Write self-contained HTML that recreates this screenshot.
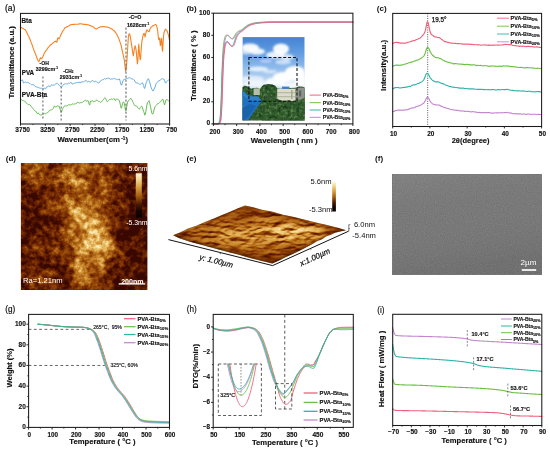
<!DOCTYPE html>
<html lang="en"><head><meta charset="utf-8"><title>PVA-Bta characterization figure</title>
<style>
html,body{margin:0;padding:0;background:#fff;}
body{width:550px;height:452px;overflow:hidden;}
svg{display:block;font-family:'Liberation Sans', Arial, sans-serif;}
text{font-family:'Liberation Sans', Arial, sans-serif;}
</style></head><body>
<svg width="550" height="452" viewBox="0 0 550 452">
<rect width="550" height="452" fill="#fff"/>
<defs>
<linearGradient id="sky" x1="0" y1="0" x2="0" y2="1">
 <stop offset="0" stop-color="#4583d3"/><stop offset="0.18" stop-color="#5f9be0"/>
 <stop offset="0.36" stop-color="#8dbaeb"/><stop offset="0.52" stop-color="#b9d4f0"/><stop offset="0.62" stop-color="#d2e2f2"/><stop offset="1" stop-color="#d2e2f2"/>
</linearGradient>
<clipPath id="photoClip"><rect x="242.4" y="37.1" width="62.3" height="83.4"/></clipPath>
<filter id="cloudBlur" x="-20%" y="-20%" width="140%" height="140%"><feGaussianBlur stdDeviation="1.1"/></filter>
<filter id="treeNoise" x="0" y="0" width="100%" height="100%" color-interpolation-filters="sRGB">
 <feTurbulence type="fractalNoise" baseFrequency="0.32" numOctaves="3" seed="3" result="n"/>
 <feColorMatrix in="n" type="matrix" values="0 0 0 0 0  0 0 0 0 0  0 0 0 0 0  2.2 0 0 0 -0.95" result="a"/>
 <feColorMatrix in="n" type="matrix" values="0 0 0 0 0  0 0 0 0 0  0 0 0 0 0  0 2.0 0 0 -0.95" result="b"/>
 <feFlood flood-color="#15331a"/><feComposite in2="a" operator="in" result="dark"/>
 <feFlood flood-color="#6f9a58"/><feComposite in2="b" operator="in" result="light"/>
 <feMerge><feMergeNode in="SourceGraphic"/><feMergeNode in="dark"/><feMergeNode in="light"/></feMerge>
 <feComposite in2="SourceGraphic" operator="in"/>
</filter>

<clipPath id="afmClip"><rect x="20.9" y="163.1" width="126.5" height="126.8"/></clipPath>
<filter id="afmMap" filterUnits="userSpaceOnUse" x="20.4" y="163.1" width="127.8" height="126.9" color-interpolation-filters="sRGB">
 <feGaussianBlur in="SourceGraphic" stdDeviation="4.5" result="base"/>
 <feTurbulence type="fractalNoise" baseFrequency="0.07" numOctaves="2" seed="11" result="t1"/>
 <feColorMatrix in="t1" type="matrix" values="1 0 0 0 0  1 0 0 0 0  1 0 0 0 0  0 0 0 0 1" result="tg1"/>
 <feTurbulence type="fractalNoise" baseFrequency="0.2" numOctaves="3" seed="4" result="t2"/>
 <feColorMatrix in="t2" type="matrix" values="0 1 0 0 0  0 1 0 0 0  0 1 0 0 0  0 0 0 0 1" result="tg2"/>
 <feComposite in="base" in2="tg1" operator="arithmetic" k1="0" k2="1.0" k3="0.7" k4="-0.15" result="h1"/>
 <feComposite in="h1" in2="tg2" operator="arithmetic" k1="0" k2="1.0" k3="0.7" k4="-0.60" result="h"/>
 <feComponentTransfer in="h">
  <feFuncR type="table" tableValues="0.22 0.34 0.46 0.57 0.69 0.80 0.90 0.97 1.00"/>
  <feFuncG type="table" tableValues="0.03 0.09 0.17 0.27 0.40 0.55 0.72 0.87 0.97"/>
  <feFuncB type="table" tableValues="0.00 0.00 0.01 0.03 0.09 0.19 0.37 0.62 0.88"/>
 </feComponentTransfer>
</filter>
<linearGradient id="afmBar" x1="0" y1="0" x2="0" y2="1">
 <stop offset="0" stop-color="#fff6e0"/><stop offset="0.12" stop-color="#f4dc9a"/><stop offset="0.3" stop-color="#d9a544"/>
 <stop offset="0.5" stop-color="#a8620f"/><stop offset="0.7" stop-color="#4a1a02"/><stop offset="0.85" stop-color="#140500"/><stop offset="1" stop-color="#050100"/>
</linearGradient>

<clipPath id="surfClip"><path d="M173 235.2 L180 232.4 L188 228.6 L197 225.4 L206 221.4 L214 218.6 L222 215.0 L230 211.8 L238 208.2 L245 205.6 L252 207.0 L262 209.8 L272 211.6 L283 214.8 L294 217.0 L305 219.8 L316 222.6 L327 225.0 L337 227.6 L346 230.2 L340 231.6 L335 232.8 L331 234.8 L326 236.6 L322 239.2 L317 241.2 L313 243.8 L304 248.4 L295 253.0 L286 257.0 L279 260.4 L272.4 263.6 L262 261.0 L250 258.0 L238 254.6 L226 251.6 L214 248.2 L202 245.0 L190 241.8 L180 238.6 Z"/></clipPath>
<filter id="surfMap" filterUnits="userSpaceOnUse" x="165" y="200" width="190" height="70" color-interpolation-filters="sRGB">
 <feGaussianBlur in="SourceGraphic" stdDeviation="3" result="base"/>
 <feTurbulence type="fractalNoise" baseFrequency="0.08 0.2" numOctaves="3" seed="5" result="t"/>
 <feColorMatrix in="t" type="matrix" values="0 0 0 0 1  0 0 0 0 1  0 0 0 0 1  1.6 0 0 0 -0.3" result="ta"/>
 <feDiffuseLighting in="ta" surfaceScale="1.9" diffuseConstant="1.0" lighting-color="#ffffff" result="lit">
  <feDistantLight azimuth="250" elevation="55"/>
 </feDiffuseLighting>
 <feComposite in="base" in2="lit" operator="arithmetic" k1="1.25" k2="0" k3="0" k4="-0.02" result="h"/>
 <feComponentTransfer in="h">
  <feFuncR type="table" tableValues="0.22 0.34 0.46 0.57 0.69 0.80 0.90 0.97 1.00"/>
  <feFuncG type="table" tableValues="0.03 0.09 0.17 0.27 0.40 0.55 0.72 0.87 0.97"/>
  <feFuncB type="table" tableValues="0.00 0.00 0.01 0.03 0.09 0.19 0.37 0.62 0.88"/>
 </feComponentTransfer>
</filter>
<linearGradient id="semShade" x1="0" y1="0" x2="0.25" y2="1"><stop offset="0" stop-color="#fff" stop-opacity="0.07"/><stop offset="0.5" stop-color="#808080" stop-opacity="0"/><stop offset="1" stop-color="#000" stop-opacity="0.07"/></linearGradient>
<filter id="semNoise" filterUnits="userSpaceOnUse" x="392.9" y="174.5" width="149.0" height="99.8" color-interpolation-filters="sRGB">
 <feTurbulence type="fractalNoise" baseFrequency="0.9" numOctaves="2" seed="2" result="t"/>
 <feColorMatrix in="t" type="matrix" values="0.10 0 0 0 0.425  0.10 0 0 0 0.425  0.10 0 0 0 0.425  0 0 0 0 1"/>
</filter>
</defs>
<text x="5" y="10.5" font-size="8.5" font-weight="normal" text-anchor="start" fill="#111" stroke="#111" stroke-width="0.22">(a)</text>
<polyline points="20.4,27.04 20.85,27.21 21.3,27.45 21.75,27.72 22.2,27.94 22.65,28.23 23.1,28.46 23.55,28.7 24,29.13 24.45,29.44 24.9,29.6 25.35,29.89 25.8,30.63 26.25,31.5 26.7,32.32 27.15,33.21 27.6,34.24 28.05,35.21 28.5,36.03 28.95,36.92 29.4,37.98 29.85,38.87 30.3,40.01 30.75,41.39 31.2,42.51 31.65,43.6 32.1,44.81 32.55,46.11 33,47.54 33.45,48.81 33.9,50.07 34.35,51.36 34.8,52.46 35.25,53.53 35.7,54.57 36.15,55.67 36.6,56.93 37.05,58.3 37.5,59.38 37.95,60.24 38.4,61.2 38.85,61.58 39.3,60.74 39.75,59.62 40.2,58.11 40.65,57.79 41.1,58.48 41.55,58.68 42,58.24 42.45,57.48 42.9,56.56 43.35,55.47 43.8,54.35 44.25,53.3 44.7,52.41 45.15,51.7 45.6,51.06 46.05,50.55 46.5,50.03 46.95,49.44 47.4,48.66 47.85,47.91 48.3,47.48 48.75,47.02 49.2,46.31 49.65,45.74 50.1,45.28 50.55,44.91 51,44.54 51.45,44.21 51.9,43.93 52.35,43.5 52.8,43.11 53.25,42.85 53.7,42.43 54.15,41.89 54.6,41.54 55.05,41.48 55.5,41.25 55.95,41.1 56.4,41.62 56.85,42.27 57.3,39.81 57.75,38.06 58.2,37.85 58.65,38.64 59.1,38.83 59.55,37.92 60,36.9 60.45,35.74 60.9,34.62 61.35,33.8 61.8,32.95 62.25,32.1 62.7,31.28 63.15,30.63 63.6,30.03 64.05,29.16 64.5,28.19 64.95,27.84 65.4,27.61 65.85,27.45 66.3,27.17 66.75,26.84 67.2,26.63 67.65,26.47 68.1,26.29 68.55,26.09 69,25.82 69.45,25.44 69.9,25.13 70.35,24.98 70.8,24.8 71.25,24.62 71.7,24.46 72.15,24.47 72.6,24.47 73.05,24.37 73.5,24.41 73.95,24.49 74.4,24.35 74.85,24.24 75.3,24.3 75.75,24.28 76.2,24.24 76.65,24.26 77.1,24.23 77.55,24.2 78,24.18 78.45,24.07 78.9,23.93 79.35,23.86 79.8,23.86 80.25,23.87 80.7,23.81 81.15,23.82 81.6,23.96 82.05,23.94 82.5,23.98 82.95,24.18 83.4,24.3 83.85,24.37 84.3,24.36 84.75,24.31 85.2,24.37 85.65,24.5 86.1,24.6 86.55,24.64 87,24.67 87.45,24.71 87.9,24.78 88.35,24.82 88.8,24.99 89.25,25.27 89.7,25.55 90.15,25.65 90.6,25.65 91.05,25.91 91.5,26.22 91.95,26.3 92.4,26.35 92.85,26.63 93.3,27 93.75,27.25 94.2,27.72 94.65,28.2 95.1,28.52 95.55,28.75 96,28.89 96.45,28.99 96.9,28.68 97.35,28.4 97.8,28.14 98.25,27.83 98.7,27.42 99.15,27.18 99.6,27.21 100.05,27.04 100.5,26.84 100.95,26.79 101.4,26.73 101.85,26.66 102.3,26.73 102.75,26.79 103.2,26.66 103.65,26.47 104.1,26.56 104.55,26.77 105,26.87 105.45,26.95 105.9,26.91 106.35,26.89 106.8,27.05 107.25,27.04 107.7,27.16 108.15,27.44 108.6,27.52 109.05,27.72 109.5,27.97 109.95,27.96 110.4,28.14 110.85,28.47 111.3,28.64 111.75,28.85 112.2,29.28 112.65,29.69 113.1,30 113.55,30.24 114,30.68 114.45,31.16 114.9,31.68 115.35,32.32 115.8,32.96 116.25,33.51 116.7,34.21 117.15,35.06 117.6,35.96 118.05,36.93 118.5,37.89 118.95,38.85 119.4,40.16 119.85,41.59 120.3,42.88 120.75,44.14 121.2,45.8 121.65,47.93 122.1,50.01 122.55,51.98 123,54.06 123.45,56.18 123.9,58.17 124.35,60.43 124.8,64.45 125.25,68.1 125.7,71.21 126.15,69.09 126.6,64.71 127.05,58.09 127.5,50.95 127.95,43.29 128.4,36.83 128.85,34.42 129.3,33.74 129.75,34.32 130.2,35.82 130.65,38.71 131.1,41.71 131.55,44.71 132,47.64 132.45,50.61 132.9,53.65 133.35,56.01 133.8,52.84 134.25,49.79 134.7,47.57 135.15,45.75 135.6,47.24 136.05,49.84 136.5,53.9 136.95,59.51 137.4,63.86 137.85,60.76 138.3,51.81 138.75,44.17 139.2,49.79 139.65,55.77 140.1,59.33 140.55,59.33 141,52 141.45,46.3 141.9,41.37 142.35,39.07 142.8,36.63 143.25,34.78 143.7,33.61 144.15,33.37 144.6,34.97 145.05,36.89 145.5,34.95 145.95,32.76 146.4,31.01 146.85,29.82 147.3,30.26 147.75,30.88 148.2,31.3 148.65,31.57 149.1,31.79 149.55,30.35 150,29.06 150.45,28.29 150.9,27.39 151.35,27 151.8,26.6 152.25,26.09 152.7,25.72 153.15,25.61 153.6,25.51 154.05,25.29 154.5,25.1 154.95,24.84 155.4,24.64 155.85,24.52 156.3,25.35 156.75,26.39 157.2,28.34 157.65,30.53 158.1,35.05 158.55,39.5 159,39.35 159.45,38.06 159.9,41.21 160.35,45.61 160.8,43.61 161.25,38.3 161.7,39.2 162.15,48.6 162.6,51.22 163.05,43.25 163.5,36 163.95,33.16 164.4,31.48 164.85,30.34 165.3,29.35 165.75,29.22 166.2,29.8 166.65,30.19 167.1,30.99 167.55,32.2 168,33.58 168.45,35.17 168.9,37.02 169.35,39.53" fill="none" stroke="#f58220" stroke-width="1.1" stroke-linejoin="round" stroke-linecap="round" />
<polyline points="20.4,80.21 20.95,80.65 21.5,80.5 22.05,79.69 22.6,80.11 23.15,82.02 23.7,83.13 24.25,82.78 24.8,82.26 25.35,81.94 25.9,82.21 26.45,82.82 27,82.53 27.55,82.33 28.1,82.54 28.65,82.83 29.2,83.27 29.75,83.53 30.3,83.7 30.85,84.26 31.4,84.68 31.95,84.57 32.5,84.71 33.05,84.86 33.6,84.74 34.15,85.23 34.7,86.14 35.25,86.63 35.8,86.54 36.35,86.72 36.9,87.25 37.45,87.32 38,87.39 38.55,87.68 39.1,87.82 39.65,88.06 40.2,88.32 40.75,88.22 41.3,88.2 41.85,88.28 42.4,88.32 42.95,88.53 43.5,88.57 44.05,88.37 44.6,88.26 45.15,88.49 45.7,88.69 46.25,87.76 46.8,86.78 47.35,86.83 47.9,86.36 48.45,86.03 49,86.25 49.55,86.3 50.1,86.6 50.65,86.26 51.2,85.18 51.75,84.7 52.3,85.12 52.85,85.34 53.4,85.19 53.95,85.16 54.5,84.83 55.05,84.33 55.6,83.95 56.15,83.72 56.7,83.27 57.25,83.34 57.8,84.09 58.35,84.37 58.9,84.6 59.45,85.48 60,86.07 60.55,86.71 61.1,87.31 61.65,86.91 62.2,86.36 62.75,85.52 63.3,84.58 63.85,84.43 64.4,84.18 64.95,83.74 65.5,83.77 66.05,83.88 66.6,83.92 67.15,83.99 67.7,83.73 68.25,83.29 68.8,83.16 69.35,83.24 69.9,83.19 70.45,82.61 71,82.25 71.55,83.14 72.1,84.14 72.65,83.93 73.2,83.66 73.75,83.76 74.3,83.18 74.85,82.82 75.4,83 75.95,82.84 76.5,82.5 77.05,82.31 77.6,82.52 78.15,82.51 78.7,81.95 79.25,82.04 79.8,82.92 80.35,82.83 80.9,81.84 81.45,81.96 82,82.36 82.55,81.83 83.1,81.66 83.65,81.85 84.2,81.48 84.75,81.09 85.3,80.92 85.85,80.43 86.4,80.49 86.95,81.53 87.5,82 88.05,81.56 88.6,81.32 89.15,81.47 89.7,81.8 90.25,82.43 90.8,81.9 91.35,81.1 91.9,80.77 92.45,80.51 93,81.01 93.55,81.35 94.1,81.31 94.65,81.61 95.2,81.52 95.75,81.14 96.3,81.53 96.85,82.17 97.4,82.43 97.95,82.68 98.5,83.02 99.05,82.86 99.6,81.93 100.15,81.2 100.7,80.7 101.25,80.58 101.8,80.22 102.35,79.63 102.9,79.69 103.45,79.69 104,79.09 104.55,78.54 105.1,78.76 105.65,79.12 106.2,78.91 106.75,78.22 107.3,78.29 107.85,78.5 108.4,78.08 108.95,78.03 109.5,78.81 110.05,79.33 110.6,79.17 111.15,78.93 111.7,79.05 112.25,79.2 112.8,78.87 113.35,78.41 113.9,78.55 114.45,78.72 115,78.54 115.55,78.87 116.1,79.39 116.65,79.35 117.2,79.38 117.75,79.81 118.3,79.66 118.85,78.83 119.4,79 119.95,80.54 120.5,82.65 121.05,84.88 121.6,85.05 122.15,83.39 122.7,81.89 123.25,80.27 123.8,79.37 124.35,79.28 124.9,79.36 125.45,79.11 126,78.96 126.55,78.35 127.1,78.28 127.65,78.39 128.2,77.95 128.75,77.96 129.3,77.76 129.85,77.63 130.4,78.02 130.95,78.3 131.5,78.74 132.05,78.95 132.6,79 133.15,79.32 133.7,79.68 134.25,80.01 134.8,81 135.35,82.06 135.9,82.8 136.45,82.92 137,82.69 137.55,83.03 138.1,83.18 138.65,83.48 139.2,84.12 139.75,84.45 140.3,84.27 140.85,83.88 141.4,83.4 141.95,82.89 142.5,82.86 143.05,84.12 143.6,85.59 144.15,87.6 144.7,88.51 145.25,86.36 145.8,84.09 146.35,82.37 146.9,81.2 147.45,79.51 148,78.81 148.55,78.86 149.1,80.34 149.65,81.83 150.2,84.04 150.75,86.28 151.3,88.06 151.85,89.32 152.4,90.01 152.95,91.1 153.5,90.63 154.05,89.09 154.6,88.01 155.15,86.77 155.7,84.82 156.25,83.26 156.8,82.74 157.35,82.39 157.9,81.91 158.45,81.06 159,80.34 159.55,80.55 160.1,80.33 160.65,79.63 161.2,79.32 161.75,78.97 162.3,78.64 162.85,78.81 163.4,78.96 163.95,79.23 164.5,80.19 165.05,82.02 165.6,83.12 166.15,82.13 166.7,81.78 167.25,81.24 167.8,80.41 168.35,80.05 168.9,80.1 169.45,79.94" fill="none" stroke="#5aa7e0" stroke-width="0.95" stroke-linejoin="round" stroke-linecap="round" />
<polyline points="20.4,99.94 20.95,99.8 21.5,99.77 22.05,100.13 22.6,100.59 23.15,100.67 23.7,100.73 24.25,101.06 24.8,101.37 25.35,101.6 25.9,102.54 26.45,103.33 27,103.43 27.55,103.9 28.1,104.53 28.65,104.79 29.2,104.85 29.75,104.63 30.3,105.11 30.85,106.09 31.4,106.71 31.95,107.24 32.5,108.1 33.05,108.83 33.6,109.34 34.15,109.83 34.7,110.61 35.25,111.31 35.8,111.38 36.35,111.68 36.9,113.03 37.45,113.73 38,112.89 38.55,113.13 39.1,114.28 39.65,114.63 40.2,114.89 40.75,114.92 41.3,115.06 41.85,114.8 42.4,114.17 42.95,113.88 43.5,113.87 44.05,113.85 44.6,113.46 45.15,113.49 45.7,113.91 46.25,113.36 46.8,112.85 47.35,112.74 47.9,112.18 48.45,111.83 49,111.46 49.55,110.34 50.1,109.83 50.65,110.12 51.2,109.91 51.75,109.58 52.3,109.32 52.85,108.95 53.4,108.47 53.95,106.91 54.5,105.8 55.05,106.43 55.6,107.14 56.15,107.04 56.7,106.19 57.25,105.65 57.8,106.09 58.35,106.12 58.9,106.06 59.45,107 60,108.92 60.55,110.68 61.1,112.4 61.65,111.81 62.2,109.68 62.75,108.55 63.3,107.59 63.85,106.66 64.4,106.04 64.95,105.75 65.5,105.9 66.05,105.97 66.6,105.94 67.15,105.95 67.7,105.33 68.25,104.75 68.8,104.91 69.35,104.88 69.9,104.81 70.45,104.91 71,104.9 71.55,104.65 72.1,104.05 72.65,103.85 73.2,104.27 73.75,104.09 74.3,103.82 74.85,104.1 75.4,103.91 75.95,103.52 76.5,103.35 77.05,102.9 77.6,102.21 78.15,102.23 78.7,102.98 79.25,103.24 79.8,102.86 80.35,102.64 80.9,102.74 81.45,102.64 82,102.35 82.55,102.27 83.1,101.92 83.65,101.46 84.2,101.22 84.75,100.37 85.3,99.98 85.85,100.61 86.4,101.14 86.95,101.14 87.5,100.69 88.05,100.6 88.6,102.07 89.15,104.26 89.7,105.14 90.25,102.19 90.8,100.93 91.35,101.19 91.9,100.88 92.45,100.42 93,101.12 93.55,102.02 94.1,101.53 94.65,101.33 95.2,101.58 95.75,101.03 96.3,100.08 96.85,100.14 97.4,100.55 97.95,100.9 98.5,101.45 99.05,101.66 99.6,101.55 100.15,102.02 100.7,102.43 101.25,102.02 101.8,101.38 102.35,100.92 102.9,100.42 103.45,99.58 104,98.47 104.55,98 105.1,98.03 105.65,98.26 106.2,99.83 106.75,100.86 107.3,101.77 107.85,101.2 108.4,100.68 108.95,100.15 109.5,99.67 110.05,99.24 110.6,99.49 111.15,99.39 111.7,99.01 112.25,99.21 112.8,99.55 113.35,99.07 113.9,98.46 114.45,98.88 115,100.3 115.55,100.56 116.1,99.38 116.65,98.77 117.2,99.1 117.75,99.42 118.3,99.71 118.85,99.83 119.4,100.72 119.95,102.91 120.5,105.59 121.05,108.23 121.6,107.82 122.15,105.02 122.7,103.17 123.25,101.91 123.8,102.2 124.35,103.36 124.9,106.59 125.45,110.17 126,110.98 126.55,107.65 127.1,104.76 127.65,102.03 128.2,101.07 128.75,100.22 129.3,99.98 129.85,99.3 130.4,98.54 130.95,98.34 131.5,99.19 132.05,100.03 132.6,101.16 133.15,102.59 133.7,103.77 134.25,104.8 134.8,105.62 135.35,105.85 135.9,105.69 136.45,105.81 137,106.55 137.55,107.63 138.1,108.23 138.65,108.52 139.2,109.23 139.75,108.79 140.3,107.52 140.85,106.79 141.4,106.42 141.95,106.33 142.5,107.83 143.05,109.88 143.6,111.47 144.15,112.71 144.7,115.08 145.25,114.66 145.8,111.83 146.35,108.4 146.9,105.04 147.45,102.84 148,102.02 148.55,101.49 149.1,100.63 149.65,102.91 150.2,105.22 150.75,107.87 151.3,110.43 151.85,113.01 152.4,114.12 152.95,113.94 153.5,112.27 154.05,109.96 154.6,107.87 155.15,106.6 155.7,105.8 156.25,105.34 156.8,104.42 157.35,103.93 157.9,103.67 158.45,103.52 159,103.19 159.55,102.59 160.1,101.94 160.65,101.28 161.2,101.08 161.75,100.58 162.3,99.37 162.85,99.16 163.4,100.87 163.95,102.85 164.5,104.9 165.05,103.31 165.6,101.04 166.15,99.8 166.7,99.59 167.25,99.79 167.8,99.98 168.35,100.7 168.9,101.32 169.45,101.53" fill="none" stroke="#5cb848" stroke-width="0.95" stroke-linejoin="round" stroke-linecap="round" />
<line x1="42.91" y1="76.4" x2="42.91" y2="120.5" stroke="#707070" stroke-width="1.3" stroke-dasharray="2.2 1.8" stroke-opacity="0.9"/>
<line x1="61.2" y1="82.4" x2="61.2" y2="120.5" stroke="#707070" stroke-width="1.3" stroke-dasharray="2.2 1.8" stroke-opacity="0.9"/>
<line x1="125.96" y1="27.5" x2="125.96" y2="120.5" stroke="#707070" stroke-width="1.3" stroke-dasharray="2.2 1.8" stroke-opacity="0.9"/>
<rect x="20.5" y="13.4" width="149.1" height="110.6" fill="none" stroke="#1a1a1a" stroke-width="1.05"/>
<line x1="169.6" y1="124" x2="169.6" y2="125.8" stroke="#1a1a1a" stroke-width="0.9" />
<line x1="144.75" y1="124" x2="144.75" y2="125.8" stroke="#1a1a1a" stroke-width="0.9" />
<line x1="119.9" y1="124" x2="119.9" y2="125.8" stroke="#1a1a1a" stroke-width="0.9" />
<line x1="95.05" y1="124" x2="95.05" y2="125.8" stroke="#1a1a1a" stroke-width="0.9" />
<line x1="70.2" y1="124" x2="70.2" y2="125.8" stroke="#1a1a1a" stroke-width="0.9" />
<line x1="45.35" y1="124" x2="45.35" y2="125.8" stroke="#1a1a1a" stroke-width="0.9" />
<line x1="20.5" y1="124" x2="20.5" y2="125.8" stroke="#1a1a1a" stroke-width="0.9" />
<line x1="157.17" y1="124" x2="157.17" y2="125.08" stroke="#1a1a1a" stroke-width="0.8" />
<line x1="132.32" y1="124" x2="132.32" y2="125.08" stroke="#1a1a1a" stroke-width="0.8" />
<line x1="107.48" y1="124" x2="107.48" y2="125.08" stroke="#1a1a1a" stroke-width="0.8" />
<line x1="82.62" y1="124" x2="82.62" y2="125.08" stroke="#1a1a1a" stroke-width="0.8" />
<line x1="57.77" y1="124" x2="57.77" y2="125.08" stroke="#1a1a1a" stroke-width="0.8" />
<line x1="32.92" y1="124" x2="32.92" y2="125.08" stroke="#1a1a1a" stroke-width="0.8" />
<text x="171.8" y="132.3" font-size="6.6" font-weight="bold" text-anchor="middle" fill="#111"  stroke="#111" stroke-width="0.14">750</text>
<text x="146.95" y="132.3" font-size="6.6" font-weight="bold" text-anchor="middle" fill="#111"  stroke="#111" stroke-width="0.14">1250</text>
<text x="122.1" y="132.3" font-size="6.6" font-weight="bold" text-anchor="middle" fill="#111"  stroke="#111" stroke-width="0.14">1750</text>
<text x="97.25" y="132.3" font-size="6.6" font-weight="bold" text-anchor="middle" fill="#111"  stroke="#111" stroke-width="0.14">2250</text>
<text x="72.4" y="132.3" font-size="6.6" font-weight="bold" text-anchor="middle" fill="#111"  stroke="#111" stroke-width="0.14">2750</text>
<text x="47.55" y="132.3" font-size="6.6" font-weight="bold" text-anchor="middle" fill="#111"  stroke="#111" stroke-width="0.14">3250</text>
<text x="22.7" y="132.3" font-size="6.6" font-weight="bold" text-anchor="middle" fill="#111"  stroke="#111" stroke-width="0.14">3750</text>
<text x="92.7" y="142.2" font-size="7.8" font-weight="bold" text-anchor="middle" fill="#111"  stroke="#111" stroke-width="0.14">Wavenumber(cm<tspan font-size="60%" dy="-2.4"> -1</tspan><tspan dy="2.4">)</tspan></text>
<text transform="translate(13.7 62.3) rotate(-90)" font-size="7.65" font-weight="bold" text-anchor="middle" fill="#111" stroke="#111" stroke-width="0.14">Transmittance (a.u.)</text>
<text x="21.5" y="23.2" font-size="6.4" font-weight="bold" text-anchor="start" fill="#111"  stroke="#111" stroke-width="0.14">Bta</text>
<text x="21.7" y="74.8" font-size="6.3" font-weight="bold" text-anchor="start" fill="#111"  stroke="#111" stroke-width="0.14">PVA</text>
<text x="21.7" y="96.8" font-size="6.5" font-weight="bold" text-anchor="start" fill="#111"  stroke="#111" stroke-width="0.14">PVA-Bta</text>
<text x="39.6" y="64.7" font-size="5.1" font-weight="bold" text-anchor="start" fill="#111"  stroke="#111" stroke-width="0.14">-OH</text>
<text x="35.8" y="71.1" font-size="5.3" font-weight="bold" text-anchor="start" fill="#111"  stroke="#111" stroke-width="0.14">3299cm<tspan font-size="60%" dy="-1.8">-1</tspan></text>
<text x="63.2" y="72.6" font-size="4.8" font-weight="bold" text-anchor="start" fill="#111"  stroke="#111" stroke-width="0.14">-CH<tspan font-size="60%" dy="0.8">2</tspan></text>
<text x="59.8" y="78.8" font-size="5.3" font-weight="bold" text-anchor="start" fill="#111"  stroke="#111" stroke-width="0.14">2931cm<tspan font-size="60%" dy="-1.8">-1</tspan></text>
<text x="128.7" y="19" font-size="5.3" font-weight="bold" text-anchor="start" fill="#111"  stroke="#111" stroke-width="0.14">-C=O</text>
<text x="126.9" y="26.8" font-size="5.3" font-weight="bold" text-anchor="start" fill="#111"  stroke="#111" stroke-width="0.14">1628cm<tspan font-size="60%" dy="-1.8">-1</tspan></text>
<text x="186.4" y="10.7" font-size="8.1" font-weight="bold" text-anchor="start" fill="#111" stroke="none">(b)</text>
<g clip-path="url(#photoClip)">
<rect x="242.4" y="37.1" width="62.3" height="83.4" fill="url(#sky)"/>
<g filter="url(#cloudBlur)" fill="#ffffff">
<ellipse cx="250" cy="47.5" rx="9" ry="4.0" opacity="0.95"/>
<ellipse cx="257" cy="51.5" rx="8" ry="3.2" opacity="0.9"/>
<ellipse cx="246" cy="52" rx="5" ry="2.5" opacity="0.7"/>
<ellipse cx="281" cy="49" rx="8" ry="5.5" opacity="0.95"/>
<ellipse cx="275" cy="55" rx="9" ry="3.4" opacity="0.85"/>
<ellipse cx="287" cy="57" rx="7" ry="3.0" opacity="0.7"/>
<ellipse cx="283" cy="62" rx="8" ry="2.4" opacity="0.6"/>
<ellipse cx="266" cy="61" rx="6" ry="1.6" opacity="0.45"/>
<ellipse cx="258" cy="69" rx="10" ry="2.6" opacity="0.75"/>
<ellipse cx="270" cy="71.5" rx="7" ry="1.8" opacity="0.55"/>
<ellipse cx="295" cy="72" rx="10" ry="6" opacity="0.98"/>
<ellipse cx="285" cy="77" rx="12" ry="5" opacity="0.98"/>
<ellipse cx="301" cy="79" rx="7" ry="6" opacity="0.95"/>
<ellipse cx="276" cy="81" rx="10" ry="3.4" opacity="0.85"/>
<ellipse cx="252" cy="79" rx="12" ry="3.2" opacity="0.6"/>
<ellipse cx="262" cy="84" rx="22" ry="3.2" opacity="0.7"/>
<ellipse cx="292" cy="85" rx="14" ry="3" opacity="0.8"/>
</g>
<g filter="url(#treeNoise)">
<path d="M242 87.2 L244.5 85.6 L248 86.4 L251 88.4 L253.5 88 L257 87.4 L260 88.8 L262 86 L264 84.6 L268 84 L272 84.3 L275 85.6 L277.5 88.2 L282 88.6 L290 88 L296 87.4 L299 86.2 L302 86.6 L305 87.6 L305 121 L242 121 Z" fill="#305a2c"/>
</g>
<rect x="253.6" y="88.4" width="6.2" height="6.6" fill="#c4c9ba" opacity="0.9"/>
<rect x="277.2" y="88.8" width="18.4" height="12.4" fill="#dcdccb"/>
<rect x="295.6" y="88.0" width="8.8" height="12.2" fill="#8d938b"/>
<rect x="282.0" y="86.6" width="7.4" height="2.3" fill="#3f7ccb"/>
<rect x="277.2" y="92.4" width="18.4" height="0.8" fill="#a3a38f"/>
<rect x="277.2" y="96.4" width="18.4" height="0.8" fill="#a3a38f"/>
<rect x="291.0" y="90.0" width="1.6" height="9" fill="#a9a996"/>
<rect x="299.0" y="90.5" width="2.2" height="6" fill="#5d665d"/>
<g filter="url(#treeNoise)">
<path d="M262 121 L262 100 L266 97.5 L271 98.6 L275 97.2 L279 99.6 L284 100.8 L289 100 L293 101.4 L297 99.2 L301 99.8 L305 97.6 L305 121 Z" fill="#315c2c"/>
</g>
<path d="M242.4 91 L245 92.6 L247.4 95.2 L252 96.4 L258 96.6 L261.8 100.9 L258.6 105.6 L254.6 111 L250.8 116.2 L248 120.5 L242.4 120.5 Z" fill="#1f72c0"/>
<path d="M242.4 91 L245 92.6 L247.4 95.2 L252 96.4 L258 96.6 L261.8 100.9 L252 100.4 L246 98 L242.4 95 Z" fill="#2a82d2"/>
<path d="M242.4 108 L250 104 L256 106 L249 116 L245 120 L242.4 120.5 Z" fill="#195fa6" opacity="0.8"/>
</g>
<rect x="248.9" y="57.4" width="48.1" height="43.8" fill="none" stroke="#111" stroke-width="1.05" stroke-dasharray="3.0 1.9"/>
<polyline points="213,123.75 213.35,123.75 213.7,123.75 214.05,123.75 214.4,123.75 214.75,123.75 215.1,123.75 215.45,123.75 215.8,123.75 216.15,123.75 216.5,123.75 216.85,123.75 217.2,123.75 217.55,123.71 217.89,123.59 218.24,123.41 218.59,123.19 218.94,122.75 219.29,121.95 219.64,120.81 219.99,118.88 220.34,115.15 220.69,110.16 221.04,102.18 221.39,92.15 221.74,80.86 222.09,69.99 222.44,60.74 222.79,53.63 223.14,48.99 223.49,45.46 223.84,42.47 224.19,40.25 224.54,38.67 224.89,37.47 225.24,36.65 225.59,35.95 225.94,35.37 226.29,35.03 226.64,34.97 226.98,35.02 227.33,35.11 227.68,35.23 228.03,35.38 228.38,35.69 228.73,36.11 229.08,36.53 229.43,36.9 229.78,37.27 230.13,37.63 230.48,37.93 230.83,38.17 231.18,38.4 231.53,38.57 231.88,38.62 232.23,38.54 232.58,38.35 232.93,38.11 233.28,37.8 233.63,37.32 233.98,36.75 234.33,36.17 234.68,35.61 235.03,35.01 235.38,34.39 235.73,33.83 236.08,33.35 236.42,32.93 236.77,32.54 237.12,32.19 237.47,31.89 237.82,31.64 238.17,31.43 238.52,31.24 238.87,31.07 239.22,30.9 239.57,30.73 239.92,30.56 240.27,30.41 240.62,30.26 240.97,30.09 241.32,29.9 241.67,29.68 242.02,29.43 242.37,29.15 242.72,28.86 243.07,28.55 243.42,28.24 243.77,27.94 244.12,27.65 244.47,27.38 244.82,27.11 245.17,26.84 245.52,26.57 245.86,26.31 246.21,26.04 246.56,25.79 246.91,25.56 247.26,25.34 247.61,25.14 247.96,24.96 248.31,24.8 248.66,24.64 249.01,24.49 249.36,24.34 249.71,24.2 250.06,24.07 250.41,23.94 250.76,23.82 251.11,23.71 251.46,23.61 251.81,23.51 252.16,23.43 252.51,23.35 252.86,23.28 253.21,23.21 253.56,23.14 253.91,23.07 254.26,23.01 254.61,22.94 254.95,22.88 255.3,22.83 255.65,22.77 256,22.72 256.35,22.67 256.7,22.62 257.05,22.58 257.4,22.54 257.75,22.5 258.1,22.46 258.45,22.43 258.8,22.4 259.15,22.37 259.5,22.35 259.85,22.33 260.2,22.31 260.55,22.28 260.9,22.26 261.25,22.24 261.6,22.22 261.95,22.2 262.3,22.19 262.65,22.17 263,22.15 263.35,22.13 263.7,22.12 264.05,22.1 264.39,22.08 264.74,22.07 265.09,22.05 265.44,22.04 265.79,22.03 266.14,22.01 266.49,22 266.84,21.99 267.19,21.98 267.54,21.97 267.89,21.96 268.24,21.95 268.59,21.94 268.94,21.94 269.29,21.93 269.64,21.92 269.99,21.92 270.34,21.91 270.69,21.91 271.04,21.91 271.39,21.9 271.74,21.9 272.09,21.9 272.44,21.9 272.79,21.89 273.14,21.89 273.48,21.89 273.83,21.89 274.18,21.89 274.53,21.88 274.88,21.88 275.23,21.88 275.58,21.88 275.93,21.88 276.28,21.87 276.63,21.87 276.98,21.87 277.33,21.87 277.68,21.87 278.03,21.86 278.38,21.86 278.73,21.86 279.08,21.86 279.43,21.86 279.78,21.86 280.13,21.85 280.48,21.85 280.83,21.85 281.18,21.85 281.53,21.85 281.88,21.85 282.23,21.84 282.58,21.84 282.92,21.84 283.27,21.84 283.62,21.84 283.97,21.84 284.32,21.84 284.67,21.83 285.02,21.83 285.37,21.83 285.72,21.83 286.07,21.83 286.42,21.83 286.77,21.83 287.12,21.83 287.47,21.82 287.82,21.82 288.17,21.82 288.52,21.82 288.87,21.82 289.22,21.82 289.57,21.82 289.92,21.82 290.27,21.82 290.62,21.82 290.97,21.81 291.32,21.81 291.67,21.81 292.02,21.81 292.36,21.81 292.71,21.81 293.06,21.81 293.41,21.81 293.76,21.81 294.11,21.81 294.46,21.81 294.81,21.81 295.16,21.8 295.51,21.8 295.86,21.8 296.21,21.8 296.56,21.8 296.91,21.8 297.26,21.8 297.61,21.8 297.96,21.8 298.31,21.8 298.66,21.8 299.01,21.8 299.36,21.8 299.71,21.8 300.06,21.8 300.41,21.8 300.76,21.8 301.11,21.8 301.45,21.8 301.8,21.8 302.15,21.8 302.5,21.8 302.85,21.8 303.2,21.8 303.55,21.8 303.9,21.8 304.25,21.8 304.6,21.8 304.95,21.8 305.3,21.8 305.65,21.8 306,21.8 306.35,21.8 306.7,21.8 307.05,21.8 307.4,21.8 307.75,21.8 308.1,21.8 308.45,21.8 308.8,21.8 309.15,21.8 309.5,21.8 309.85,21.8 310.2,21.8 310.55,21.8 310.89,21.8 311.24,21.8 311.59,21.8 311.94,21.8 312.29,21.8 312.64,21.8 312.99,21.8 313.34,21.8 313.69,21.8 314.04,21.8 314.39,21.8 314.74,21.8 315.09,21.8 315.44,21.8 315.79,21.8 316.14,21.8 316.49,21.8 316.84,21.8 317.19,21.8 317.54,21.8 317.89,21.8 318.24,21.8 318.59,21.8 318.94,21.8 319.29,21.8 319.64,21.8 319.98,21.8 320.33,21.8 320.68,21.8 321.03,21.8 321.38,21.8 321.73,21.8 322.08,21.8 322.43,21.8 322.78,21.8 323.13,21.8 323.48,21.8 323.83,21.8 324.18,21.8 324.53,21.8 324.88,21.8 325.23,21.8 325.58,21.8 325.93,21.8 326.28,21.8 326.63,21.8 326.98,21.8 327.33,21.8 327.68,21.8 328.03,21.8 328.38,21.8 328.73,21.8 329.08,21.8 329.42,21.8 329.77,21.8 330.12,21.8 330.47,21.8 330.82,21.8 331.17,21.8 331.52,21.8 331.87,21.8 332.22,21.8 332.57,21.8 332.92,21.8 333.27,21.8 333.62,21.8 333.97,21.8 334.32,21.8 334.67,21.8 335.02,21.8 335.37,21.8 335.72,21.8 336.07,21.8 336.42,21.8 336.77,21.8 337.12,21.8 337.47,21.8 337.82,21.8 338.17,21.8 338.52,21.8 338.86,21.8 339.21,21.8 339.56,21.8 339.91,21.8 340.26,21.8 340.61,21.8 340.96,21.8 341.31,21.8 341.66,21.8 342.01,21.8 342.36,21.8 342.71,21.8 343.06,21.8 343.41,21.8 343.76,21.8 344.11,21.8 344.46,21.8 344.81,21.8 345.16,21.8 345.51,21.8 345.86,21.8 346.21,21.8 346.56,21.8 346.91,21.8 347.26,21.8 347.61,21.8 347.95,21.8 348.3,21.8 348.65,21.8 349,21.8 349.35,21.8 349.7,21.8 350.05,21.8 350.4,21.8 350.75,21.8 351.1,21.8 351.45,21.8 351.8,21.8 352.15,21.8 352.5,21.8" fill="none" stroke="#6cc044" stroke-width="1" stroke-linejoin="round" stroke-linecap="round" />
<polyline points="213.15,123.8 213.5,123.8 213.85,123.8 214.2,123.8 214.55,123.8 214.9,123.8 215.25,123.8 215.6,123.8 215.95,123.8 216.3,123.8 216.65,123.8 217,123.8 217.35,123.8 217.7,123.77 218.04,123.67 218.39,123.53 218.74,123.35 219.09,122.97 219.44,122.27 219.79,121.26 220.14,119.5 220.49,116.01 220.84,111.34 221.19,103.87 221.54,94.45 221.89,83.61 222.24,73.43 222.59,65.42 222.94,59.24 223.29,54.98 223.64,51.61 223.99,48.62 224.34,46.39 224.69,44.84 225.04,43.67 225.39,42.94 225.74,42.35 226.09,41.88 226.44,41.6 226.79,41.56 227.13,41.69 227.48,41.9 227.83,42.17 228.18,42.47 228.53,42.94 228.88,43.51 229.23,44.06 229.58,44.51 229.93,44.92 230.28,45.3 230.63,45.62 230.98,45.86 231.33,46.08 231.68,46.2 232.03,46.13 232.38,45.88 232.73,45.52 233.08,45.08 233.43,44.34 233.78,43.4 234.13,42.39 234.48,41.4 234.83,40.3 235.18,39.16 235.53,38.12 235.88,37.28 236.23,36.52 236.57,35.83 236.92,35.21 237.27,34.66 237.62,34.17 237.97,33.73 238.32,33.33 238.67,32.96 239.02,32.62 239.37,32.32 239.72,32.04 240.07,31.8 240.42,31.56 240.77,31.34 241.12,31.1 241.47,30.85 241.82,30.57 242.17,30.28 242.52,29.99 242.87,29.68 243.22,29.38 243.57,29.07 243.92,28.77 244.27,28.48 244.62,28.2 244.97,27.93 245.32,27.65 245.67,27.37 246.01,27.09 246.36,26.82 246.71,26.56 247.06,26.31 247.41,26.08 247.76,25.86 248.11,25.67 248.46,25.49 248.81,25.32 249.16,25.15 249.51,24.98 249.86,24.83 250.21,24.68 250.56,24.53 250.91,24.4 251.26,24.27 251.61,24.15 251.96,24.04 252.31,23.94 252.66,23.84 253.01,23.76 253.36,23.67 253.71,23.59 254.06,23.51 254.41,23.43 254.76,23.36 255.1,23.28 255.45,23.21 255.8,23.15 256.15,23.08 256.5,23.02 256.85,22.96 257.2,22.91 257.55,22.85 257.9,22.81 258.25,22.76 258.6,22.72 258.95,22.68 259.3,22.65 259.65,22.62 260,22.59 260.35,22.57 260.7,22.54 261.05,22.51 261.4,22.49 261.75,22.46 262.1,22.44 262.45,22.42 262.8,22.39 263.15,22.37 263.5,22.35 263.85,22.33 264.2,22.31 264.54,22.29 264.89,22.27 265.24,22.25 265.59,22.23 265.94,22.22 266.29,22.2 266.64,22.18 266.99,22.17 267.34,22.16 267.69,22.14 268.04,22.13 268.39,22.12 268.74,22.11 269.09,22.1 269.44,22.09 269.79,22.09 270.14,22.08 270.49,22.07 270.84,22.07 271.19,22.07 271.54,22.06 271.89,22.06 272.24,22.06 272.59,22.06 272.94,22.06 273.29,22.05 273.63,22.05 273.98,22.05 274.33,22.05 274.68,22.04 275.03,22.04 275.38,22.04 275.73,22.04 276.08,22.04 276.43,22.03 276.78,22.03 277.13,22.03 277.48,22.03 277.83,22.03 278.18,22.02 278.53,22.02 278.88,22.02 279.23,22.02 279.58,22.02 279.93,22.02 280.28,22.01 280.63,22.01 280.98,22.01 281.33,22.01 281.68,22.01 282.03,22.01 282.38,22 282.73,22 283.07,22 283.42,22 283.77,22 284.12,22 284.47,22 284.82,21.99 285.17,21.99 285.52,21.99 285.87,21.99 286.22,21.99 286.57,21.99 286.92,21.99 287.27,21.99 287.62,21.98 287.97,21.98 288.32,21.98 288.67,21.98 289.02,21.98 289.37,21.98 289.72,21.98 290.07,21.98 290.42,21.98 290.77,21.98 291.12,21.97 291.47,21.97 291.82,21.97 292.17,21.97 292.51,21.97 292.86,21.97 293.21,21.97 293.56,21.97 293.91,21.97 294.26,21.97 294.61,21.97 294.96,21.97 295.31,21.97 295.66,21.96 296.01,21.96 296.36,21.96 296.71,21.96 297.06,21.96 297.41,21.96 297.76,21.96 298.11,21.96 298.46,21.96 298.81,21.96 299.16,21.96 299.51,21.96 299.86,21.96 300.21,21.96 300.56,21.96 300.91,21.96 301.26,21.96 301.6,21.96 301.95,21.96 302.3,21.96 302.65,21.96 303,21.96 303.35,21.96 303.7,21.96 304.05,21.96 304.4,21.96 304.75,21.96 305.1,21.96 305.45,21.96 305.8,21.96 306.15,21.96 306.5,21.96 306.85,21.96 307.2,21.96 307.55,21.96 307.9,21.96 308.25,21.96 308.6,21.96 308.95,21.96 309.3,21.96 309.65,21.96 310,21.96 310.35,21.96 310.7,21.96 311.04,21.96 311.39,21.96 311.74,21.96 312.09,21.96 312.44,21.96 312.79,21.96 313.14,21.96 313.49,21.96 313.84,21.96 314.19,21.96 314.54,21.96 314.89,21.96 315.24,21.96 315.59,21.96 315.94,21.96 316.29,21.96 316.64,21.96 316.99,21.96 317.34,21.96 317.69,21.96 318.04,21.96 318.39,21.96 318.74,21.96 319.09,21.96 319.44,21.96 319.79,21.96 320.13,21.96 320.48,21.96 320.83,21.96 321.18,21.96 321.53,21.96 321.88,21.96 322.23,21.96 322.58,21.96 322.93,21.96 323.28,21.96 323.63,21.96 323.98,21.96 324.33,21.96 324.68,21.96 325.03,21.96 325.38,21.96 325.73,21.96 326.08,21.96 326.43,21.96 326.78,21.96 327.13,21.96 327.48,21.96 327.83,21.96 328.18,21.96 328.53,21.96 328.88,21.96 329.23,21.96 329.57,21.96 329.92,21.96 330.27,21.96 330.62,21.96 330.97,21.96 331.32,21.96 331.67,21.96 332.02,21.96 332.37,21.96 332.72,21.96 333.07,21.96 333.42,21.96 333.77,21.96 334.12,21.96 334.47,21.96 334.82,21.96 335.17,21.96 335.52,21.96 335.87,21.96 336.22,21.96 336.57,21.96 336.92,21.96 337.27,21.96 337.62,21.96 337.97,21.96 338.32,21.96 338.67,21.96 339.01,21.96 339.36,21.96 339.71,21.96 340.06,21.96 340.41,21.96 340.76,21.96 341.11,21.96 341.46,21.96 341.81,21.96 342.16,21.96 342.51,21.96 342.86,21.96 343.21,21.96 343.56,21.96 343.91,21.96 344.26,21.96 344.61,21.96 344.96,21.96 345.31,21.96 345.66,21.96 346.01,21.96 346.36,21.96 346.71,21.96 347.06,21.96 347.41,21.96 347.76,21.96 348.1,21.96 348.45,21.96 348.8,21.96 349.15,21.96 349.5,21.96 349.85,21.96 350.2,21.96 350.55,21.96 350.9,21.96 351.25,21.96 351.6,21.96 351.95,21.96 352.3,21.96 352.65,21.96" fill="none" stroke="#2db5aa" stroke-width="1" stroke-linejoin="round" stroke-linecap="round" />
<polyline points="213.7,124.1 214.05,124.1 214.4,124.1 214.75,124.1 215.1,124.1 215.45,124.1 215.8,124.1 216.15,124.1 216.5,124.1 216.85,124.1 217.2,124.1 217.55,124.1 217.9,124.1 218.25,124.06 218.59,123.94 218.94,123.76 219.29,123.54 219.64,123.1 219.99,122.3 220.34,121.16 220.69,119.23 221.04,115.5 221.39,110.51 221.74,102.53 222.09,92.5 222.44,81.21 222.79,70.34 223.14,61.09 223.49,53.98 223.84,49.34 224.19,45.81 224.54,42.82 224.89,40.6 225.24,39.02 225.59,37.82 225.94,37 226.29,36.3 226.64,35.72 226.99,35.38 227.34,35.32 227.68,35.37 228.03,35.46 228.38,35.58 228.73,35.73 229.08,36.04 229.43,36.46 229.78,36.88 230.13,37.25 230.48,37.62 230.83,37.98 231.18,38.28 231.53,38.52 231.88,38.75 232.23,38.92 232.58,38.97 232.93,38.89 233.28,38.7 233.63,38.46 233.98,38.15 234.33,37.67 234.68,37.1 235.03,36.52 235.38,35.96 235.73,35.36 236.08,34.74 236.43,34.18 236.78,33.7 237.12,33.28 237.47,32.89 237.82,32.54 238.17,32.24 238.52,31.99 238.87,31.78 239.22,31.59 239.57,31.42 239.92,31.25 240.27,31.08 240.62,30.91 240.97,30.76 241.32,30.61 241.67,30.44 242.02,30.25 242.37,30.03 242.72,29.78 243.07,29.5 243.42,29.21 243.77,28.9 244.12,28.59 244.47,28.29 244.82,28 245.17,27.73 245.52,27.46 245.87,27.19 246.22,26.92 246.56,26.66 246.91,26.39 247.26,26.14 247.61,25.91 247.96,25.69 248.31,25.49 248.66,25.31 249.01,25.15 249.36,24.99 249.71,24.84 250.06,24.69 250.41,24.55 250.76,24.42 251.11,24.29 251.46,24.17 251.81,24.06 252.16,23.96 252.51,23.86 252.86,23.78 253.21,23.7 253.56,23.63 253.91,23.56 254.26,23.49 254.61,23.42 254.96,23.36 255.31,23.29 255.65,23.23 256,23.18 256.35,23.12 256.7,23.07 257.05,23.02 257.4,22.97 257.75,22.93 258.1,22.89 258.45,22.85 258.8,22.81 259.15,22.78 259.5,22.75 259.85,22.72 260.2,22.7 260.55,22.68 260.9,22.66 261.25,22.63 261.6,22.61 261.95,22.59 262.3,22.57 262.65,22.55 263,22.54 263.35,22.52 263.7,22.5 264.05,22.48 264.4,22.47 264.75,22.45 265.09,22.43 265.44,22.42 265.79,22.4 266.14,22.39 266.49,22.38 266.84,22.36 267.19,22.35 267.54,22.34 267.89,22.33 268.24,22.32 268.59,22.31 268.94,22.3 269.29,22.29 269.64,22.29 269.99,22.28 270.34,22.27 270.69,22.27 271.04,22.26 271.39,22.26 271.74,22.26 272.09,22.25 272.44,22.25 272.79,22.25 273.14,22.25 273.49,22.24 273.84,22.24 274.18,22.24 274.53,22.24 274.88,22.24 275.23,22.23 275.58,22.23 275.93,22.23 276.28,22.23 276.63,22.23 276.98,22.22 277.33,22.22 277.68,22.22 278.03,22.22 278.38,22.22 278.73,22.21 279.08,22.21 279.43,22.21 279.78,22.21 280.13,22.21 280.48,22.21 280.83,22.2 281.18,22.2 281.53,22.2 281.88,22.2 282.23,22.2 282.58,22.2 282.93,22.19 283.28,22.19 283.62,22.19 283.97,22.19 284.32,22.19 284.67,22.19 285.02,22.19 285.37,22.18 285.72,22.18 286.07,22.18 286.42,22.18 286.77,22.18 287.12,22.18 287.47,22.18 287.82,22.18 288.17,22.17 288.52,22.17 288.87,22.17 289.22,22.17 289.57,22.17 289.92,22.17 290.27,22.17 290.62,22.17 290.97,22.17 291.32,22.17 291.67,22.16 292.02,22.16 292.37,22.16 292.72,22.16 293.06,22.16 293.41,22.16 293.76,22.16 294.11,22.16 294.46,22.16 294.81,22.16 295.16,22.16 295.51,22.16 295.86,22.15 296.21,22.15 296.56,22.15 296.91,22.15 297.26,22.15 297.61,22.15 297.96,22.15 298.31,22.15 298.66,22.15 299.01,22.15 299.36,22.15 299.71,22.15 300.06,22.15 300.41,22.15 300.76,22.15 301.11,22.15 301.46,22.15 301.81,22.15 302.15,22.15 302.5,22.15 302.85,22.15 303.2,22.15 303.55,22.15 303.9,22.15 304.25,22.15 304.6,22.15 304.95,22.15 305.3,22.15 305.65,22.15 306,22.15 306.35,22.15 306.7,22.15 307.05,22.15 307.4,22.15 307.75,22.15 308.1,22.15 308.45,22.15 308.8,22.15 309.15,22.15 309.5,22.15 309.85,22.15 310.2,22.15 310.55,22.15 310.9,22.15 311.25,22.15 311.59,22.15 311.94,22.15 312.29,22.15 312.64,22.15 312.99,22.15 313.34,22.15 313.69,22.15 314.04,22.15 314.39,22.15 314.74,22.15 315.09,22.15 315.44,22.15 315.79,22.15 316.14,22.15 316.49,22.15 316.84,22.15 317.19,22.15 317.54,22.15 317.89,22.15 318.24,22.15 318.59,22.15 318.94,22.15 319.29,22.15 319.64,22.15 319.99,22.15 320.34,22.15 320.68,22.15 321.03,22.15 321.38,22.15 321.73,22.15 322.08,22.15 322.43,22.15 322.78,22.15 323.13,22.15 323.48,22.15 323.83,22.15 324.18,22.15 324.53,22.15 324.88,22.15 325.23,22.15 325.58,22.15 325.93,22.15 326.28,22.15 326.63,22.15 326.98,22.15 327.33,22.15 327.68,22.15 328.03,22.15 328.38,22.15 328.73,22.15 329.08,22.15 329.43,22.15 329.78,22.15 330.12,22.15 330.47,22.15 330.82,22.15 331.17,22.15 331.52,22.15 331.87,22.15 332.22,22.15 332.57,22.15 332.92,22.15 333.27,22.15 333.62,22.15 333.97,22.15 334.32,22.15 334.67,22.15 335.02,22.15 335.37,22.15 335.72,22.15 336.07,22.15 336.42,22.15 336.77,22.15 337.12,22.15 337.47,22.15 337.82,22.15 338.17,22.15 338.52,22.15 338.87,22.15 339.22,22.15 339.56,22.15 339.91,22.15 340.26,22.15 340.61,22.15 340.96,22.15 341.31,22.15 341.66,22.15 342.01,22.15 342.36,22.15 342.71,22.15 343.06,22.15 343.41,22.15 343.76,22.15 344.11,22.15 344.46,22.15 344.81,22.15 345.16,22.15 345.51,22.15 345.86,22.15 346.21,22.15 346.56,22.15 346.91,22.15 347.26,22.15 347.61,22.15 347.96,22.15 348.31,22.15 348.65,22.15 349,22.15 349.35,22.15 349.7,22.15 350.05,22.15 350.4,22.15 350.75,22.15 351.1,22.15 351.45,22.15 351.8,22.15 352.15,22.15 352.5,22.15 352.85,22.15 353.2,22.15" fill="none" stroke="#c586d0" stroke-width="1" stroke-linejoin="round" stroke-linecap="round" />
<polyline points="213.9,124.15 214.25,124.15 214.6,124.15 214.95,124.15 215.3,124.15 215.65,124.15 216,124.15 216.35,124.15 216.7,124.15 217.05,124.15 217.4,124.15 217.75,124.15 218.1,124.15 218.45,124.12 218.79,124.02 219.14,123.88 219.49,123.7 219.84,123.32 220.19,122.62 220.54,121.61 220.89,119.85 221.24,116.36 221.59,111.69 221.94,104.22 222.29,94.8 222.64,83.96 222.99,73.78 223.34,65.77 223.69,59.59 224.04,55.33 224.39,51.96 224.74,48.97 225.09,46.74 225.44,45.19 225.79,44.02 226.14,43.29 226.49,42.7 226.84,42.23 227.19,41.95 227.54,41.91 227.88,42.04 228.23,42.25 228.58,42.52 228.93,42.82 229.28,43.29 229.63,43.86 229.98,44.41 230.33,44.86 230.68,45.27 231.03,45.65 231.38,45.97 231.73,46.21 232.08,46.43 232.43,46.55 232.78,46.48 233.13,46.23 233.48,45.87 233.83,45.43 234.18,44.69 234.53,43.75 234.88,42.74 235.23,41.75 235.58,40.65 235.93,39.51 236.28,38.47 236.63,37.63 236.98,36.87 237.32,36.18 237.67,35.56 238.02,35.01 238.37,34.52 238.72,34.08 239.07,33.68 239.42,33.31 239.77,32.97 240.12,32.67 240.47,32.39 240.82,32.15 241.17,31.91 241.52,31.69 241.87,31.45 242.22,31.2 242.57,30.92 242.92,30.63 243.27,30.34 243.62,30.03 243.97,29.73 244.32,29.42 244.67,29.12 245.02,28.83 245.37,28.55 245.72,28.28 246.07,28 246.42,27.72 246.76,27.44 247.11,27.17 247.46,26.91 247.81,26.66 248.16,26.43 248.51,26.21 248.86,26.02 249.21,25.84 249.56,25.67 249.91,25.5 250.26,25.33 250.61,25.18 250.96,25.03 251.31,24.88 251.66,24.75 252.01,24.62 252.36,24.5 252.71,24.39 253.06,24.29 253.41,24.19 253.76,24.11 254.11,24.02 254.46,23.94 254.81,23.86 255.16,23.78 255.51,23.71 255.85,23.63 256.2,23.56 256.55,23.5 256.9,23.43 257.25,23.37 257.6,23.31 257.95,23.26 258.3,23.2 258.65,23.16 259,23.11 259.35,23.07 259.7,23.03 260.05,23 260.4,22.97 260.75,22.94 261.1,22.92 261.45,22.89 261.8,22.86 262.15,22.84 262.5,22.81 262.85,22.79 263.2,22.77 263.55,22.74 263.9,22.72 264.25,22.7 264.6,22.68 264.95,22.66 265.29,22.64 265.64,22.62 265.99,22.6 266.34,22.58 266.69,22.57 267.04,22.55 267.39,22.53 267.74,22.52 268.09,22.51 268.44,22.49 268.79,22.48 269.14,22.47 269.49,22.46 269.84,22.45 270.19,22.44 270.54,22.44 270.89,22.43 271.24,22.42 271.59,22.42 271.94,22.42 272.29,22.41 272.64,22.41 272.99,22.41 273.34,22.41 273.69,22.41 274.04,22.4 274.38,22.4 274.73,22.4 275.08,22.4 275.43,22.39 275.78,22.39 276.13,22.39 276.48,22.39 276.83,22.39 277.18,22.38 277.53,22.38 277.88,22.38 278.23,22.38 278.58,22.38 278.93,22.37 279.28,22.37 279.63,22.37 279.98,22.37 280.33,22.37 280.68,22.37 281.03,22.36 281.38,22.36 281.73,22.36 282.08,22.36 282.43,22.36 282.78,22.36 283.13,22.35 283.48,22.35 283.82,22.35 284.17,22.35 284.52,22.35 284.87,22.35 285.22,22.35 285.57,22.34 285.92,22.34 286.27,22.34 286.62,22.34 286.97,22.34 287.32,22.34 287.67,22.34 288.02,22.34 288.37,22.33 288.72,22.33 289.07,22.33 289.42,22.33 289.77,22.33 290.12,22.33 290.47,22.33 290.82,22.33 291.17,22.33 291.52,22.33 291.87,22.32 292.22,22.32 292.57,22.32 292.92,22.32 293.26,22.32 293.61,22.32 293.96,22.32 294.31,22.32 294.66,22.32 295.01,22.32 295.36,22.32 295.71,22.32 296.06,22.32 296.41,22.31 296.76,22.31 297.11,22.31 297.46,22.31 297.81,22.31 298.16,22.31 298.51,22.31 298.86,22.31 299.21,22.31 299.56,22.31 299.91,22.31 300.26,22.31 300.61,22.31 300.96,22.31 301.31,22.31 301.66,22.31 302.01,22.31 302.35,22.31 302.7,22.31 303.05,22.31 303.4,22.31 303.75,22.31 304.1,22.31 304.45,22.31 304.8,22.31 305.15,22.31 305.5,22.31 305.85,22.31 306.2,22.31 306.55,22.31 306.9,22.31 307.25,22.31 307.6,22.31 307.95,22.31 308.3,22.31 308.65,22.31 309,22.31 309.35,22.31 309.7,22.31 310.05,22.31 310.4,22.31 310.75,22.31 311.1,22.31 311.45,22.31 311.79,22.31 312.14,22.31 312.49,22.31 312.84,22.31 313.19,22.31 313.54,22.31 313.89,22.31 314.24,22.31 314.59,22.31 314.94,22.31 315.29,22.31 315.64,22.31 315.99,22.31 316.34,22.31 316.69,22.31 317.04,22.31 317.39,22.31 317.74,22.31 318.09,22.31 318.44,22.31 318.79,22.31 319.14,22.31 319.49,22.31 319.84,22.31 320.19,22.31 320.54,22.31 320.88,22.31 321.23,22.31 321.58,22.31 321.93,22.31 322.28,22.31 322.63,22.31 322.98,22.31 323.33,22.31 323.68,22.31 324.03,22.31 324.38,22.31 324.73,22.31 325.08,22.31 325.43,22.31 325.78,22.31 326.13,22.31 326.48,22.31 326.83,22.31 327.18,22.31 327.53,22.31 327.88,22.31 328.23,22.31 328.58,22.31 328.93,22.31 329.28,22.31 329.63,22.31 329.98,22.31 330.32,22.31 330.67,22.31 331.02,22.31 331.37,22.31 331.72,22.31 332.07,22.31 332.42,22.31 332.77,22.31 333.12,22.31 333.47,22.31 333.82,22.31 334.17,22.31 334.52,22.31 334.87,22.31 335.22,22.31 335.57,22.31 335.92,22.31 336.27,22.31 336.62,22.31 336.97,22.31 337.32,22.31 337.67,22.31 338.02,22.31 338.37,22.31 338.72,22.31 339.07,22.31 339.42,22.31 339.76,22.31 340.11,22.31 340.46,22.31 340.81,22.31 341.16,22.31 341.51,22.31 341.86,22.31 342.21,22.31 342.56,22.31 342.91,22.31 343.26,22.31 343.61,22.31 343.96,22.31 344.31,22.31 344.66,22.31 345.01,22.31 345.36,22.31 345.71,22.31 346.06,22.31 346.41,22.31 346.76,22.31 347.11,22.31 347.46,22.31 347.81,22.31 348.16,22.31 348.51,22.31 348.85,22.31 349.2,22.31 349.55,22.31 349.9,22.31 350.25,22.31 350.6,22.31 350.95,22.31 351.3,22.31 351.65,22.31 352,22.31 352.35,22.31 352.7,22.31 353.05,22.31 353.4,22.31" fill="none" stroke="#f0607c" stroke-width="1" stroke-linejoin="round" stroke-linecap="round" />
<rect x="213.4" y="13.2" width="139.5" height="110.7" fill="none" stroke="#1a1a1a" stroke-width="1.05"/>
<line x1="213.4" y1="123.9" x2="213.4" y2="126.06" stroke="#1a1a1a" stroke-width="0.9" />
<line x1="236.65" y1="123.9" x2="236.65" y2="126.06" stroke="#1a1a1a" stroke-width="0.9" />
<line x1="259.9" y1="123.9" x2="259.9" y2="126.06" stroke="#1a1a1a" stroke-width="0.9" />
<line x1="283.15" y1="123.9" x2="283.15" y2="126.06" stroke="#1a1a1a" stroke-width="0.9" />
<line x1="306.4" y1="123.9" x2="306.4" y2="126.06" stroke="#1a1a1a" stroke-width="0.9" />
<line x1="329.65" y1="123.9" x2="329.65" y2="126.06" stroke="#1a1a1a" stroke-width="0.9" />
<line x1="352.9" y1="123.9" x2="352.9" y2="126.06" stroke="#1a1a1a" stroke-width="0.9" />
<line x1="225.03" y1="123.9" x2="225.03" y2="125.2" stroke="#1a1a1a" stroke-width="0.8" />
<line x1="248.28" y1="123.9" x2="248.28" y2="125.2" stroke="#1a1a1a" stroke-width="0.8" />
<line x1="271.52" y1="123.9" x2="271.52" y2="125.2" stroke="#1a1a1a" stroke-width="0.8" />
<line x1="294.77" y1="123.9" x2="294.77" y2="125.2" stroke="#1a1a1a" stroke-width="0.8" />
<line x1="318.02" y1="123.9" x2="318.02" y2="125.2" stroke="#1a1a1a" stroke-width="0.8" />
<line x1="341.27" y1="123.9" x2="341.27" y2="125.2" stroke="#1a1a1a" stroke-width="0.8" />
<line x1="211.24" y1="123.9" x2="213.4" y2="123.9" stroke="#1a1a1a" stroke-width="0.9" />
<line x1="211.24" y1="101.76" x2="213.4" y2="101.76" stroke="#1a1a1a" stroke-width="0.9" />
<line x1="211.24" y1="79.62" x2="213.4" y2="79.62" stroke="#1a1a1a" stroke-width="0.9" />
<line x1="211.24" y1="57.48" x2="213.4" y2="57.48" stroke="#1a1a1a" stroke-width="0.9" />
<line x1="211.24" y1="35.34" x2="213.4" y2="35.34" stroke="#1a1a1a" stroke-width="0.9" />
<line x1="211.24" y1="13.2" x2="213.4" y2="13.2" stroke="#1a1a1a" stroke-width="0.9" />
<text x="214.9" y="133.8" font-size="6.4" font-weight="bold" text-anchor="middle" fill="#111"  stroke="#111" stroke-width="0.14">200</text>
<text x="238.15" y="133.8" font-size="6.4" font-weight="bold" text-anchor="middle" fill="#111"  stroke="#111" stroke-width="0.14">300</text>
<text x="261.4" y="133.8" font-size="6.4" font-weight="bold" text-anchor="middle" fill="#111"  stroke="#111" stroke-width="0.14">400</text>
<text x="284.65" y="133.8" font-size="6.4" font-weight="bold" text-anchor="middle" fill="#111"  stroke="#111" stroke-width="0.14">500</text>
<text x="307.9" y="133.8" font-size="6.4" font-weight="bold" text-anchor="middle" fill="#111"  stroke="#111" stroke-width="0.14">600</text>
<text x="331.15" y="133.8" font-size="6.4" font-weight="bold" text-anchor="middle" fill="#111"  stroke="#111" stroke-width="0.14">700</text>
<text x="354.4" y="133.8" font-size="6.4" font-weight="bold" text-anchor="middle" fill="#111"  stroke="#111" stroke-width="0.14">800</text>
<text x="210.1" y="125.4" font-size="6.6" font-weight="bold" text-anchor="end" fill="#111"  stroke="#111" stroke-width="0.14">0</text>
<text x="210.1" y="103.26" font-size="6.6" font-weight="bold" text-anchor="end" fill="#111"  stroke="#111" stroke-width="0.14">20</text>
<text x="210.1" y="81.12" font-size="6.6" font-weight="bold" text-anchor="end" fill="#111"  stroke="#111" stroke-width="0.14">40</text>
<text x="210.1" y="58.98" font-size="6.6" font-weight="bold" text-anchor="end" fill="#111"  stroke="#111" stroke-width="0.14">60</text>
<text x="210.1" y="36.84" font-size="6.6" font-weight="bold" text-anchor="end" fill="#111"  stroke="#111" stroke-width="0.14">80</text>
<text x="210.1" y="14.7" font-size="6.6" font-weight="bold" text-anchor="end" fill="#111"  stroke="#111" stroke-width="0.14">100</text>
<text x="284.2" y="143.3" font-size="7.8" font-weight="bold" text-anchor="middle" fill="#111"  stroke="#111" stroke-width="0.14">Wavelength ( nm )</text>
<text transform="translate(196 65.8) rotate(-90)" font-size="7.7" font-weight="bold" text-anchor="middle" fill="#111" stroke="#111" stroke-width="0.14">Transmittance ( % )</text>
<line x1="309.6" y1="95.1" x2="320.8" y2="95.1" stroke="#f0607c" stroke-width="1" />
<text x="322.8" y="96.94" font-size="5.1" font-weight="bold" text-anchor="start" fill="#111"  stroke="#111" stroke-width="0.14">PVA-Bta<tspan font-size="75%" dy="1.3">5%</tspan></text>
<line x1="309.6" y1="102.7" x2="320.8" y2="102.7" stroke="#6cc044" stroke-width="1" />
<text x="322.8" y="104.54" font-size="5.1" font-weight="bold" text-anchor="start" fill="#111"  stroke="#111" stroke-width="0.14">PVA-Bta<tspan font-size="75%" dy="1.3">10%</tspan></text>
<line x1="309.6" y1="110" x2="320.8" y2="110" stroke="#2db5aa" stroke-width="1" />
<text x="322.8" y="111.84" font-size="5.1" font-weight="bold" text-anchor="start" fill="#111"  stroke="#111" stroke-width="0.14">PVA-Bta<tspan font-size="75%" dy="1.3">15%</tspan></text>
<line x1="309.6" y1="117.3" x2="320.8" y2="117.3" stroke="#c586d0" stroke-width="1" />
<text x="322.8" y="119.14" font-size="5.1" font-weight="bold" text-anchor="start" fill="#111"  stroke="#111" stroke-width="0.14">PVA-Bta<tspan font-size="75%" dy="1.3">20%</tspan></text>
<text x="376.7" y="10.7" font-size="8.1" font-weight="bold" text-anchor="start" fill="#111" stroke="none">(c)</text>
<line x1="427.7" y1="13.4" x2="427.7" y2="126.5" stroke="#555" stroke-width="1" stroke-dasharray="1.0 1.3" />
<polyline points="392.7,43.67 393.27,43.35 393.85,42.9 394.42,42.8 395,42.49 395.57,42.53 396.15,42.27 396.72,42.4 397.3,42.3 397.87,42.63 398.45,42.66 399.02,42.84 399.59,42.81 400.17,43.09 400.74,43.08 401.32,43.13 401.89,43.01 402.47,43.12 403.04,43.18 403.62,43.16 404.19,43.2 404.76,43.15 405.34,43.18 405.91,43.04 406.49,42.8 407.06,42.6 407.64,42.32 408.21,42.19 408.79,42.08 409.36,41.94 409.94,41.78 410.51,41.54 411.08,41.37 411.66,41.18 412.23,41.05 412.81,40.84 413.38,40.71 413.96,40.64 414.53,40.57 415.11,40.32 415.68,39.92 416.26,39.59 416.83,39.49 417.4,39.32 417.98,39.07 418.55,38.68 419.13,38.53 419.7,38.26 420.28,37.92 420.85,37.37 421.43,36.87 422,36.21 422.57,35.58 423.15,34.92 423.72,34.23 424.3,33.31 424.87,32.03 425.45,30.2 426.02,27.42 426.6,24.04 427.17,21.91 427.75,21.91 428.32,23.37 428.89,26.31 429.47,29.22 430.04,31.56 430.62,33.12 431.19,34.22 431.77,34.76 432.34,35.11 432.92,35.41 433.49,35.97 434.07,36.53 434.64,36.88 435.21,36.89 435.79,36.92 436.36,37.05 436.94,37.3 437.51,37.47 438.09,37.46 438.66,37.51 439.24,37.59 439.81,37.93 440.38,38.42 440.96,38.92 441.53,39.3 442.11,39.71 442.68,40.13 443.26,40.66 443.83,41.09 444.41,41.42 444.98,41.57 445.56,41.64 446.13,41.85 446.7,42.06 447.28,42.24 447.85,42.36 448.43,42.44 449,42.63 449.58,42.7 450.15,42.93 450.73,43 451.3,43.16 451.88,43.07 452.45,43.12 453.02,43.2 453.6,43.27 454.17,43.3 454.75,43.3 455.32,43.33 455.9,43.42 456.47,43.52 457.05,43.6 457.62,43.65 458.19,43.53 458.77,43.63 459.34,43.52 459.92,43.73 460.49,43.8 461.07,43.95 461.64,43.84 462.22,43.94 462.79,44.11 463.37,44.06 463.94,44.09 464.51,44.09 465.09,44.29 465.66,44.14 466.24,44.11 466.81,44.1 467.39,44.17 467.96,44.05 468.54,44.14 469.11,44.27 469.69,44.35 470.26,44.38 470.83,44.27 471.41,44.42 471.98,44.42 472.56,44.52 473.13,44.5 473.71,44.59 474.28,44.7 474.86,44.78 475.43,44.77 476.01,44.75 476.58,44.8 477.15,44.84 477.73,44.92 478.3,44.88 478.88,44.72 479.45,44.77 480.03,44.99 480.6,45.22 481.18,45.17 481.75,45.02 482.32,45 482.9,45.03 483.47,44.97 484.05,44.95 484.62,44.89 485.2,45 485.77,45.02 486.35,45.13 486.92,45.1 487.5,45.2 488.07,45.17 488.64,45.35 489.22,45.13 489.79,45.07 490.37,44.97 490.94,45.29 491.52,45.32 492.09,45.25 492.67,45.05 493.24,45.16 493.82,45.13 494.39,45.19 494.96,45.07 495.54,44.99 496.11,44.96 496.69,45.01 497.26,45.19 497.84,45.15 498.41,45.06 498.99,45 499.56,45.02 500.13,45.08 500.71,45 501.28,45.01 501.86,44.95 502.43,45.01 503.01,44.92 503.58,44.85 504.16,44.5 504.73,44.39 505.31,44.31 505.88,44.45 506.45,44.47 507.03,44.43 507.6,44.5 508.18,44.46 508.75,44.73 509.33,44.65 509.9,44.67 510.48,44.53 511.05,44.69 511.63,44.87 512.2,45.26 512.77,45.41 513.35,45.49 513.92,45.5 514.5,45.54 515.07,45.61 515.65,45.65 516.22,45.79 516.8,45.9 517.37,45.99 517.94,46 518.52,46.19 519.09,46.17 519.67,46.32 520.24,46.24 520.82,46.16 521.39,46.26 521.97,46.25 522.54,46.36 523.12,46.16 523.69,46.22 524.26,46.29 524.84,46.39 525.41,46.48 525.99,46.63 526.56,46.64 527.14,46.54 527.71,46.36 528.29,46.36 528.86,46.36 529.44,46.54 530.01,46.59 530.58,46.72 531.16,46.7 531.73,46.66 532.31,46.66 532.88,46.74 533.46,46.92 534.03,46.98 534.61,47.1 535.18,46.99 535.75,47.03 536.33,46.91 536.9,46.83 537.48,47.03 538.05,47.1 538.63,47.26 539.2,47.29 539.78,47.34 540.35,47.47 540.93,47.3 541.5,47.29" fill="none" stroke="#f0607c" stroke-width="1.15" stroke-linejoin="round" stroke-linecap="round" />
<polyline points="392.7,66.37 393.27,65.95 393.85,65.86 394.42,65.51 395,65.42 395.57,65.18 396.15,65.13 396.72,65.07 397.3,64.96 397.87,65.1 398.45,65.34 399.02,65.41 399.59,65.29 400.17,65.16 400.74,65.08 401.32,65.09 401.89,65.04 402.47,64.91 403.04,64.76 403.62,64.45 404.19,64.32 404.76,64.16 405.34,63.97 405.91,63.78 406.49,63.57 407.06,63.44 407.64,63.21 408.21,62.96 408.79,62.81 409.36,62.7 409.94,62.78 410.51,62.42 411.08,62.26 411.66,61.92 412.23,62 412.81,61.83 413.38,61.54 413.96,61.24 414.53,61.05 415.11,60.89 415.68,60.74 416.26,60.35 416.83,60.29 417.4,60.12 417.98,59.99 418.55,59.66 419.13,59.3 419.7,58.99 420.28,58.65 420.85,58.39 421.43,58.06 422,57.62 422.57,57.09 423.15,56.63 423.72,56.12 424.3,55.26 424.87,54.04 425.45,52.43 426.02,50.39 426.6,48.45 427.17,47.58 427.75,47.48 428.32,47.89 428.89,48.41 429.47,49.93 430.04,51.39 430.62,52.38 431.19,53.21 431.77,54.06 432.34,54.83 432.92,55.51 433.49,55.98 434.07,56.53 434.64,56.88 435.21,57.43 435.79,57.49 436.36,57.67 436.94,57.65 437.51,57.74 438.09,57.8 438.66,57.84 439.24,58.18 439.81,58.45 440.38,58.66 440.96,58.82 441.53,59.2 442.11,59.67 442.68,60.05 443.26,60.27 443.83,60.5 444.41,60.87 444.98,61.13 445.56,61.47 446.13,61.54 446.7,61.82 447.28,61.94 447.85,62.24 448.43,62.43 449,62.39 449.58,62.65 450.15,62.74 450.73,62.97 451.3,63.04 451.88,63.1 452.45,63.48 453.02,63.68 453.6,63.82 454.17,63.67 454.75,63.57 455.32,63.59 455.9,63.68 456.47,63.72 457.05,63.76 457.62,63.84 458.19,63.91 458.77,63.95 459.34,63.95 459.92,64.21 460.49,64.19 461.07,64.22 461.64,64.1 462.22,64.22 462.79,64.36 463.37,64.41 463.94,64.56 464.51,64.61 465.09,64.51 465.66,64.53 466.24,64.38 466.81,64.47 467.39,64.39 467.96,64.47 468.54,64.56 469.11,64.62 469.69,64.82 470.26,64.7 470.83,64.82 471.41,64.82 471.98,64.98 472.56,64.86 473.13,64.85 473.71,64.77 474.28,64.76 474.86,65.07 475.43,65.29 476.01,65.62 476.58,65.39 477.15,65.42 477.73,65.38 478.3,65.49 478.88,65.49 479.45,65.46 480.03,65.3 480.6,65.38 481.18,65.47 481.75,65.74 482.32,65.71 482.9,65.84 483.47,65.76 484.05,65.71 484.62,65.68 485.2,65.71 485.77,65.73 486.35,65.7 486.92,65.81 487.5,65.94 488.07,65.99 488.64,66.26 489.22,66.33 489.79,66.43 490.37,66 490.94,65.99 491.52,65.95 492.09,66.09 492.67,66.02 493.24,66.01 493.82,66.04 494.39,66.07 494.96,66.15 495.54,66.28 496.11,66.36 496.69,66.25 497.26,66.2 497.84,66.25 498.41,66.34 498.99,66.2 499.56,66.11 500.13,66.09 500.71,66.24 501.28,66.31 501.86,66.31 502.43,66.15 503.01,65.98 503.58,65.8 504.16,65.98 504.73,66.01 505.31,66.11 505.88,66.04 506.45,65.99 507.03,65.9 507.6,65.85 508.18,65.95 508.75,66.23 509.33,66.41 509.9,66.43 510.48,66.46 511.05,66.55 511.63,66.65 512.2,66.68 512.77,66.58 513.35,66.75 513.92,66.8 514.5,66.89 515.07,66.86 515.65,66.96 516.22,67.06 516.8,67.18 517.37,67.25 517.94,67.27 518.52,67.26 519.09,67.42 519.67,67.53 520.24,67.52 520.82,67.41 521.39,67.33 521.97,67.51 522.54,67.57 523.12,67.78 523.69,67.79 524.26,67.82 524.84,67.85 525.41,67.83 525.99,67.78 526.56,67.67 527.14,67.65 527.71,67.55 528.29,67.79 528.86,67.73 529.44,67.94 530.01,67.74 530.58,67.75 531.16,67.77 531.73,67.88 532.31,68.05 532.88,68.12 533.46,68.13 534.03,68.19 534.61,68.22 535.18,68.27 535.75,68.25 536.33,68.28 536.9,68.33 537.48,68.39 538.05,68.2 538.63,68.22 539.2,68.27 539.78,68.45 540.35,68.5 540.93,68.63 541.5,68.66" fill="none" stroke="#6cc044" stroke-width="1.15" stroke-linejoin="round" stroke-linecap="round" />
<polyline points="392.7,88.86 393.27,88.62 393.85,88.12 394.42,87.87 395,87.67 395.57,87.67 396.15,87.56 396.72,87.55 397.3,87.53 397.87,87.52 398.45,87.64 399.02,87.79 399.59,88.05 400.17,87.99 400.74,87.88 401.32,87.69 401.89,87.53 402.47,87.57 403.04,87.47 403.62,87.42 404.19,87.24 404.76,87.34 405.34,87.36 405.91,87.2 406.49,86.94 407.06,86.87 407.64,86.82 408.21,86.69 408.79,86.48 409.36,86.39 409.94,86.43 410.51,86.18 411.08,85.9 411.66,85.52 412.23,85.25 412.81,85.05 413.38,84.87 413.96,84.96 414.53,84.85 415.11,84.64 415.68,84.43 416.26,84.24 416.83,84.05 417.4,83.76 417.98,83.53 418.55,83.37 419.13,83.17 419.7,82.77 420.28,82.49 420.85,82.18 421.43,81.98 422,81.62 422.57,81.12 423.15,80.6 423.72,79.75 424.3,78.83 424.87,77.19 425.45,75.77 426.02,74.13 426.6,73.5 427.17,73.25 427.75,73.54 428.32,74.19 428.89,75.02 429.47,76.58 430.04,77.55 430.62,78.3 431.19,78.96 431.77,79.64 432.34,80.13 432.92,80.58 433.49,80.77 434.07,81.29 434.64,81.54 435.21,81.84 435.79,81.91 436.36,81.94 436.94,81.81 437.51,81.89 438.09,81.81 438.66,82.07 439.24,82.23 439.81,82.51 440.38,82.75 440.96,83.07 441.53,83.43 442.11,83.64 442.68,83.6 443.26,83.78 443.83,84.05 444.41,84.46 444.98,84.69 445.56,84.98 446.13,85.19 446.7,85.45 447.28,85.65 447.85,85.81 448.43,85.97 449,86.25 449.58,86.53 450.15,86.61 450.73,86.59 451.3,86.7 451.88,87 452.45,87.13 453.02,87.15 453.6,87.11 454.17,87.24 454.75,87.39 455.32,87.49 455.9,87.51 456.47,87.53 457.05,87.69 457.62,87.73 458.19,87.86 458.77,87.93 459.34,88.08 459.92,88.05 460.49,88.14 461.07,88.12 461.64,88.27 462.22,88.17 462.79,88.14 463.37,88.18 463.94,88.3 464.51,88.47 465.09,88.52 465.66,88.5 466.24,88.5 466.81,88.51 467.39,88.73 467.96,88.88 468.54,88.9 469.11,88.83 469.69,88.78 470.26,88.82 470.83,88.88 471.41,88.91 471.98,88.85 472.56,88.76 473.13,88.84 473.71,89.01 474.28,89.2 474.86,89.17 475.43,89.25 476.01,89.22 476.58,89.29 477.15,89.33 477.73,89.36 478.3,89.34 478.88,89.38 479.45,89.29 480.03,89.38 480.6,89.33 481.18,89.47 481.75,89.43 482.32,89.45 482.9,89.43 483.47,89.58 484.05,89.54 484.62,89.57 485.2,89.5 485.77,89.48 486.35,89.68 486.92,89.71 487.5,89.71 488.07,89.63 488.64,89.56 489.22,89.71 489.79,89.69 490.37,89.73 490.94,89.68 491.52,89.59 492.09,89.64 492.67,89.56 493.24,89.52 493.82,89.53 494.39,89.73 494.96,89.88 495.54,90.02 496.11,90 496.69,89.92 497.26,89.79 497.84,89.6 498.41,89.57 498.99,89.5 499.56,89.67 500.13,89.79 500.71,89.81 501.28,89.72 501.86,89.52 502.43,89.5 503.01,89.51 503.58,89.61 504.16,89.51 504.73,89.59 505.31,89.61 505.88,89.63 506.45,89.44 507.03,89.36 507.6,89.44 508.18,89.56 508.75,89.71 509.33,89.84 509.9,90.04 510.48,90.2 511.05,90.25 511.63,90.3 512.2,90.3 512.77,90.36 513.35,90.54 513.92,90.59 514.5,90.83 515.07,90.71 515.65,90.8 516.22,90.77 516.8,90.84 517.37,90.88 517.94,90.82 518.52,90.81 519.09,90.8 519.67,90.8 520.24,90.98 520.82,91 521.39,91.2 521.97,90.91 522.54,90.95 523.12,90.88 523.69,91.08 524.26,91.18 524.84,91.21 525.41,91.24 525.99,91.21 526.56,91.4 527.14,91.46 527.71,91.48 528.29,91.27 528.86,91.28 529.44,91.19 530.01,91.24 530.58,91.43 531.16,91.63 531.73,91.72 532.31,91.64 532.88,91.73 533.46,91.75 534.03,91.84 534.61,91.81 535.18,91.8 535.75,91.8 536.33,91.57 536.9,91.54 537.48,91.45 538.05,91.58 538.63,91.63 539.2,91.59 539.78,91.63 540.35,91.86 540.93,91.98 541.5,92.04" fill="none" stroke="#2db5aa" stroke-width="1.15" stroke-linejoin="round" stroke-linecap="round" />
<polyline points="392.7,111.84 393.27,111.54 393.85,111.37 394.42,111.1 395,110.86 395.57,110.58 396.15,110.47 396.72,110.41 397.3,110.19 397.87,110.06 398.45,109.96 399.02,110.08 399.59,110.09 400.17,110.06 400.74,110.1 401.32,110.08 401.89,110.29 402.47,110.31 403.04,110.33 403.62,110.09 404.19,109.97 404.76,109.89 405.34,109.78 405.91,109.84 406.49,109.76 407.06,109.87 407.64,109.51 408.21,109.46 408.79,109.08 409.36,108.95 409.94,108.69 410.51,108.61 411.08,108.3 411.66,107.99 412.23,107.86 412.81,107.99 413.38,107.96 413.96,107.69 414.53,107.41 415.11,107.07 415.68,106.94 416.26,106.58 416.83,106.46 417.4,106.21 417.98,106.15 418.55,105.91 419.13,105.78 419.7,105.47 420.28,105.3 420.85,105.01 421.43,104.6 422,104.23 422.57,103.82 423.15,103.51 423.72,103.04 424.3,102.3 424.87,101.42 425.45,100.28 426.02,99.08 426.6,98.04 427.17,97.53 427.75,97.49 428.32,97.82 428.89,98.65 429.47,99.84 430.04,101.11 430.62,101.84 431.19,102.57 431.77,103.1 432.34,103.63 432.92,103.96 433.49,104.2 434.07,104.38 434.64,104.68 435.21,104.79 435.79,104.87 436.36,104.89 436.94,104.98 437.51,105.04 438.09,104.97 438.66,105 439.24,105.08 439.81,105.35 440.38,105.54 440.96,106.13 441.53,106.41 442.11,106.63 442.68,106.78 443.26,107.02 443.83,107.33 444.41,107.47 444.98,107.68 445.56,107.83 446.13,108.06 446.7,108.25 447.28,108.41 447.85,108.5 448.43,108.57 449,108.79 449.58,109.02 450.15,109.29 450.73,109.46 451.3,109.54 451.88,109.73 452.45,109.78 453.02,109.89 453.6,109.85 454.17,109.96 454.75,110.03 455.32,110.29 455.9,110.39 456.47,110.36 457.05,110.26 457.62,110.19 458.19,110.45 458.77,110.65 459.34,110.79 459.92,110.84 460.49,110.79 461.07,110.91 461.64,111.05 462.22,111.1 462.79,111.04 463.37,111.02 463.94,111.14 464.51,111.34 465.09,111.41 465.66,111.38 466.24,111.23 466.81,111.28 467.39,111.35 467.96,111.45 468.54,111.34 469.11,111.5 469.69,111.65 470.26,111.8 470.83,111.83 471.41,111.81 471.98,111.76 472.56,111.68 473.13,111.69 473.71,111.8 474.28,111.84 474.86,111.97 475.43,112 476.01,112.11 476.58,112.19 477.15,112.37 477.73,112.53 478.3,112.53 478.88,112.49 479.45,112.37 480.03,112.47 480.6,112.6 481.18,112.63 481.75,112.64 482.32,112.54 482.9,112.6 483.47,112.58 484.05,112.6 484.62,112.7 485.2,112.59 485.77,112.59 486.35,112.53 486.92,112.58 487.5,112.67 488.07,112.58 488.64,112.67 489.22,112.55 489.79,112.66 490.37,112.71 490.94,112.99 491.52,113.09 492.09,113.18 492.67,113.03 493.24,113.12 493.82,112.99 494.39,112.98 494.96,112.74 495.54,112.78 496.11,112.88 496.69,112.93 497.26,112.89 497.84,112.79 498.41,112.81 498.99,112.8 499.56,112.73 500.13,112.86 500.71,112.74 501.28,112.75 501.86,112.63 502.43,112.8 503.01,112.8 503.58,112.7 504.16,112.58 504.73,112.53 505.31,112.58 505.88,112.52 506.45,112.46 507.03,112.39 507.6,112.49 508.18,112.74 508.75,112.98 509.33,113.03 509.9,112.93 510.48,112.83 511.05,113.13 511.63,113.33 512.2,113.58 512.77,113.65 513.35,113.7 513.92,113.7 514.5,113.55 515.07,113.56 515.65,113.66 516.22,113.81 516.8,113.78 517.37,113.82 517.94,113.75 518.52,113.92 519.09,113.88 519.67,113.82 520.24,113.81 520.82,113.74 521.39,113.99 521.97,114.19 522.54,114.28 523.12,114.07 523.69,114.01 524.26,114.01 524.84,114.24 525.41,114.31 525.99,114.46 526.56,114.32 527.14,114.12 527.71,113.97 528.29,114.01 528.86,114.03 529.44,114.19 530.01,114.26 530.58,114.34 531.16,114.24 531.73,114.26 532.31,114.38 532.88,114.29 533.46,114.27 534.03,114.16 534.61,114.27 535.18,114.24 535.75,114.29 536.33,114.5 536.9,114.54 537.48,114.51 538.05,114.3 538.63,114.37 539.2,114.36 539.78,114.45 540.35,114.46 540.93,114.53 541.5,114.56" fill="none" stroke="#c586d0" stroke-width="1.15" stroke-linejoin="round" stroke-linecap="round" />
<rect x="392.7" y="13.4" width="148.9" height="113.1" fill="none" stroke="#1a1a1a" stroke-width="1.05"/>
<line x1="392.7" y1="126.5" x2="392.7" y2="128.42" stroke="#1a1a1a" stroke-width="0.9" />
<line x1="429.93" y1="126.5" x2="429.93" y2="128.42" stroke="#1a1a1a" stroke-width="0.9" />
<line x1="467.15" y1="126.5" x2="467.15" y2="128.42" stroke="#1a1a1a" stroke-width="0.9" />
<line x1="504.38" y1="126.5" x2="504.38" y2="128.42" stroke="#1a1a1a" stroke-width="0.9" />
<line x1="541.6" y1="126.5" x2="541.6" y2="128.42" stroke="#1a1a1a" stroke-width="0.9" />
<line x1="411.31" y1="126.5" x2="411.31" y2="127.65" stroke="#1a1a1a" stroke-width="0.8" />
<line x1="448.54" y1="126.5" x2="448.54" y2="127.65" stroke="#1a1a1a" stroke-width="0.8" />
<line x1="485.76" y1="126.5" x2="485.76" y2="127.65" stroke="#1a1a1a" stroke-width="0.8" />
<line x1="522.99" y1="126.5" x2="522.99" y2="127.65" stroke="#1a1a1a" stroke-width="0.8" />
<text x="393.5" y="135.6" font-size="6.4" font-weight="bold" text-anchor="middle" fill="#111"  stroke="#111" stroke-width="0.14">10</text>
<text x="430.73" y="135.6" font-size="6.4" font-weight="bold" text-anchor="middle" fill="#111"  stroke="#111" stroke-width="0.14">20</text>
<text x="467.95" y="135.6" font-size="6.4" font-weight="bold" text-anchor="middle" fill="#111"  stroke="#111" stroke-width="0.14">30</text>
<text x="505.18" y="135.6" font-size="6.4" font-weight="bold" text-anchor="middle" fill="#111"  stroke="#111" stroke-width="0.14">40</text>
<text x="542.4" y="135.6" font-size="6.4" font-weight="bold" text-anchor="middle" fill="#111"  stroke="#111" stroke-width="0.14">50</text>
<text x="470.6" y="143.2" font-size="7.5" font-weight="bold" text-anchor="middle" fill="#111"  stroke="#111" stroke-width="0.14">2&#952;(degree)</text>
<text transform="translate(385.6 65.4) rotate(-90)" font-size="7.9" font-weight="bold" text-anchor="middle" fill="#111" stroke="#111" stroke-width="0.14">Intensity(a.u.)</text>
<text x="431.8" y="21.9" font-size="6.3" font-weight="normal" text-anchor="start" fill="#111" stroke="#111" stroke-width="0.25">19.5&#176;</text>
<line x1="497" y1="18.2" x2="509" y2="18.2" stroke="#f0607c" stroke-width="0.9" />
<text x="510.6" y="20.14" font-size="5.4" font-weight="bold" text-anchor="start" fill="#111"  stroke="#111" stroke-width="0.14">PVA-Bta<tspan font-size="75%" dy="1.3">5%</tspan></text>
<line x1="497" y1="26.2" x2="509" y2="26.2" stroke="#6cc044" stroke-width="0.9" />
<text x="510.6" y="28.14" font-size="5.4" font-weight="bold" text-anchor="start" fill="#111"  stroke="#111" stroke-width="0.14">PVA-Bta<tspan font-size="75%" dy="1.3">10%</tspan></text>
<line x1="497" y1="34" x2="509" y2="34" stroke="#2db5aa" stroke-width="0.9" />
<text x="510.6" y="35.94" font-size="5.4" font-weight="bold" text-anchor="start" fill="#111"  stroke="#111" stroke-width="0.14">PVA-Bta<tspan font-size="75%" dy="1.3">15%</tspan></text>
<line x1="497" y1="41.8" x2="509" y2="41.8" stroke="#c586d0" stroke-width="0.9" />
<text x="510.6" y="43.74" font-size="5.4" font-weight="bold" text-anchor="start" fill="#111"  stroke="#111" stroke-width="0.14">PVA-Bta<tspan font-size="75%" dy="1.3">20%</tspan></text>
<text x="5.7" y="161.4" font-size="8.1" font-weight="bold" text-anchor="start" fill="#111" stroke="none">(d)</text>
<g clip-path="url(#afmClip)"><g filter="url(#afmMap)">
<rect x="10" y="150" width="150" height="150" fill="rgb(59,59,59)"/>
<ellipse cx="38" cy="176" rx="20" ry="12" fill="rgb(102,102,102)"/>
<ellipse cx="24" cy="167" rx="6" ry="5" fill="rgb(122,122,122)"/>
<ellipse cx="62" cy="172" rx="14" ry="10" fill="rgb(112,112,112)"/>
<ellipse cx="80" cy="198" rx="20" ry="36" fill="rgb(140,140,140)"/>
<ellipse cx="102" cy="178" rx="15" ry="11" fill="rgb(117,117,117)"/>
<ellipse cx="98" cy="203" rx="12" ry="13" fill="rgb(128,128,128)"/>
<ellipse cx="92" cy="242" rx="22" ry="27" fill="rgb(173,173,173)"/>
<ellipse cx="88" cy="270" rx="16" ry="20" fill="rgb(143,143,143)"/>
<ellipse cx="80" cy="219" rx="10" ry="9" fill="rgb(194,194,194)"/>
<ellipse cx="94" cy="241" rx="11" ry="11" fill="rgb(224,224,224)"/>
<ellipse cx="95" cy="241" rx="5" ry="5" fill="rgb(255,255,255)"/>
<ellipse cx="28" cy="238" rx="12" ry="28" fill="rgb(33,33,33)"/>
<ellipse cx="30" cy="203" rx="10" ry="12" fill="rgb(43,43,43)"/>
<ellipse cx="34" cy="184" rx="6" ry="5" fill="rgb(38,38,38)"/>
<ellipse cx="137" cy="240" rx="15" ry="52" fill="rgb(26,26,26)"/>
<ellipse cx="126" cy="192" rx="12" ry="18" fill="rgb(33,33,33)"/>
<ellipse cx="140" cy="172" rx="10" ry="10" fill="rgb(36,36,36)"/>
<ellipse cx="122" cy="170" rx="8" ry="6" fill="rgb(51,51,51)"/>
<ellipse cx="52" cy="262" rx="13" ry="13" fill="rgb(69,69,69)"/>
<ellipse cx="118" cy="278" rx="16" ry="11" fill="rgb(41,41,41)"/>
<ellipse cx="60" cy="228" rx="8" ry="12" fill="rgb(71,71,71)"/>
<ellipse cx="116" cy="226" rx="6" ry="14" fill="rgb(56,56,56)"/>
<ellipse cx="40" cy="282" rx="16" ry="7" fill="rgb(76,76,76)"/>
</g></g>
<rect x="135.8" y="173.3" width="6.0" height="44.3" fill="url(#afmBar)"/>
<text x="147.6" y="170.7" font-size="6.9" font-weight="normal" text-anchor="end" fill="#fff" >5.6nm</text>
<text x="147.6" y="224.7" font-size="6.9" font-weight="normal" text-anchor="end" fill="#fff" >-5.3nm</text>
<text x="23" y="282.7" font-size="7.6" font-weight="normal" text-anchor="start" fill="#fff" >Ra=1.21nm</text>
<text x="132.4" y="283.6" font-size="7.1" font-weight="bold" text-anchor="middle" fill="#fff" >200nm</text>
<line x1="118.7" y1="283.9" x2="145.2" y2="283.9" stroke="#fff" stroke-width="1.3" />
<text x="186.5" y="161.4" font-size="8.1" font-weight="bold" text-anchor="start" fill="#111" stroke="none">(e)</text>
<g clip-path="url(#surfClip)"><g filter="url(#surfMap)">
<rect x="160" y="195" width="200" height="80" fill="rgb(128,128,128)"/>
<ellipse cx="285" cy="232" rx="40" ry="10" fill="rgb(168,168,168)"/>
<ellipse cx="290" cy="231" rx="18" ry="5" fill="rgb(194,194,194)"/>
<ellipse cx="245" cy="236" rx="32" ry="9" fill="rgb(158,158,158)"/>
<ellipse cx="225" cy="217" rx="30" ry="5" fill="rgb(102,102,102)"/>
<ellipse cx="250" cy="209" rx="16" ry="4" fill="rgb(82,82,82)"/>
<ellipse cx="300" cy="219" rx="30" ry="4" fill="rgb(97,97,97)"/>
<ellipse cx="335" cy="229" rx="12" ry="4" fill="rgb(87,87,87)"/>
<ellipse cx="190" cy="236" rx="16" ry="5" fill="rgb(112,112,112)"/>
<ellipse cx="235" cy="256" rx="40" ry="4" fill="rgb(87,87,87)"/>
<ellipse cx="305" cy="250" rx="30" ry="5" fill="rgb(97,97,97)"/>
<ellipse cx="272" cy="260" rx="10" ry="5" fill="rgb(71,71,71)"/>
</g>
<path d="M173 235.2 L190 241.8 L214 248.2 L238 254.6 L262 261.0 L272.4 263.6 L286 257.0 L304 248.8 L322 240.8 L340 232.6 L346 229.6" fill="none" stroke="#3d1200" stroke-opacity="0.6" stroke-width="4.5" filter="url(#cloudBlur)"/>
<path d="M173 235.2 L197 225.4 L222 215.0 L245 205.6 L272 211.6 L305 219.8 L346 229.6" fill="none" stroke="#4a1a00" stroke-opacity="0.35" stroke-width="3" filter="url(#cloudBlur)"/>
</g>
<line x1="168.4" y1="239.6" x2="272.6" y2="265.6" stroke="#111" stroke-width="1" />
<line x1="272.6" y1="265.6" x2="348.6" y2="231.2" stroke="#111" stroke-width="1" />
<line x1="220.5" y1="252.6" x2="220.1" y2="254.2" stroke="#222" stroke-width="0.7" />
<line x1="310.4" y1="248.3" x2="311" y2="249.7" stroke="#222" stroke-width="0.7" />
<path d="M350.3 224.7 L348.8 224.7 L348.8 231.4 M348.8 228.6 L349.9 228.6" fill="none" stroke="#222" stroke-width="0.6"/>
<text transform="translate(215.6 263.6) rotate(14)" font-size="7.8" font-style="italic" text-anchor="middle" fill="#111" stroke="#111" stroke-width="0.22">y: 1.00&#181;m</text>
<text transform="translate(316.0 259.5) rotate(-24.5)" font-size="7.8" font-style="italic" text-anchor="middle" fill="#111" stroke="#111" stroke-width="0.22">x:1.00&#181;m</text>
<text x="310.5" y="184.1" font-size="7.6" font-weight="normal" text-anchor="start" fill="#111" >5.6nm</text>
<text x="309" y="211.9" font-size="7.6" font-weight="normal" text-anchor="start" fill="#111" >-5.3nm</text>
<rect x="332.2" y="182.0" width="3.7" height="29.5" fill="url(#afmBar)"/>
<text x="353.9" y="227" font-size="7.6" font-weight="normal" text-anchor="start" fill="#111" >6.0nm</text>
<text x="352.3" y="237.8" font-size="7.6" font-weight="normal" text-anchor="start" fill="#111" >-5.4nm</text>
<text x="375" y="161.4" font-size="8.1" font-weight="bold" text-anchor="start" fill="#111" stroke="none">(f)</text>
<rect x="392.9" y="174.5" width="149.0" height="99.8" fill="#797979"/>
<rect x="392.9" y="174.5" width="149.0" height="99.8" filter="url(#semNoise)"/>
<rect x="392.9" y="174.5" width="149.0" height="99.8" fill="url(#semShade)"/>
<text x="528.5" y="264.7" font-size="8.1" font-weight="normal" text-anchor="middle" fill="#fff" >2&#181;m</text>
<line x1="521.8" y1="270" x2="536.2" y2="270" stroke="#fff" stroke-width="1.7" />
<text x="5.2" y="311.7" font-size="8.2" font-weight="normal" text-anchor="start" fill="#111" stroke="#111" stroke-width="0.2">(g)</text>
<line x1="28.6" y1="329.36" x2="90.13" y2="329.36" stroke="#333" stroke-width="0.75" stroke-dasharray="2.8 2.5" />
<line x1="28.6" y1="365.48" x2="104.92" y2="365.48" stroke="#333" stroke-width="0.75" stroke-dasharray="2.8 2.5" />
<polyline points="37.99,324.2 38.43,324.23 38.87,324.27 39.31,324.3 39.75,324.34 40.19,324.38 40.63,324.41 41.07,324.45 41.51,324.49 41.95,324.52 42.39,324.56 42.83,324.6 43.27,324.64 43.71,324.68 44.15,324.72 44.59,324.76 45.03,324.8 45.47,324.84 45.91,324.88 46.35,324.93 46.79,324.97 47.23,325.01 47.67,325.05 48.11,325.1 48.55,325.14 48.99,325.19 49.43,325.24 49.87,325.29 50.31,325.34 50.75,325.39 51.19,325.44 51.63,325.5 52.07,325.55 52.51,325.6 52.95,325.65 53.39,325.7 53.83,325.75 54.27,325.8 54.71,325.85 55.15,325.9 55.59,325.94 56.03,325.99 56.47,326.03 56.91,326.07 57.35,326.11 57.79,326.15 58.23,326.19 58.66,326.23 59.1,326.27 59.54,326.31 59.98,326.35 60.42,326.38 60.86,326.42 61.3,326.46 61.74,326.49 62.18,326.53 62.62,326.56 63.06,326.59 63.5,326.62 63.94,326.65 64.38,326.68 64.82,326.71 65.26,326.73 65.7,326.76 66.14,326.78 66.58,326.8 67.02,326.82 67.46,326.84 67.9,326.85 68.34,326.87 68.78,326.88 69.22,326.9 69.66,326.91 70.1,326.93 70.54,326.94 70.98,326.96 71.42,326.97 71.86,326.98 72.3,326.99 72.74,327.01 73.18,327.02 73.62,327.03 74.06,327.04 74.5,327.06 74.94,327.07 75.38,327.08 75.82,327.1 76.26,327.11 76.7,327.12 77.14,327.13 77.58,327.14 78.02,327.15 78.46,327.16 78.9,327.17 79.34,327.18 79.78,327.19 80.22,327.2 80.66,327.22 81.1,327.23 81.54,327.25 81.98,327.27 82.42,327.29 82.84,327.31 83.25,327.34 83.66,327.39 84.07,327.44 84.48,327.5 84.89,327.57 85.3,327.65 85.71,327.73 86.12,327.82 86.53,327.91 86.94,328.01 87.35,328.11 87.76,328.23 88.18,328.37 88.59,328.53 89,328.71 89.41,328.9 89.82,329.11 90.23,329.33 90.64,329.58 91.05,329.86 91.46,330.18 91.87,330.54 92.28,330.93 92.69,331.37 93.1,331.85 93.51,332.38 93.92,332.99 94.33,333.75 94.74,334.64 95.15,335.62 95.56,336.68 95.99,337.78 96.43,338.91 96.87,340.03 97.31,341.16 97.75,342.36 98.19,343.61 98.63,344.9 99.07,346.23 99.51,347.58 99.95,348.94 100.39,350.3 100.83,351.67 101.27,353.08 101.71,354.53 102.15,355.99 102.59,357.44 103.03,358.88 103.47,360.29 103.91,361.64 104.35,362.95 104.79,364.23 105.23,365.48 105.67,366.72 106.11,367.93 106.55,369.12 106.99,370.3 107.43,371.47 107.87,372.63 108.31,373.79 108.74,374.96 109.18,376.1 109.62,377.22 110.06,378.29 110.5,379.32 110.94,380.27 111.38,381.17 111.82,382.02 112.26,382.85 112.7,383.64 113.14,384.39 113.58,385.12 114.02,385.83 114.46,386.51 114.9,387.16 115.34,387.79 115.78,388.39 116.22,388.97 116.66,389.54 117.1,390.09 117.54,390.64 117.98,391.17 118.42,391.69 118.86,392.19 119.3,392.66 119.74,393.13 120.18,393.6 120.62,394.08 121.06,394.57 121.5,395.09 121.94,395.63 122.38,396.2 122.82,396.78 123.26,397.38 123.7,398 124.14,398.62 124.58,399.26 125.02,399.91 125.46,400.57 125.9,401.25 126.34,401.95 126.78,402.67 127.22,403.39 127.66,404.12 128.1,404.85 128.54,405.56 128.99,406.3 129.45,407.04 129.91,407.79 130.36,408.54 130.82,409.28 131.28,410.02 131.73,410.75 132.19,411.47 132.65,412.17 133.11,412.89 133.56,413.61 134.02,414.32 134.48,415.01 134.94,415.67 135.39,416.3 135.85,416.89 136.31,417.44 136.77,417.96 137.22,418.46 137.68,418.93 138.14,419.34 138.6,419.7 139.05,420.03 139.51,420.34 139.97,420.62 140.43,420.86 140.88,421.07 141.34,421.25 141.8,421.42 142.26,421.59 142.71,421.74 143.17,421.89 143.61,422.01 144.05,422.1 144.49,422.19 144.93,422.26 145.37,422.32 145.81,422.36 146.25,422.4 146.69,422.44 147.13,422.47 147.57,422.51 148.01,422.54 148.45,422.57 148.89,422.6 149.33,422.63 149.77,422.65 150.21,422.68 150.65,422.7 151.09,422.72 151.53,422.74 151.97,422.76 152.41,422.78 152.85,422.8 153.29,422.82 153.73,422.83 154.17,422.85 154.61,422.87 155.05,422.88 155.49,422.9 155.93,422.91 156.37,422.93 156.81,422.94 157.25,422.96 157.69,422.97 158.13,422.99 158.57,423 159.01,423.02 159.45,423.03 159.89,423.05 160.33,423.06 160.77,423.08 161.21,423.09 161.65,423.1 162.09,423.12 162.53,423.13 162.97,423.14 163.41,423.15 163.85,423.17 164.29,423.18 164.73,423.19 165.17,423.2 165.61,423.21 166.05,423.22 166.49,423.23 166.93,423.24 167.36,423.24 167.8,423.25 168.24,423.26 168.68,423.27 169.12,423.27" fill="none" stroke="#c586d0" stroke-width="1" stroke-linejoin="round" stroke-linecap="round" />
<polyline points="37.99,324.2 38.43,324.23 38.87,324.27 39.31,324.3 39.75,324.34 40.19,324.38 40.63,324.41 41.07,324.45 41.51,324.49 41.95,324.52 42.39,324.56 42.83,324.6 43.27,324.64 43.71,324.68 44.15,324.72 44.59,324.76 45.03,324.8 45.47,324.84 45.91,324.88 46.35,324.93 46.79,324.97 47.23,325.01 47.67,325.05 48.11,325.1 48.55,325.14 48.99,325.19 49.43,325.24 49.87,325.29 50.31,325.34 50.75,325.39 51.19,325.44 51.63,325.5 52.07,325.55 52.51,325.6 52.95,325.65 53.39,325.7 53.83,325.75 54.27,325.8 54.71,325.85 55.15,325.9 55.59,325.94 56.03,325.99 56.47,326.03 56.91,326.07 57.35,326.11 57.79,326.15 58.23,326.19 58.66,326.23 59.1,326.27 59.54,326.31 59.98,326.35 60.42,326.38 60.86,326.42 61.3,326.46 61.74,326.49 62.18,326.53 62.62,326.56 63.06,326.59 63.5,326.62 63.94,326.65 64.38,326.68 64.82,326.71 65.26,326.73 65.7,326.76 66.14,326.78 66.58,326.8 67.02,326.82 67.46,326.84 67.9,326.85 68.34,326.87 68.78,326.88 69.22,326.9 69.66,326.91 70.1,326.93 70.54,326.94 70.98,326.96 71.42,326.97 71.86,326.98 72.3,326.99 72.74,327.01 73.18,327.02 73.62,327.03 74.06,327.04 74.5,327.06 74.94,327.07 75.38,327.08 75.82,327.1 76.26,327.11 76.7,327.12 77.14,327.13 77.58,327.14 78.02,327.15 78.46,327.16 78.9,327.17 79.34,327.18 79.78,327.19 80.22,327.2 80.66,327.22 81.1,327.23 81.54,327.25 81.98,327.27 82.42,327.29 82.88,327.31 83.35,327.34 83.83,327.39 84.3,327.44 84.78,327.5 85.26,327.57 85.73,327.65 86.21,327.73 86.69,327.82 87.16,327.91 87.64,328.01 88.12,328.11 88.59,328.23 89.07,328.37 89.55,328.53 90.02,328.71 90.5,328.9 90.98,329.11 91.45,329.33 91.93,329.58 92.4,329.86 92.88,330.18 93.36,330.54 93.83,330.93 94.31,331.37 94.79,331.85 95.26,332.38 95.74,332.99 96.22,333.75 96.69,334.64 97.17,335.62 97.65,336.68 98.1,337.78 98.54,338.91 98.98,340.03 99.42,341.16 99.86,342.36 100.3,343.61 100.74,344.9 101.18,346.23 101.62,347.58 102.06,348.94 102.5,350.3 102.94,351.67 103.38,353.08 103.82,354.53 104.26,355.99 104.7,357.44 105.14,358.88 105.58,360.29 106.02,361.64 106.46,362.95 106.9,364.23 107.34,365.48 107.78,366.72 108.22,367.93 108.66,369.12 109.1,370.3 109.54,371.47 109.98,372.63 110.42,373.79 110.86,374.96 111.3,376.1 111.74,377.22 112.18,378.29 112.62,379.32 113.06,380.27 113.5,381.17 113.94,382.02 114.38,382.85 114.82,383.64 115.26,384.39 115.7,385.12 116.14,385.83 116.58,386.51 117.02,387.16 117.46,387.79 117.9,388.39 118.34,388.97 118.78,389.54 119.22,390.09 119.65,390.64 120.09,391.17 120.53,391.69 120.97,392.19 121.41,392.66 121.85,393.13 122.29,393.6 122.73,394.08 123.17,394.57 123.61,395.09 124.05,395.63 124.49,396.2 124.93,396.78 125.37,397.38 125.81,398 126.25,398.62 126.69,399.26 127.13,399.91 127.57,400.57 128.01,401.25 128.45,401.95 128.89,402.67 129.33,403.39 129.77,404.12 130.21,404.85 130.65,405.56 131.07,406.27 131.49,406.99 131.91,407.7 132.33,408.42 132.74,409.13 133.16,409.84 133.58,410.53 134,411.22 134.42,411.89 134.83,412.58 135.25,413.26 135.67,413.94 136.09,414.6 136.51,415.23 136.92,415.83 137.34,416.38 137.76,416.9 138.18,417.39 138.59,417.86 139.01,418.29 139.43,418.67 139.85,419 140.27,419.3 140.68,419.57 141.1,419.82 141.52,420.03 141.94,420.2 142.35,420.35 142.77,420.5 143.19,420.63 143.61,420.75 144.03,420.87 144.46,420.97 144.9,421.07 145.34,421.15 145.78,421.23 146.22,421.28 146.66,421.33 147.1,421.37 147.54,421.41 147.98,421.44 148.42,421.48 148.86,421.51 149.3,421.54 149.74,421.57 150.18,421.59 150.62,421.62 151.06,421.64 151.5,421.67 151.94,421.69 152.38,421.71 152.82,421.73 153.26,421.75 153.7,421.77 154.14,421.78 154.58,421.8 155.02,421.82 155.46,421.83 155.9,421.85 156.34,421.86 156.78,421.88 157.21,421.9 157.65,421.91 158.09,421.93 158.53,421.94 158.97,421.96 159.41,421.97 159.85,421.99 160.29,422 160.73,422.02 161.17,422.03 161.61,422.04 162.05,422.06 162.49,422.07 162.93,422.08 163.37,422.1 163.81,422.11 164.25,422.12 164.69,422.13 165.13,422.14 165.57,422.16 166.01,422.17 166.45,422.18 166.89,422.19 167.33,422.2 167.77,422.2 168.21,422.21 168.65,422.22 169.09,422.23" fill="none" stroke="#f0607c" stroke-width="1" stroke-linejoin="round" stroke-linecap="round" />
<polyline points="37.99,324.2 38.43,324.23 38.87,324.27 39.31,324.3 39.75,324.34 40.19,324.38 40.63,324.41 41.07,324.45 41.51,324.49 41.95,324.52 42.39,324.56 42.83,324.6 43.27,324.64 43.71,324.68 44.15,324.72 44.59,324.76 45.03,324.8 45.47,324.84 45.91,324.88 46.35,324.93 46.79,324.97 47.23,325.01 47.67,325.05 48.11,325.1 48.55,325.14 48.99,325.19 49.43,325.24 49.87,325.29 50.31,325.34 50.75,325.39 51.19,325.44 51.63,325.5 52.07,325.55 52.51,325.6 52.95,325.65 53.39,325.7 53.83,325.75 54.27,325.8 54.71,325.85 55.15,325.9 55.59,325.94 56.03,325.99 56.47,326.03 56.91,326.07 57.35,326.11 57.79,326.15 58.23,326.19 58.66,326.23 59.1,326.27 59.54,326.31 59.98,326.35 60.42,326.38 60.86,326.42 61.3,326.46 61.74,326.49 62.18,326.53 62.62,326.56 63.06,326.59 63.5,326.62 63.94,326.65 64.38,326.68 64.82,326.71 65.26,326.73 65.7,326.76 66.14,326.78 66.58,326.8 67.02,326.82 67.46,326.84 67.9,326.85 68.34,326.87 68.78,326.88 69.22,326.9 69.66,326.91 70.1,326.93 70.54,326.94 70.98,326.96 71.42,326.97 71.86,326.98 72.3,326.99 72.74,327.01 73.18,327.02 73.62,327.03 74.06,327.04 74.5,327.06 74.94,327.07 75.38,327.08 75.82,327.1 76.26,327.11 76.7,327.12 77.14,327.13 77.58,327.14 78.02,327.15 78.46,327.16 78.9,327.17 79.34,327.18 79.78,327.19 80.22,327.2 80.66,327.22 81.1,327.23 81.54,327.25 81.98,327.27 82.42,327.29 82.86,327.31 83.32,327.34 83.77,327.39 84.23,327.44 84.68,327.5 85.14,327.57 85.59,327.65 86.04,327.73 86.5,327.82 86.95,327.91 87.41,328.01 87.86,328.11 88.32,328.23 88.77,328.37 89.23,328.53 89.68,328.71 90.13,328.9 90.59,329.11 91.04,329.33 91.5,329.58 91.95,329.86 92.41,330.18 92.86,330.54 93.32,330.93 93.77,331.37 94.23,331.85 94.68,332.38 95.13,332.99 95.59,333.75 96.04,334.64 96.5,335.62 96.95,336.68 97.4,337.78 97.84,338.91 98.28,340.03 98.72,341.16 99.16,342.36 99.6,343.61 100.04,344.9 100.48,346.23 100.92,347.58 101.36,348.94 101.8,350.3 102.24,351.67 102.68,353.08 103.12,354.53 103.56,355.99 104,357.44 104.44,358.88 104.88,360.29 105.32,361.64 105.76,362.95 106.2,364.23 106.64,365.48 107.08,366.72 107.51,367.93 107.95,369.12 108.39,370.3 108.83,371.47 109.27,372.63 109.71,373.79 110.15,374.96 110.59,376.1 111.03,377.22 111.47,378.29 111.91,379.32 112.35,380.27 112.79,381.17 113.23,382.02 113.67,382.85 114.11,383.64 114.55,384.39 114.99,385.12 115.43,385.83 115.87,386.51 116.31,387.16 116.75,387.79 117.19,388.39 117.63,388.97 118.07,389.54 118.51,390.09 118.95,390.64 119.39,391.17 119.83,391.69 120.27,392.19 120.71,392.66 121.15,393.13 121.59,393.6 122.03,394.08 122.47,394.57 122.91,395.09 123.35,395.63 123.79,396.2 124.23,396.78 124.67,397.38 125.11,398 125.55,398.62 125.99,399.26 126.43,399.91 126.87,400.57 127.31,401.25 127.75,401.95 128.19,402.67 128.63,403.39 129.07,404.12 129.51,404.85 129.95,405.56 130.38,406.26 130.81,406.96 131.24,407.66 131.67,408.36 132.1,409.05 132.53,409.74 132.97,410.42 133.4,411.09 133.83,411.75 134.26,412.42 134.69,413.09 135.12,413.75 135.55,414.39 135.98,415.01 136.41,415.59 136.84,416.13 137.28,416.63 137.71,417.11 138.14,417.56 138.57,417.97 139,418.34 139.43,418.65 139.86,418.93 140.29,419.19 140.72,419.42 141.15,419.62 141.59,419.77 142.02,419.91 142.45,420.03 142.88,420.15 143.31,420.26 143.74,420.36 144.18,420.46 144.62,420.55 145.06,420.64 145.5,420.71 145.94,420.77 146.38,420.81 146.82,420.85 147.26,420.89 147.7,420.93 148.14,420.96 148.58,420.99 149.02,421.02 149.46,421.05 149.9,421.08 150.34,421.1 150.78,421.13 151.22,421.15 151.66,421.17 152.1,421.19 152.53,421.21 152.97,421.23 153.41,421.25 153.85,421.27 154.29,421.29 154.73,421.3 155.17,421.32 155.61,421.33 156.05,421.35 156.49,421.36 156.93,421.38 157.37,421.39 157.81,421.41 158.25,421.43 158.69,421.44 159.13,421.46 159.57,421.47 160.01,421.49 160.45,421.5 160.89,421.51 161.33,421.53 161.77,421.54 162.21,421.56 162.65,421.57 163.09,421.58 163.53,421.59 163.97,421.61 164.41,421.62 164.85,421.63 165.29,421.64 165.73,421.65 166.17,421.66 166.61,421.67 167.05,421.68 167.49,421.69 167.93,421.7 168.37,421.7 168.81,421.71 169.25,421.72" fill="none" stroke="#6cc044" stroke-width="1" stroke-linejoin="round" stroke-linecap="round" />
<polyline points="37.99,324.2 38.43,324.23 38.87,324.27 39.31,324.3 39.75,324.34 40.19,324.38 40.63,324.41 41.07,324.45 41.51,324.49 41.95,324.52 42.39,324.56 42.83,324.6 43.27,324.64 43.71,324.68 44.15,324.72 44.59,324.76 45.03,324.8 45.47,324.84 45.91,324.88 46.35,324.93 46.79,324.97 47.23,325.01 47.67,325.05 48.11,325.1 48.55,325.14 48.99,325.19 49.43,325.24 49.87,325.29 50.31,325.34 50.75,325.39 51.19,325.44 51.63,325.5 52.07,325.55 52.51,325.6 52.95,325.65 53.39,325.7 53.83,325.75 54.27,325.8 54.71,325.85 55.15,325.9 55.59,325.94 56.03,325.99 56.47,326.03 56.91,326.07 57.35,326.11 57.79,326.15 58.23,326.19 58.66,326.23 59.1,326.27 59.54,326.31 59.98,326.35 60.42,326.38 60.86,326.42 61.3,326.46 61.74,326.49 62.18,326.53 62.62,326.56 63.06,326.59 63.5,326.62 63.94,326.65 64.38,326.68 64.82,326.71 65.26,326.73 65.7,326.76 66.14,326.78 66.58,326.8 67.02,326.82 67.46,326.84 67.9,326.85 68.34,326.87 68.78,326.88 69.22,326.9 69.66,326.91 70.1,326.93 70.54,326.94 70.98,326.96 71.42,326.97 71.86,326.98 72.3,326.99 72.74,327.01 73.18,327.02 73.62,327.03 74.06,327.04 74.5,327.06 74.94,327.07 75.38,327.08 75.82,327.1 76.26,327.11 76.7,327.12 77.14,327.13 77.58,327.14 78.02,327.15 78.46,327.16 78.9,327.17 79.34,327.18 79.78,327.19 80.22,327.2 80.66,327.22 81.1,327.23 81.54,327.25 81.98,327.27 82.42,327.29 82.85,327.31 83.28,327.34 83.72,327.39 84.15,327.44 84.58,327.5 85.01,327.57 85.45,327.65 85.88,327.73 86.31,327.82 86.74,327.91 87.18,328.01 87.61,328.11 88.04,328.23 88.47,328.37 88.91,328.53 89.34,328.71 89.77,328.9 90.2,329.11 90.64,329.33 91.07,329.58 91.5,329.86 91.93,330.18 92.37,330.54 92.8,330.93 93.23,331.37 93.66,331.85 94.1,332.38 94.53,332.99 94.96,333.75 95.39,334.64 95.83,335.62 96.26,336.68 96.69,337.78 97.13,338.91 97.57,340.03 98.01,341.16 98.45,342.36 98.89,343.61 99.33,344.9 99.77,346.23 100.21,347.58 100.65,348.94 101.09,350.3 101.53,351.67 101.97,353.08 102.41,354.53 102.85,355.99 103.29,357.44 103.73,358.88 104.17,360.29 104.61,361.64 105.05,362.95 105.49,364.23 105.93,365.48 106.37,366.72 106.81,367.93 107.25,369.12 107.69,370.3 108.13,371.47 108.57,372.63 109.01,373.79 109.45,374.96 109.89,376.1 110.33,377.22 110.77,378.29 111.21,379.32 111.65,380.27 112.09,381.17 112.53,382.02 112.97,382.85 113.41,383.64 113.85,384.39 114.29,385.12 114.73,385.83 115.17,386.51 115.61,387.16 116.05,387.79 116.49,388.39 116.93,388.97 117.37,389.54 117.81,390.09 118.25,390.64 118.69,391.17 119.13,391.69 119.57,392.19 120.01,392.66 120.44,393.13 120.88,393.6 121.32,394.08 121.76,394.57 122.2,395.09 122.64,395.63 123.08,396.2 123.52,396.78 123.96,397.38 124.4,398 124.84,398.62 125.28,399.26 125.72,399.91 126.16,400.57 126.6,401.25 127.04,401.95 127.48,402.67 127.92,403.39 128.36,404.12 128.8,404.85 129.24,405.56 129.68,406.28 130.13,407 130.57,407.73 131.02,408.45 131.46,409.18 131.91,409.89 132.35,410.6 132.79,411.29 133.24,411.98 133.68,412.67 134.13,413.36 134.57,414.05 135.02,414.72 135.46,415.36 135.9,415.97 136.35,416.53 136.79,417.06 137.24,417.56 137.68,418.04 138.12,418.48 138.57,418.87 139.01,419.21 139.46,419.52 139.9,419.8 140.35,420.06 140.79,420.28 141.23,420.46 141.68,420.62 142.12,420.77 142.57,420.92 143.01,421.05 143.46,421.17 143.9,421.28 144.34,421.38 144.78,421.46 145.22,421.53 145.66,421.59 146.1,421.64 146.54,421.68 146.98,421.71 147.41,421.75 147.85,421.78 148.29,421.82 148.73,421.85 149.17,421.88 149.61,421.9 150.05,421.93 150.49,421.95 150.93,421.98 151.37,422 151.81,422.02 152.25,422.04 152.69,422.06 153.13,422.08 153.57,422.09 154.01,422.11 154.45,422.13 154.89,422.14 155.33,422.16 155.77,422.17 156.21,422.19 156.65,422.2 157.09,422.22 157.53,422.24 157.97,422.25 158.41,422.27 158.85,422.28 159.29,422.3 159.73,422.31 160.17,422.33 160.61,422.34 161.05,422.35 161.49,422.37 161.93,422.38 162.37,422.39 162.81,422.41 163.25,422.42 163.69,422.43 164.13,422.44 164.57,422.45 165.01,422.47 165.45,422.48 165.89,422.49 166.33,422.5 166.77,422.5 167.21,422.51 167.65,422.52 168.09,422.53 168.53,422.54 168.97,422.54 169.41,422.55" fill="none" stroke="#2db5aa" stroke-width="1" stroke-linejoin="round" stroke-linecap="round" />
<rect x="28.6" y="314.4" width="140.9" height="113" fill="none" stroke="#1a1a1a" stroke-width="1.05"/>
<line x1="28.6" y1="427.4" x2="28.6" y2="429.56" stroke="#1a1a1a" stroke-width="0.9" />
<line x1="52.08" y1="427.4" x2="52.08" y2="429.56" stroke="#1a1a1a" stroke-width="0.9" />
<line x1="75.57" y1="427.4" x2="75.57" y2="429.56" stroke="#1a1a1a" stroke-width="0.9" />
<line x1="99.05" y1="427.4" x2="99.05" y2="429.56" stroke="#1a1a1a" stroke-width="0.9" />
<line x1="122.53" y1="427.4" x2="122.53" y2="429.56" stroke="#1a1a1a" stroke-width="0.9" />
<line x1="146.02" y1="427.4" x2="146.02" y2="429.56" stroke="#1a1a1a" stroke-width="0.9" />
<line x1="169.5" y1="427.4" x2="169.5" y2="429.56" stroke="#1a1a1a" stroke-width="0.9" />
<line x1="40.34" y1="427.4" x2="40.34" y2="428.7" stroke="#1a1a1a" stroke-width="0.8" />
<line x1="63.83" y1="427.4" x2="63.83" y2="428.7" stroke="#1a1a1a" stroke-width="0.8" />
<line x1="87.31" y1="427.4" x2="87.31" y2="428.7" stroke="#1a1a1a" stroke-width="0.8" />
<line x1="110.79" y1="427.4" x2="110.79" y2="428.7" stroke="#1a1a1a" stroke-width="0.8" />
<line x1="134.28" y1="427.4" x2="134.28" y2="428.7" stroke="#1a1a1a" stroke-width="0.8" />
<line x1="157.76" y1="427.4" x2="157.76" y2="428.7" stroke="#1a1a1a" stroke-width="0.8" />
<line x1="26.44" y1="427.4" x2="28.6" y2="427.4" stroke="#1a1a1a" stroke-width="0.9" />
<line x1="26.44" y1="406.76" x2="28.6" y2="406.76" stroke="#1a1a1a" stroke-width="0.9" />
<line x1="26.44" y1="386.12" x2="28.6" y2="386.12" stroke="#1a1a1a" stroke-width="0.9" />
<line x1="26.44" y1="365.48" x2="28.6" y2="365.48" stroke="#1a1a1a" stroke-width="0.9" />
<line x1="26.44" y1="344.84" x2="28.6" y2="344.84" stroke="#1a1a1a" stroke-width="0.9" />
<line x1="26.44" y1="324.2" x2="28.6" y2="324.2" stroke="#1a1a1a" stroke-width="0.9" />
<line x1="27.3" y1="417.08" x2="28.6" y2="417.08" stroke="#1a1a1a" stroke-width="0.8" />
<line x1="27.3" y1="396.44" x2="28.6" y2="396.44" stroke="#1a1a1a" stroke-width="0.8" />
<line x1="27.3" y1="375.8" x2="28.6" y2="375.8" stroke="#1a1a1a" stroke-width="0.8" />
<line x1="27.3" y1="355.16" x2="28.6" y2="355.16" stroke="#1a1a1a" stroke-width="0.8" />
<line x1="27.3" y1="334.52" x2="28.6" y2="334.52" stroke="#1a1a1a" stroke-width="0.8" />
<text x="29.2" y="436.6" font-size="6.3" font-weight="bold" text-anchor="middle" fill="#111"  stroke="#111" stroke-width="0.14">0</text>
<text x="52.68" y="436.6" font-size="6.3" font-weight="bold" text-anchor="middle" fill="#111"  stroke="#111" stroke-width="0.14">100</text>
<text x="76.17" y="436.6" font-size="6.3" font-weight="bold" text-anchor="middle" fill="#111"  stroke="#111" stroke-width="0.14">200</text>
<text x="99.65" y="436.6" font-size="6.3" font-weight="bold" text-anchor="middle" fill="#111"  stroke="#111" stroke-width="0.14">300</text>
<text x="123.13" y="436.6" font-size="6.3" font-weight="bold" text-anchor="middle" fill="#111"  stroke="#111" stroke-width="0.14">400</text>
<text x="146.62" y="436.6" font-size="6.3" font-weight="bold" text-anchor="middle" fill="#111"  stroke="#111" stroke-width="0.14">500</text>
<text x="170.1" y="436.6" font-size="6.3" font-weight="bold" text-anchor="middle" fill="#111"  stroke="#111" stroke-width="0.14">600</text>
<text x="25.8" y="429.4" font-size="6.5" font-weight="bold" text-anchor="end" fill="#111"  stroke="#111" stroke-width="0.14">0</text>
<text x="25.8" y="408.76" font-size="6.5" font-weight="bold" text-anchor="end" fill="#111"  stroke="#111" stroke-width="0.14">20</text>
<text x="25.8" y="388.12" font-size="6.5" font-weight="bold" text-anchor="end" fill="#111"  stroke="#111" stroke-width="0.14">40</text>
<text x="25.8" y="367.48" font-size="6.5" font-weight="bold" text-anchor="end" fill="#111"  stroke="#111" stroke-width="0.14">60</text>
<text x="25.8" y="346.84" font-size="6.5" font-weight="bold" text-anchor="end" fill="#111"  stroke="#111" stroke-width="0.14">80</text>
<text x="25.8" y="326.2" font-size="6.5" font-weight="bold" text-anchor="end" fill="#111"  stroke="#111" stroke-width="0.14">100</text>
<text x="102.4" y="444.1" font-size="7.7" font-weight="bold" text-anchor="middle" fill="#111"  stroke="#111" stroke-width="0.14">Temperature ( &#176;C )</text>
<text transform="translate(12.2 367.9) rotate(-90)" font-size="7.6" font-weight="bold" text-anchor="middle" fill="#111" stroke="#111" stroke-width="0.14">Weight (%)</text>
<text x="93.2" y="329.1" font-size="5.1" font-weight="normal" text-anchor="start" fill="#111" stroke="#111" stroke-width="0.15">265&#176;C,&#160; 95%</text>
<text x="110.5" y="366.8" font-size="5.1" font-weight="normal" text-anchor="start" fill="#111" stroke="#111" stroke-width="0.15">325&#176;C, 60%</text>
<line x1="124" y1="318.7" x2="135.5" y2="318.7" stroke="#f0607c" stroke-width="1.25" />
<text x="137.4" y="320.75" font-size="5.7" font-weight="bold" text-anchor="start" fill="#111"  stroke="#111" stroke-width="0.14">PVA-Bta<tspan font-size="75%" dy="1.3">5%</tspan></text>
<line x1="124" y1="326.7" x2="135.5" y2="326.7" stroke="#6cc044" stroke-width="1.25" />
<text x="137.4" y="328.75" font-size="5.7" font-weight="bold" text-anchor="start" fill="#111"  stroke="#111" stroke-width="0.14">PVA-Bta<tspan font-size="75%" dy="1.3">10%</tspan></text>
<line x1="124" y1="334.5" x2="135.5" y2="334.5" stroke="#2db5aa" stroke-width="1.25" />
<text x="137.4" y="336.55" font-size="5.7" font-weight="bold" text-anchor="start" fill="#111"  stroke="#111" stroke-width="0.14">PVA-Bta<tspan font-size="75%" dy="1.3">15%</tspan></text>
<line x1="124" y1="342.7" x2="135.5" y2="342.7" stroke="#c586d0" stroke-width="1.25" />
<text x="137.4" y="344.75" font-size="5.7" font-weight="bold" text-anchor="start" fill="#111"  stroke="#111" stroke-width="0.14">PVA-Bta<tspan font-size="75%" dy="1.3">20%</tspan></text>
<text x="186.8" y="311.7" font-size="8.2" font-weight="normal" text-anchor="start" fill="#111" stroke="#111" stroke-width="0.15">(h)</text>
<line x1="284.75" y1="314.5" x2="284.75" y2="409" stroke="#333" stroke-width="0.8" stroke-dasharray="3.0 2.4" />
<polyline points="213.2,328.31 213.54,328.47 213.87,328.62 214.21,328.76 214.54,328.91 214.88,329.04 215.21,329.17 215.55,329.29 215.88,329.41 216.22,329.51 216.55,329.61 216.89,329.7 217.22,329.79 217.56,329.87 217.89,329.96 218.23,330.04 218.57,330.12 218.9,330.19 219.24,330.26 219.57,330.33 219.91,330.39 220.24,330.45 220.58,330.5 220.91,330.55 221.25,330.6 221.58,330.64 221.92,330.69 222.25,330.73 222.59,330.78 222.92,330.82 223.26,330.86 223.6,330.9 223.93,330.94 224.27,330.97 224.6,331 224.94,331.03 225.27,331.06 225.61,331.08 225.94,331.09 226.28,331.1 226.61,331.11 226.95,331.11 227.28,331.11 227.62,331.11 227.96,331.1 228.29,331.09 228.63,331.07 228.96,331.05 229.3,331.03 229.63,331.01 229.97,330.98 230.3,330.96 230.64,330.93 230.97,330.9 231.31,330.86 231.64,330.83 231.98,330.8 232.31,330.76 232.65,330.73 232.99,330.68 233.32,330.62 233.66,330.57 233.99,330.51 234.33,330.46 234.66,330.4 235,330.33 235.33,330.27 235.67,330.19 236,330.12 236.34,330.04 236.67,329.97 237.01,329.89 237.34,329.8 237.68,329.72 238.02,329.64 238.35,329.55 238.69,329.47 239.02,329.39 239.36,329.31 239.69,329.22 240.03,329.14 240.36,329.07 240.7,328.99 241.03,328.92 241.37,328.85 241.7,328.78 242.04,328.72 242.37,328.65 242.71,328.58 243.05,328.51 243.38,328.44 243.72,328.37 244.05,328.3 244.39,328.23 244.72,328.16 245.06,328.09 245.39,328.03 245.73,327.97 246.06,327.91 246.4,327.86 246.73,327.81 247.07,327.77 247.4,327.74 247.74,327.71 248.08,327.69 248.41,327.68 248.75,327.69 249.08,327.73 249.42,327.8 249.75,327.88 250.09,327.99 250.42,328.1 250.76,328.22 251.09,328.34 251.43,328.46 251.76,328.57 252.1,328.7 252.43,328.84 252.77,328.99 253.11,329.15 253.44,329.32 253.78,329.51 254.11,329.71 254.45,329.93 254.78,330.17 255.12,330.42 255.45,330.69 255.79,331.01 256.12,331.38 256.46,331.81 256.79,332.28 257.13,332.79 257.47,333.33 257.8,333.92 258.14,334.53 258.47,335.17 258.81,335.83 259.14,336.51 259.48,337.21 259.81,337.91 260.15,338.63 260.48,339.35 260.82,340.08 261.15,340.86 261.49,341.69 261.82,342.56 262.16,343.47 262.5,344.41 262.83,345.38 263.17,346.38 263.5,347.4 263.84,348.44 264.17,349.49 264.51,350.55 264.84,351.63 265.18,352.7 265.51,353.78 265.85,354.86 266.18,355.98 266.52,357.14 266.85,358.34 267.19,359.56 267.53,360.8 267.86,362.04 268.2,363.28 268.53,364.51 268.87,365.71 269.2,366.88 269.54,368 269.87,369.09 270.21,370.17 270.54,371.25 270.88,372.33 271.21,373.39 271.55,374.44 271.88,375.48 272.22,376.49 272.56,377.47 272.89,378.43 273.23,379.35 273.56,380.23 273.9,381.07 274.23,381.87 274.57,382.62 274.9,383.35 275.24,384.07 275.57,384.77 275.91,385.46 276.24,386.12 276.58,386.76 276.91,387.38 277.25,387.98 277.59,388.54 277.92,389.08 278.26,389.59 278.59,390.07 278.93,390.51 279.26,390.93 279.6,391.36 279.93,391.79 280.27,392.22 280.6,392.64 280.94,393.03 281.27,393.39 281.61,393.7 281.94,393.97 282.28,394.16 282.62,394.29 282.95,394.33 283.29,394.28 283.62,394.16 283.96,393.97 284.29,393.73 284.63,393.43 284.96,393.09 285.3,392.71 285.63,392.31 285.97,391.9 286.3,391.47 286.64,391.04 286.98,390.63 287.31,390.22 287.65,389.84 287.98,389.47 288.32,389.1 288.65,388.72 288.99,388.33 289.32,387.93 289.66,387.53 289.99,387.12 290.33,386.7 290.66,386.27 291,385.83 291.33,385.38 291.67,384.92 292.01,384.45 292.34,383.97 292.68,383.47 293.01,382.97 293.35,382.45 293.68,381.89 294.02,381.28 294.35,380.64 294.69,379.96 295.02,379.26 295.36,378.54 295.69,377.82 296.03,377.11 296.36,376.41 296.7,375.73 297.04,375.09 297.37,374.49 297.71,373.94 298.04,373.44 298.38,372.96 298.71,372.51 299.05,372.07 299.38,371.65 299.72,371.24 300.05,370.84 300.39,370.45 300.72,370.06 301.06,369.67 301.39,369.28 301.73,368.89 302.07,368.49 302.4,368.07 302.74,367.6 303.07,367.09 303.41,366.58 303.74,366.07 304.08,365.58 304.41,365.14 304.75,364.77 305.08,364.49 305.42,364.3 305.75,364.23 306.09,364.17 306.42,364.12 306.76,364.08 307.1,364.05 307.43,364.02 307.77,364.01 308.1,364.02 308.44,364.08 308.77,364.18 309.11,364.31 309.44,364.45 309.78,364.58 310.11,364.7 310.45,364.79 310.78,364.83 311.12,364.84 311.45,364.86 311.79,364.87 312.13,364.88 312.46,364.88 312.8,364.89 313.13,364.89 313.47,364.88 313.8,364.68 314.14,364.25 314.47,363.67 314.81,362.97 315.14,362.22 315.48,361.47 315.81,360.79 316.15,360.2 316.49,359.63 316.82,359.07 317.16,358.5 317.49,357.94 317.83,357.37 318.16,356.79 318.5,356.2 318.83,355.59 319.17,354.95 319.5,354.29 319.84,353.6 320.17,352.87 320.51,352.12 320.84,351.34 321.18,350.55 321.52,349.74 321.85,348.92 322.19,348.09 322.52,347.27 322.86,346.45 323.19,345.64 323.53,344.85 323.86,344.07 324.2,343.32 324.53,342.6 324.87,341.91 325.2,341.23 325.54,340.54 325.87,339.84 326.21,339.15 326.55,338.46 326.88,337.77 327.22,337.1 327.55,336.45 327.89,335.81 328.22,335.2 328.56,334.62 328.89,334.06 329.23,333.55 329.56,333.07 329.9,332.63 330.23,332.24 330.57,331.89 330.9,331.55 331.24,331.22 331.58,330.9 331.91,330.61 332.25,330.32 332.58,330.06 332.92,329.83 333.25,329.61 333.59,329.43 333.92,329.27 334.26,329.14 334.59,329.03 334.93,328.92 335.26,328.81 335.6,328.7 335.93,328.61 336.27,328.51 336.61,328.42 336.94,328.34 337.28,328.26 337.61,328.18 337.95,328.11 338.28,328.05 338.62,327.99 338.95,327.94 339.29,327.9 339.62,327.86 339.96,327.83 340.29,327.8 340.63,327.78 340.97,327.77 341.3,327.76 341.64,327.75 341.97,327.73 342.31,327.72 342.64,327.71 342.98,327.7 343.31,327.69 343.65,327.68 343.98,327.67 344.32,327.66 344.65,327.65 344.99,327.64 345.32,327.63 345.66,327.62 346,327.62 346.33,327.61 346.67,327.6 347,327.6 347.34,327.59 347.67,327.58 348.01,327.58 348.34,327.57 348.68,327.57 349.01,327.56 349.35,327.56 349.68,327.55 350.02,327.55 350.35,327.55 350.69,327.54 351.03,327.54 351.36,327.54 351.7,327.53 352.03,327.53 352.37,327.53 352.7,327.53 353.04,327.53 353.37,327.53 353.71,327.53" fill="none" stroke="#c586d0" stroke-width="1" stroke-linejoin="round" stroke-linecap="round" />
<polyline points="213.2,328.19 213.54,328.34 213.87,328.49 214.21,328.63 214.54,328.77 214.88,328.9 215.21,329.03 215.55,329.14 215.88,329.25 216.22,329.35 216.55,329.44 216.89,329.53 217.22,329.61 217.56,329.7 217.89,329.78 218.23,329.85 218.57,329.93 218.9,330 219.24,330.06 219.57,330.12 219.91,330.18 220.24,330.24 220.58,330.29 220.91,330.33 221.25,330.37 221.58,330.41 221.92,330.45 222.25,330.5 222.59,330.53 222.92,330.57 223.26,330.61 223.6,330.64 223.93,330.68 224.27,330.71 224.6,330.73 224.94,330.76 225.27,330.78 225.61,330.79 225.94,330.81 226.28,330.81 226.61,330.82 226.95,330.81 227.28,330.81 227.62,330.8 227.96,330.78 228.29,330.77 228.63,330.75 228.96,330.73 229.3,330.7 229.63,330.67 229.97,330.64 230.3,330.61 230.64,330.58 230.97,330.54 231.31,330.5 231.64,330.47 231.98,330.43 232.31,330.39 232.65,330.35 232.99,330.3 233.32,330.25 233.66,330.2 233.99,330.15 234.33,330.1 234.66,330.04 235,329.99 235.33,329.92 235.67,329.86 236,329.79 236.34,329.71 236.67,329.64 237.01,329.57 237.34,329.49 237.68,329.41 238.02,329.33 238.35,329.25 238.69,329.17 239.02,329.09 239.36,329.02 239.69,328.94 240.03,328.86 240.36,328.79 240.7,328.72 241.03,328.65 241.37,328.58 241.7,328.52 242.04,328.46 242.37,328.4 242.71,328.34 243.05,328.27 243.38,328.2 243.72,328.14 244.05,328.07 244.39,328 244.72,327.94 245.06,327.88 245.39,327.82 245.73,327.76 246.06,327.71 246.4,327.66 246.73,327.62 247.07,327.58 247.4,327.55 247.74,327.53 248.08,327.51 248.41,327.5 248.75,327.51 249.08,327.52 249.42,327.53 249.75,327.56 250.09,327.59 250.42,327.63 250.76,327.67 251.09,327.73 251.43,327.78 251.76,327.84 252.1,327.91 252.43,327.98 252.77,328.05 253.11,328.13 253.44,328.21 253.78,328.29 254.11,328.38 254.45,328.49 254.78,328.62 255.12,328.77 255.45,328.94 255.79,329.13 256.12,329.33 256.46,329.55 256.79,329.79 257.13,330.04 257.47,330.3 257.8,330.58 258.14,330.9 258.47,331.28 258.81,331.71 259.14,332.18 259.48,332.7 259.81,333.25 260.15,333.84 260.48,334.45 260.82,335.1 261.15,335.77 261.49,336.45 261.82,337.16 262.16,337.88 262.5,338.6 262.83,339.33 263.17,340.08 263.5,340.87 263.84,341.7 264.17,342.58 264.51,343.49 264.84,344.43 265.18,345.4 265.51,346.4 265.85,347.42 266.18,348.45 266.52,349.51 266.85,350.57 267.19,351.64 267.53,352.72 267.86,353.8 268.2,354.88 268.53,355.98 268.87,357.12 269.2,358.29 269.54,359.48 269.87,360.69 270.21,361.91 270.54,363.14 270.88,364.36 271.21,365.59 271.55,366.8 271.88,367.99 272.22,369.17 272.56,370.34 272.89,371.51 273.23,372.67 273.56,373.84 273.9,375 274.23,376.16 274.57,377.32 274.9,378.48 275.24,379.63 275.57,380.79 275.91,381.95 276.24,383.11 276.58,384.26 276.91,385.44 277.25,386.69 277.59,387.99 277.92,389.32 278.26,390.65 278.59,391.96 278.93,393.22 279.26,394.4 279.6,395.5 279.93,396.47 280.27,397.3 280.6,397.97 280.94,398.6 281.27,399.22 281.61,399.83 281.94,400.42 282.28,400.99 282.62,401.54 282.95,402.05 283.29,402.52 283.62,402.95 283.96,403.34 284.29,403.67 284.63,403.95 284.96,404.16 285.3,404.31 285.63,404.38 285.97,404.39 286.3,404.34 286.64,404.26 286.98,404.13 287.31,403.97 287.65,403.77 287.98,403.54 288.32,403.28 288.65,402.98 288.99,402.66 289.32,402.31 289.66,401.94 289.99,401.55 290.33,401.14 290.66,400.66 291,399.88 291.33,398.84 291.67,397.61 292.01,396.26 292.34,394.85 292.68,393.46 293.01,392.15 293.35,390.99 293.68,389.94 294.02,388.88 294.35,387.84 294.69,386.81 295.02,385.79 295.36,384.79 295.69,383.81 296.03,382.85 296.36,381.92 296.7,381.02 297.04,380.15 297.37,379.31 297.71,378.51 298.04,377.74 298.38,376.99 298.71,376.25 299.05,375.52 299.38,374.81 299.72,374.12 300.05,373.45 300.39,372.81 300.72,372.19 301.06,371.6 301.39,371.04 301.73,370.51 302.07,370.02 302.4,369.55 302.74,369.07 303.07,368.59 303.41,368.12 303.74,367.67 304.08,367.26 304.41,366.89 304.75,366.58 305.08,366.34 305.42,366.19 305.75,366.12 306.09,366.07 306.42,366.03 306.76,366 307.1,365.97 307.43,365.94 307.77,365.91 308.1,365.88 308.44,365.85 308.77,365.83 309.11,365.81 309.44,365.78 309.78,365.76 310.11,365.73 310.45,365.69 310.78,365.65 311.12,365.59 311.45,365.51 311.79,365.4 312.13,365.28 312.46,365.14 312.8,364.97 313.13,364.79 313.47,364.58 313.8,364.24 314.14,363.76 314.47,363.17 314.81,362.52 315.14,361.84 315.48,361.16 315.81,360.52 316.15,359.95 316.49,359.4 316.82,358.86 317.16,358.33 317.49,357.79 317.83,357.25 318.16,356.7 318.5,356.14 318.83,355.55 319.17,354.94 319.5,354.3 319.84,353.62 320.17,352.9 320.51,352.16 320.84,351.38 321.18,350.59 321.52,349.78 321.85,348.96 322.19,348.13 322.52,347.3 322.86,346.48 323.19,345.66 323.53,344.86 323.86,344.08 324.2,343.33 324.53,342.6 324.87,341.91 325.2,341.23 325.54,340.54 325.87,339.84 326.21,339.15 326.55,338.46 326.88,337.77 327.22,337.1 327.55,336.45 327.89,335.81 328.22,335.2 328.56,334.62 328.89,334.06 329.23,333.55 329.56,333.07 329.9,332.63 330.23,332.24 330.57,331.89 330.9,331.55 331.24,331.23 331.58,330.92 331.91,330.63 332.25,330.36 332.58,330.1 332.92,329.87 333.25,329.65 333.59,329.46 333.92,329.29 334.26,329.14 334.59,329 334.93,328.86 335.26,328.73 335.6,328.6 335.93,328.48 336.27,328.36 336.61,328.24 336.94,328.13 337.28,328.03 337.61,327.93 337.95,327.84 338.28,327.75 338.62,327.68 338.95,327.61 339.29,327.55 339.62,327.5 339.96,327.46 340.29,327.43 340.63,327.41 340.97,327.39 341.3,327.38 341.64,327.37 341.97,327.36 342.31,327.34 342.64,327.33 342.98,327.32 343.31,327.31 343.65,327.3 343.98,327.29 344.32,327.28 344.65,327.27 344.99,327.26 345.32,327.25 345.66,327.25 346,327.24 346.33,327.23 346.67,327.22 347,327.22 347.34,327.21 347.67,327.2 348.01,327.2 348.34,327.19 348.68,327.19 349.01,327.18 349.35,327.18 349.68,327.17 350.02,327.17 350.35,327.17 350.69,327.16 351.03,327.16 351.36,327.16 351.7,327.16 352.03,327.16 352.37,327.15 352.7,327.15 353.04,327.15 353.37,327.15 353.71,327.15" fill="none" stroke="#f0607c" stroke-width="1" stroke-linejoin="round" stroke-linecap="round" />
<polyline points="213.2,327.83 213.54,327.97 213.87,328.1 214.21,328.23 214.54,328.36 214.88,328.47 215.21,328.59 215.55,328.69 215.88,328.79 216.22,328.87 216.55,328.95 216.89,329.02 217.22,329.1 217.56,329.16 217.89,329.23 218.23,329.29 218.57,329.35 218.9,329.41 219.24,329.46 219.57,329.51 219.91,329.56 220.24,329.6 220.58,329.63 220.91,329.67 221.25,329.69 221.58,329.72 221.92,329.75 222.25,329.78 222.59,329.8 222.92,329.83 223.26,329.85 223.6,329.87 223.93,329.89 224.27,329.91 224.6,329.92 224.94,329.93 225.27,329.94 225.61,329.94 225.94,329.94 226.28,329.93 226.61,329.92 226.95,329.91 227.28,329.89 227.62,329.87 227.96,329.84 228.29,329.81 228.63,329.78 228.96,329.74 229.3,329.7 229.63,329.66 229.97,329.62 230.3,329.57 230.64,329.53 230.97,329.48 231.31,329.43 231.64,329.38 231.98,329.33 232.31,329.27 232.65,329.22 232.99,329.18 233.32,329.14 233.66,329.11 233.99,329.07 234.33,329.03 234.66,328.99 235,328.94 235.33,328.89 235.67,328.84 236,328.78 236.34,328.73 236.67,328.67 237.01,328.6 237.34,328.54 237.68,328.47 238.02,328.41 238.35,328.34 238.69,328.28 239.02,328.21 239.36,328.15 239.69,328.08 240.03,328.02 240.36,327.96 240.7,327.9 241.03,327.85 241.37,327.79 241.7,327.75 242.04,327.7 242.37,327.65 242.71,327.6 243.05,327.55 243.38,327.49 243.72,327.44 244.05,327.39 244.39,327.33 244.72,327.28 245.06,327.23 245.39,327.19 245.73,327.14 246.06,327.11 246.4,327.07 246.73,327.04 247.07,327.02 247.4,327 247.74,326.99 248.08,326.99 248.41,326.99 248.75,327.01 249.08,327.04 249.42,327.08 249.75,327.13 250.09,327.19 250.42,327.26 250.76,327.34 251.09,327.42 251.43,327.51 251.76,327.6 252.1,327.7 252.43,327.8 252.77,327.9 253.11,328.01 253.44,328.12 253.78,328.26 254.11,328.41 254.45,328.58 254.78,328.77 255.12,328.97 255.45,329.19 255.79,329.43 256.12,329.68 256.46,329.94 256.79,330.22 257.13,330.53 257.47,330.88 257.8,331.29 258.14,331.75 258.47,332.25 258.81,332.79 259.14,333.37 259.48,333.98 259.81,334.62 260.15,335.28 260.48,335.97 260.82,336.67 261.15,337.39 261.49,338.12 261.82,338.84 262.16,339.57 262.5,340.33 262.83,341.14 263.17,341.98 263.5,342.87 263.84,343.79 264.17,344.74 264.51,345.72 264.84,346.73 265.18,347.75 265.51,348.8 265.85,349.86 266.18,350.92 266.52,352 266.85,353.08 267.19,354.15 267.53,355.24 267.86,356.37 268.2,357.53 268.53,358.73 268.87,359.95 269.2,361.18 269.54,362.42 269.87,363.65 270.21,364.87 270.54,366.07 270.88,367.24 271.21,368.38 271.55,369.49 271.88,370.6 272.22,371.7 272.56,372.79 272.89,373.87 273.23,374.95 273.56,376.01 273.9,377.05 274.23,378.09 274.57,379.1 274.9,380.09 275.24,381.07 275.57,382.02 275.91,382.95 276.24,383.87 276.58,384.81 276.91,385.76 277.25,386.7 277.59,387.63 277.92,388.54 278.26,389.4 278.59,390.23 278.93,391 279.26,391.7 279.6,392.33 279.93,392.87 280.27,393.35 280.6,393.82 280.94,394.29 281.27,394.75 281.61,395.19 281.94,395.61 282.28,396.01 282.62,396.37 282.95,396.7 283.29,396.99 283.62,397.22 283.96,397.41 284.29,397.53 284.63,397.59 284.96,397.59 285.3,397.52 285.63,397.39 285.97,397.21 286.3,396.98 286.64,396.7 286.98,396.39 287.31,396.05 287.65,395.68 287.98,395.29 288.32,394.89 288.65,394.47 288.99,394.05 289.32,393.62 289.66,393.18 289.99,392.65 290.33,392.06 290.66,391.39 291,390.68 291.33,389.93 291.67,389.15 292.01,388.35 292.34,387.54 292.68,386.75 293.01,385.97 293.35,385.22 293.68,384.48 294.02,383.71 294.35,382.93 294.69,382.13 295.02,381.32 295.36,380.52 295.69,379.72 296.03,378.94 296.36,378.17 296.7,377.43 297.04,376.72 297.37,376.05 297.71,375.43 298.04,374.84 298.38,374.27 298.71,373.72 299.05,373.19 299.38,372.68 299.72,372.18 300.05,371.7 300.39,371.23 300.72,370.76 301.06,370.31 301.39,369.86 301.73,369.42 302.07,368.99 302.4,368.55 302.74,368.07 303.07,367.57 303.41,367.07 303.74,366.59 304.08,366.13 304.41,365.72 304.75,365.37 305.08,365.1 305.42,364.93 305.75,364.86 306.09,364.8 306.42,364.75 306.76,364.71 307.1,364.68 307.43,364.65 307.77,364.64 308.1,364.65 308.44,364.74 308.77,364.88 309.11,365.07 309.44,365.28 309.78,365.5 310.11,365.71 310.45,365.89 310.78,366.03 311.12,366.14 311.45,366.25 311.79,366.36 312.13,366.46 312.46,366.54 312.8,366.61 313.13,366.64 313.47,366.64 313.8,366.45 314.14,366.05 314.47,365.48 314.81,364.8 315.14,364.06 315.48,363.3 315.81,362.58 316.15,361.92 316.49,361.23 316.82,360.51 317.16,359.76 317.49,358.98 317.83,358.2 318.16,357.4 318.5,356.6 318.83,355.81 319.17,355.02 319.5,354.25 319.84,353.47 320.17,352.69 320.51,351.89 320.84,351.09 321.18,350.29 321.52,349.49 321.85,348.68 322.19,347.89 322.52,347.09 322.86,346.31 323.19,345.54 323.53,344.78 323.86,344.03 324.2,343.3 324.53,342.6 324.87,341.91 325.2,341.23 325.54,340.54 325.87,339.84 326.21,339.15 326.55,338.46 326.88,337.77 327.22,337.1 327.55,336.45 327.89,335.81 328.22,335.2 328.56,334.62 328.89,334.06 329.23,333.55 329.56,333.07 329.9,332.63 330.23,332.24 330.57,331.89 330.9,331.53 331.24,331.19 331.58,330.85 331.91,330.53 332.25,330.23 332.58,329.95 332.92,329.71 333.25,329.51 333.59,329.34 333.92,329.22 334.26,329.15 334.59,329.11 334.93,329.06 335.26,329.02 335.6,328.98 335.93,328.95 336.27,328.91 336.61,328.88 336.94,328.85 337.28,328.83 337.61,328.81 337.95,328.78 338.28,328.76 338.62,328.75 338.95,328.73 339.29,328.71 339.62,328.7 339.96,328.69 340.29,328.67 340.63,328.66 340.97,328.65 341.3,328.64 341.64,328.63 341.97,328.62 342.31,328.61 342.64,328.6 342.98,328.59 343.31,328.58 343.65,328.57 343.98,328.56 344.32,328.55 344.65,328.54 344.99,328.53 345.32,328.52 345.66,328.52 346,328.51 346.33,328.5 346.67,328.49 347,328.49 347.34,328.48 347.67,328.47 348.01,328.47 348.34,328.46 348.68,328.45 349.01,328.45 349.35,328.44 349.68,328.44 350.02,328.43 350.35,328.43 350.69,328.43 351.03,328.42 351.36,328.42 351.7,328.42 352.03,328.41 352.37,328.41 352.7,328.41 353.04,328.41 353.37,328.41 353.71,328.41" fill="none" stroke="#6cc044" stroke-width="1" stroke-linejoin="round" stroke-linecap="round" />
<polyline points="213.2,328.03 213.54,328.18 213.87,328.32 214.21,328.45 214.54,328.59 214.88,328.71 215.21,328.83 215.55,328.94 215.88,329.04 216.22,329.14 216.55,329.22 216.89,329.3 217.22,329.38 217.56,329.46 217.89,329.53 218.23,329.6 218.57,329.67 218.9,329.74 219.24,329.8 219.57,329.85 219.91,329.9 220.24,329.95 220.58,330 220.91,330.03 221.25,330.07 221.58,330.11 221.92,330.14 222.25,330.18 222.59,330.21 222.92,330.24 223.26,330.27 223.6,330.3 223.93,330.33 224.27,330.35 224.6,330.37 224.94,330.39 225.27,330.4 225.61,330.41 225.94,330.42 226.28,330.42 226.61,330.42 226.95,330.41 227.28,330.4 227.62,330.38 227.96,330.37 228.29,330.34 228.63,330.32 228.96,330.29 229.3,330.26 229.63,330.22 229.97,330.19 230.3,330.15 230.64,330.11 230.97,330.07 231.31,330.03 231.64,329.98 231.98,329.94 232.31,329.89 232.65,329.85 232.99,329.8 233.32,329.76 233.66,329.71 233.99,329.67 234.33,329.63 234.66,329.58 235,329.52 235.33,329.47 235.67,329.4 236,329.34 236.34,329.28 236.67,329.21 237.01,329.14 237.34,329.07 237.68,328.99 238.02,328.92 238.35,328.85 238.69,328.77 239.02,328.7 239.36,328.63 239.69,328.56 240.03,328.49 240.36,328.42 240.7,328.36 241.03,328.29 241.37,328.23 241.7,328.18 242.04,328.12 242.37,328.07 242.71,328.01 243.05,327.95 243.38,327.89 243.72,327.83 244.05,327.77 244.39,327.71 244.72,327.65 245.06,327.59 245.39,327.54 245.73,327.49 246.06,327.44 246.4,327.4 246.73,327.36 247.07,327.33 247.4,327.31 247.74,327.29 248.08,327.28 248.41,327.28 248.75,327.29 249.08,327.33 249.42,327.37 249.75,327.44 250.09,327.51 250.42,327.6 250.76,327.69 251.09,327.79 251.43,327.9 251.76,328.01 252.1,328.12 252.43,328.23 252.77,328.35 253.11,328.49 253.44,328.64 253.78,328.81 254.11,328.99 254.45,329.19 254.78,329.4 255.12,329.63 255.45,329.88 255.79,330.14 256.12,330.41 256.46,330.73 256.79,331.09 257.13,331.51 257.47,331.97 257.8,332.48 258.14,333.03 258.47,333.61 258.81,334.22 259.14,334.86 259.48,335.53 259.81,336.21 260.15,336.92 260.48,337.63 260.82,338.35 261.15,339.08 261.49,339.82 261.82,340.59 262.16,341.41 262.5,342.27 262.83,343.17 263.17,344.1 263.5,345.06 263.84,346.05 264.17,347.06 264.51,348.09 264.84,349.14 265.18,350.2 265.51,351.27 265.85,352.35 266.18,353.43 266.52,354.51 266.85,355.61 267.19,356.76 267.53,357.94 267.86,359.16 268.2,360.4 268.53,361.65 268.87,362.89 269.2,364.12 269.54,365.33 269.87,366.51 270.21,367.65 270.54,368.73 270.88,369.8 271.21,370.87 271.55,371.93 271.88,372.98 272.22,374.01 272.56,375.03 272.89,376.03 273.23,377.01 273.56,377.96 273.9,378.88 274.23,379.76 274.57,380.61 274.9,381.42 275.24,382.19 275.57,382.94 275.91,383.68 276.24,384.41 276.58,385.12 276.91,385.81 277.25,386.48 277.59,387.12 277.92,387.74 278.26,388.32 278.59,388.86 278.93,389.36 279.26,389.82 279.6,390.23 279.93,390.63 280.27,391.04 280.6,391.45 280.94,391.84 281.27,392.21 281.61,392.56 281.94,392.86 282.28,393.13 282.62,393.34 282.95,393.49 283.29,393.56 283.62,393.56 283.96,393.48 284.29,393.33 284.63,393.11 284.96,392.84 285.3,392.52 285.63,392.16 285.97,391.77 286.3,391.36 286.64,390.93 286.98,390.49 287.31,390.06 287.65,389.63 287.98,389.23 288.32,388.84 288.65,388.45 288.99,388.04 289.32,387.62 289.66,387.19 289.99,386.75 290.33,386.3 290.66,385.84 291,385.37 291.33,384.88 291.67,384.39 292.01,383.89 292.34,383.38 292.68,382.86 293.01,382.34 293.35,381.8 293.68,381.24 294.02,380.64 294.35,380 294.69,379.34 295.02,378.67 295.36,377.98 295.69,377.29 296.03,376.61 296.36,375.95 296.7,375.31 297.04,374.69 297.37,374.12 297.71,373.6 298.04,373.11 298.38,372.62 298.71,372.15 299.05,371.68 299.38,371.23 299.72,370.79 300.05,370.37 300.39,369.97 300.72,369.58 301.06,369.23 301.39,368.89 301.73,368.59 302.07,368.32 302.4,368.07 302.74,367.83 303.07,367.59 303.41,367.37 303.74,367.16 304.08,366.97 304.41,366.79 304.75,366.64 305.08,366.52 305.42,366.43 305.75,366.37 306.09,366.32 306.42,366.27 306.76,366.22 307.1,366.19 307.43,366.16 307.77,366.15 308.1,366.16 308.44,366.25 308.77,366.41 309.11,366.61 309.44,366.84 309.78,367.08 310.11,367.31 310.45,367.51 310.78,367.66 311.12,367.79 311.45,367.93 311.79,368.05 312.13,368.17 312.46,368.28 312.8,368.36 313.13,368.4 313.47,368.4 313.8,368.22 314.14,367.83 314.47,367.29 314.81,366.62 315.14,365.88 315.48,365.12 315.81,364.36 316.15,363.64 316.49,362.84 316.82,361.96 317.16,361.02 317.49,360.03 317.83,359.01 318.16,357.99 318.5,356.98 318.83,356.01 319.17,355.08 319.5,354.22 319.84,353.37 320.17,352.54 320.51,351.71 320.84,350.89 321.18,350.08 321.52,349.28 321.85,348.49 322.19,347.72 322.52,346.95 322.86,346.19 323.19,345.45 323.53,344.71 323.86,343.99 324.2,343.29 324.53,342.59 324.87,341.91 325.2,341.23 325.54,340.54 325.87,339.84 326.21,339.15 326.55,338.46 326.88,337.77 327.22,337.1 327.55,336.45 327.89,335.81 328.22,335.2 328.56,334.62 328.89,334.06 329.23,333.55 329.56,333.07 329.9,332.63 330.23,332.24 330.57,331.88 330.9,331.52 331.24,331.16 331.58,330.81 331.91,330.47 332.25,330.15 332.58,329.87 332.92,329.62 333.25,329.42 333.59,329.28 333.92,329.19 334.26,329.16 334.59,329.17 334.93,329.18 335.26,329.2 335.6,329.22 335.93,329.25 336.27,329.29 336.61,329.32 336.94,329.36 337.28,329.4 337.61,329.44 337.95,329.47 338.28,329.51 338.62,329.55 338.95,329.58 339.29,329.61 339.62,329.63 339.96,329.65 340.29,329.66 340.63,329.67 340.97,329.67 341.3,329.67 341.64,329.67 341.97,329.67 342.31,329.67 342.64,329.67 342.98,329.67 343.31,329.67 343.65,329.66 343.98,329.66 344.32,329.66 344.65,329.66 344.99,329.66 345.32,329.66 345.66,329.65 346,329.65 346.33,329.65 346.67,329.64 347,329.64 347.34,329.63 347.67,329.63 348.01,329.62 348.34,329.62 348.68,329.61 349.01,329.6 349.35,329.59 349.68,329.58 350.02,329.58 350.35,329.56 350.69,329.55 351.03,329.54 351.36,329.53 351.7,329.52 352.03,329.5 352.37,329.49 352.7,329.47 353.04,329.45 353.37,329.43 353.71,329.42" fill="none" stroke="#2db5aa" stroke-width="1" stroke-linejoin="round" stroke-linecap="round" />
<rect x="275.5" y="383.6" width="16.3" height="25.4" fill="none" stroke="#333" stroke-width="0.8" stroke-dasharray="3.0 2.2"/>
<rect x="218.3" y="364.0" width="43.1" height="51.5" fill="none" stroke="#333" stroke-width="0.8" stroke-dasharray="3.0 2.2"/>
<line x1="241" y1="364" x2="241" y2="395.5" stroke="#444" stroke-width="0.6" stroke-dasharray="1.6 1.4" />
<polyline points="229.8,364 230.25,367 230.69,369.9 231.14,372.68 231.59,375.35 232.04,377.92 232.48,380.37 232.93,382.72 233.38,384.95 233.83,387.08 234.27,389.1 234.72,391.01 235.17,392.81 235.62,394.49 236.06,396.07 236.51,397.54 236.96,398.91 237.41,400.16 237.85,401.3 238.3,402.33 238.75,403.25 239.2,404.07 239.64,404.77 240.09,405.37 240.54,405.85 240.99,406.23 241.43,406.5 241.88,406.65 242.33,406.7 242.78,406.65 243.22,406.51 243.67,406.28 244.12,405.97 244.57,405.57 245.01,405.07 245.46,404.49 245.91,403.82 246.36,403.06 246.8,402.22 247.25,401.28 247.7,400.26 248.15,399.15 248.59,397.95 249.04,396.66 249.49,395.28 249.94,393.82 250.38,392.26 250.83,390.62 251.28,388.89 251.73,387.07 252.17,385.16 252.62,383.16 253.07,381.08 253.52,378.9 253.96,376.64 254.41,374.29 254.86,371.85 255.31,369.32 255.75,366.7 256.2,364" fill="none" stroke="#f0607c" stroke-width="0.9" stroke-linejoin="round" stroke-linecap="round" />
<polyline points="228.8,364 229.24,366.2 229.67,368.31 230.11,370.35 230.55,372.31 230.99,374.18 231.42,375.98 231.86,377.69 232.3,379.33 232.74,380.88 233.17,382.36 233.61,383.75 234.05,385.07 234.48,386.3 234.92,387.46 235.36,388.53 235.8,389.52 236.23,390.44 236.67,391.27 237.11,392.03 237.55,392.7 237.98,393.29 238.42,393.81 238.86,394.24 239.29,394.59 239.73,394.86 240.17,395.06 240.61,395.17 241.04,395.2 241.48,395.16 241.92,395.06 242.36,394.89 242.79,394.66 243.23,394.36 243.67,394 244.11,393.57 244.54,393.08 244.98,392.53 245.42,391.91 245.85,391.23 246.29,390.48 246.73,389.66 247.17,388.79 247.6,387.84 248.04,386.84 248.48,385.77 248.92,384.63 249.35,383.43 249.79,382.17 250.23,380.84 250.66,379.44 251.1,377.99 251.54,376.46 251.98,374.88 252.41,373.23 252.85,371.51 253.29,369.73 253.73,367.88 254.16,365.97 254.6,364" fill="none" stroke="#6cc044" stroke-width="0.9" stroke-linejoin="round" stroke-linecap="round" />
<polyline points="228.2,364 228.63,365.95 229.06,367.83 229.49,369.62 229.92,371.34 230.35,372.97 230.78,374.53 231.21,376.01 231.64,377.4 232.07,378.72 232.51,379.96 232.94,381.12 233.37,382.2 233.8,383.2 234.23,384.12 234.66,384.96 235.09,385.72 235.52,386.4 235.95,387.01 236.38,387.53 236.81,387.97 237.24,388.34 237.67,388.62 238.1,388.83 238.53,388.95 238.96,389 239.39,388.98 239.82,388.92 240.25,388.82 240.68,388.67 241.12,388.48 241.55,388.24 241.98,387.96 242.41,387.64 242.84,387.27 243.27,386.86 243.7,386.41 244.13,385.91 244.56,385.38 244.99,384.79 245.42,384.17 245.85,383.5 246.28,382.78 246.71,382.02 247.14,381.22 247.57,380.38 248,379.49 248.43,378.56 248.86,377.59 249.29,376.57 249.73,375.51 250.16,374.4 250.59,373.26 251.02,372.06 251.45,370.83 251.88,369.55 252.31,368.23 252.74,366.86 253.17,365.45 253.6,364" fill="none" stroke="#2db5aa" stroke-width="0.9" stroke-linejoin="round" stroke-linecap="round" />
<polyline points="227.4,364 227.85,366.22 228.3,368.34 228.75,370.37 229.2,372.31 229.65,374.15 230.11,375.91 230.56,377.57 231.01,379.13 231.46,380.61 231.91,381.99 232.36,383.28 232.81,384.47 233.26,385.58 233.71,386.59 234.16,387.5 234.61,388.33 235.06,389.06 235.52,389.7 235.97,390.25 236.42,390.7 236.87,391.06 237.32,391.33 237.77,391.51 238.22,391.59 238.67,391.59 239.12,391.54 239.57,391.44 240.02,391.3 240.47,391.11 240.93,390.88 241.38,390.6 241.83,390.27 242.28,389.89 242.73,389.47 243.18,389.01 243.63,388.5 244.08,387.94 244.53,387.34 244.98,386.69 245.43,385.99 245.88,385.25 246.34,384.46 246.79,383.62 247.24,382.74 247.69,381.82 248.14,380.84 248.59,379.82 249.04,378.76 249.49,377.65 249.94,376.49 250.39,375.29 250.84,374.04 251.29,372.74 251.75,371.4 252.2,370.01 252.65,368.58 253.1,367.1 253.55,365.57 254,364" fill="none" stroke="#c586d0" stroke-width="0.9" stroke-linejoin="round" stroke-linecap="round" />
<text x="220.3" y="396.6" font-size="5.3" font-weight="normal" text-anchor="start" fill="#111" stroke="#111" stroke-width="0.2">325&#176;C</text>
<rect x="213.2" y="314.4" width="140.1" height="113" fill="none" stroke="#1a1a1a" stroke-width="1.05"/>
<line x1="213.2" y1="427.4" x2="213.2" y2="429.56" stroke="#1a1a1a" stroke-width="0.9" />
<line x1="239.22" y1="427.4" x2="239.22" y2="429.56" stroke="#1a1a1a" stroke-width="0.9" />
<line x1="265.24" y1="427.4" x2="265.24" y2="429.56" stroke="#1a1a1a" stroke-width="0.9" />
<line x1="291.26" y1="427.4" x2="291.26" y2="429.56" stroke="#1a1a1a" stroke-width="0.9" />
<line x1="317.28" y1="427.4" x2="317.28" y2="429.56" stroke="#1a1a1a" stroke-width="0.9" />
<line x1="343.3" y1="427.4" x2="343.3" y2="429.56" stroke="#1a1a1a" stroke-width="0.9" />
<line x1="226.21" y1="427.4" x2="226.21" y2="428.7" stroke="#1a1a1a" stroke-width="0.8" />
<line x1="252.23" y1="427.4" x2="252.23" y2="428.7" stroke="#1a1a1a" stroke-width="0.8" />
<line x1="278.25" y1="427.4" x2="278.25" y2="428.7" stroke="#1a1a1a" stroke-width="0.8" />
<line x1="304.27" y1="427.4" x2="304.27" y2="428.7" stroke="#1a1a1a" stroke-width="0.8" />
<line x1="330.29" y1="427.4" x2="330.29" y2="428.7" stroke="#1a1a1a" stroke-width="0.8" />
<line x1="211.04" y1="427.54" x2="213.2" y2="427.54" stroke="#1a1a1a" stroke-width="0.9" />
<line x1="211.04" y1="402.38" x2="213.2" y2="402.38" stroke="#1a1a1a" stroke-width="0.9" />
<line x1="211.04" y1="377.22" x2="213.2" y2="377.22" stroke="#1a1a1a" stroke-width="0.9" />
<line x1="211.04" y1="352.06" x2="213.2" y2="352.06" stroke="#1a1a1a" stroke-width="0.9" />
<line x1="211.04" y1="326.9" x2="213.2" y2="326.9" stroke="#1a1a1a" stroke-width="0.9" />
<line x1="211.9" y1="414.96" x2="213.2" y2="414.96" stroke="#1a1a1a" stroke-width="0.8" />
<line x1="211.9" y1="389.8" x2="213.2" y2="389.8" stroke="#1a1a1a" stroke-width="0.8" />
<line x1="211.9" y1="364.64" x2="213.2" y2="364.64" stroke="#1a1a1a" stroke-width="0.8" />
<line x1="211.9" y1="339.48" x2="213.2" y2="339.48" stroke="#1a1a1a" stroke-width="0.8" />
<text x="213.8" y="437.4" font-size="6.5" font-weight="bold" text-anchor="middle" fill="#111"  stroke="#111" stroke-width="0.14">50</text>
<text x="239.82" y="437.4" font-size="6.5" font-weight="bold" text-anchor="middle" fill="#111"  stroke="#111" stroke-width="0.14">150</text>
<text x="265.84" y="437.4" font-size="6.5" font-weight="bold" text-anchor="middle" fill="#111"  stroke="#111" stroke-width="0.14">250</text>
<text x="291.86" y="437.4" font-size="6.5" font-weight="bold" text-anchor="middle" fill="#111"  stroke="#111" stroke-width="0.14">350</text>
<text x="317.88" y="437.4" font-size="6.5" font-weight="bold" text-anchor="middle" fill="#111"  stroke="#111" stroke-width="0.14">450</text>
<text x="343.9" y="437.4" font-size="6.5" font-weight="bold" text-anchor="middle" fill="#111"  stroke="#111" stroke-width="0.14">550</text>
<text x="210.1" y="429.14" font-size="6.3" font-weight="bold" text-anchor="end" fill="#111"  stroke="#111" stroke-width="0.14">&#8722;8</text>
<text x="210.1" y="403.98" font-size="6.3" font-weight="bold" text-anchor="end" fill="#111"  stroke="#111" stroke-width="0.14">&#8722;6</text>
<text x="210.1" y="378.82" font-size="6.3" font-weight="bold" text-anchor="end" fill="#111"  stroke="#111" stroke-width="0.14">&#8722;4</text>
<text x="210.1" y="353.66" font-size="6.3" font-weight="bold" text-anchor="end" fill="#111"  stroke="#111" stroke-width="0.14">&#8722;2</text>
<text x="210.1" y="328.5" font-size="6.3" font-weight="bold" text-anchor="end" fill="#111"  stroke="#111" stroke-width="0.14">0</text>
<text x="285" y="444.8" font-size="7.7" font-weight="bold" text-anchor="middle" fill="#111"  stroke="#111" stroke-width="0.14">Temperature ( &#176;C )</text>
<text transform="translate(197.8 366.2) rotate(-90)" font-size="7.8" font-weight="bold" text-anchor="middle" fill="#111" stroke="#111" stroke-width="0.14">DTG(%/min)</text>
<line x1="303.6" y1="393" x2="317.6" y2="393" stroke="#f0607c" stroke-width="1.3" />
<text x="319.6" y="395.07" font-size="5.75" font-weight="bold" text-anchor="start" fill="#111"  stroke="#111" stroke-width="0.14">PVA-Bta<tspan font-size="75%" dy="1.3">5%</tspan></text>
<line x1="303.6" y1="402.4" x2="317.6" y2="402.4" stroke="#6cc044" stroke-width="1.3" />
<text x="319.6" y="404.47" font-size="5.75" font-weight="bold" text-anchor="start" fill="#111"  stroke="#111" stroke-width="0.14">PVA-Bta<tspan font-size="75%" dy="1.3">10%</tspan></text>
<line x1="303.6" y1="411.3" x2="317.6" y2="411.3" stroke="#2db5aa" stroke-width="1.3" />
<text x="319.6" y="413.37" font-size="5.75" font-weight="bold" text-anchor="start" fill="#111"  stroke="#111" stroke-width="0.14">PVA-Bta<tspan font-size="75%" dy="1.3">15%</tspan></text>
<line x1="303.6" y1="420" x2="317.6" y2="420" stroke="#c586d0" stroke-width="1.3" />
<text x="319.6" y="422.07" font-size="5.75" font-weight="bold" text-anchor="start" fill="#111"  stroke="#111" stroke-width="0.14">PVA-Bta<tspan font-size="75%" dy="1.3">20%</tspan></text>
<text x="377.3" y="312.5" font-size="8.2" font-weight="normal" text-anchor="start" fill="#111" stroke="#111" stroke-width="0.15">(i)</text>
<polyline points="392.7,327.3 393.2,329.77 393.7,331.73 394.2,333.37 394.69,334.26 395.19,334.83 395.69,335.25 396.19,335.48 396.69,335.56 397.19,335.62 397.69,335.67 398.19,335.71 398.68,335.74 399.18,335.76 399.68,335.79 400.18,335.81 400.68,335.83 401.18,335.85 401.68,335.87 402.17,335.89 402.67,335.91 403.17,335.93 403.67,335.95 404.17,335.97 404.67,335.99 405.17,336 405.67,336.02 406.16,336.04 406.66,336.05 407.16,336.07 407.66,336.08 408.16,336.1 408.66,336.11 409.16,336.12 409.65,336.14 410.15,336.15 410.65,336.16 411.15,336.17 411.65,336.19 412.15,336.2 412.65,336.21 413.15,336.22 413.64,336.23 414.14,336.24 414.64,336.25 415.14,336.26 415.64,336.27 416.14,336.28 416.64,336.29 417.13,336.3 417.63,336.31 418.13,336.32 418.63,336.33 419.13,336.34 419.63,336.35 420.13,336.36 420.63,336.37 421.12,336.38 421.62,336.39 422.12,336.4 422.62,336.41 423.12,336.42 423.62,336.44 424.12,336.45 424.61,336.46 425.11,336.47 425.61,336.48 426.11,336.49 426.61,336.51 427.11,336.52 427.61,336.53 428.11,336.55 428.6,336.56 429.1,336.57 429.6,336.59 430.1,336.6 430.6,336.62 431.1,336.63 431.6,336.65 432.09,336.66 432.59,336.68 433.09,336.69 433.59,336.71 434.09,336.72 434.59,336.74 435.09,336.75 435.58,336.77 436.08,336.78 436.58,336.8 437.08,336.81 437.58,336.83 438.08,336.84 438.58,336.86 439.08,336.87 439.57,336.89 440.07,336.91 440.57,336.92 441.07,336.94 441.57,336.96 442.07,336.97 442.57,336.99 443.06,337.01 443.56,337.03 444.06,337.04 444.56,337.06 445.06,337.08 445.56,337.1 446.06,337.12 446.56,337.14 447.05,337.16 447.55,337.19 448.05,337.21 448.55,337.23 449.05,337.25 449.55,337.28 450.05,337.3 450.54,337.33 451.04,337.35 451.54,337.38 452.04,337.41 452.54,337.44 453.04,337.47 453.54,337.5 454.04,337.53 454.53,337.56 455.03,337.6 455.53,337.63 456.03,337.67 456.53,337.71 457.03,337.75 457.53,337.79 458.02,337.83 458.52,337.87 459.02,337.91 459.52,337.96 460.02,338 460.52,338.05 461.02,338.1 461.52,338.15 462.01,338.2 462.51,338.26 463.01,338.32 463.51,338.38 464.01,338.45 464.51,338.52 465.01,338.6 465.5,338.68 466,338.76 466.5,338.85 467,338.94 467.5,339.04 468,339.16 468.5,339.29 469,339.43 469.49,339.58 469.99,339.73 470.49,339.88 470.99,340.01 471.49,340.11 471.99,340.2 472.49,340.26 472.98,340.32 473.48,340.38 473.98,340.43 474.48,340.48 474.98,340.53 475.48,340.57 475.98,340.61 476.48,340.65 476.97,340.69 477.47,340.73 477.97,340.76 478.47,340.8 478.97,340.83 479.47,340.86 479.97,340.9 480.46,340.93 480.96,340.97 481.46,341 481.96,341.03 482.46,341.06 482.96,341.09 483.46,341.12 483.96,341.15 484.45,341.18 484.95,341.21 485.45,341.24 485.95,341.27 486.45,341.3 486.95,341.32 487.45,341.35 487.94,341.38 488.44,341.4 488.94,341.43 489.44,341.45 489.94,341.48 490.44,341.5 490.94,341.53 491.44,341.55 491.93,341.58 492.43,341.6 492.93,341.63 493.43,341.65 493.93,341.68 494.43,341.7 494.93,341.73 495.42,341.75 495.92,341.78 496.42,341.81 496.92,341.83 497.42,341.86 497.92,341.88 498.42,341.91 498.92,341.94 499.41,341.97 499.91,341.99 500.41,342.02 500.91,342.05 501.41,342.08 501.91,342.11 502.41,342.14 502.9,342.17 503.4,342.2 503.9,342.23 504.4,342.26 504.9,342.29 505.4,342.32 505.9,342.35 506.39,342.38 506.89,342.41 507.39,342.44 507.89,342.47 508.39,342.5 508.89,342.53 509.39,342.56 509.89,342.59 510.38,342.62 510.88,342.65 511.38,342.68 511.88,342.71 512.38,342.74 512.88,342.77 513.38,342.8 513.87,342.83 514.37,342.86 514.87,342.89 515.37,342.92 515.87,342.95 516.37,342.98 516.87,343.01 517.37,343.04 517.86,343.07 518.36,343.1 518.86,343.13 519.36,343.16 519.86,343.19 520.36,343.22 520.86,343.25 521.35,343.28 521.85,343.31 522.35,343.34 522.85,343.37 523.35,343.4 523.85,343.43 524.35,343.46 524.85,343.49 525.34,343.52 525.84,343.55 526.34,343.58 526.84,343.61 527.34,343.64 527.84,343.67 528.34,343.7 528.83,343.73 529.33,343.76 529.83,343.79 530.33,343.82 530.83,343.85 531.33,343.88 531.83,343.91 532.33,343.94 532.82,343.97 533.32,344 533.82,344.03 534.32,344.05 534.82,344.08 535.32,344.11 535.82,344.14 536.31,344.17 536.81,344.2 537.31,344.23 537.81,344.26 538.31,344.29 538.81,344.32 539.31,344.35 539.81,344.38 540.3,344.41 540.8,344.44 541.3,344.47 541.8,344.5" fill="none" stroke="#c586d0" stroke-width="1.1" stroke-linejoin="round" stroke-linecap="round" />
<polyline points="392.7,344.5 393.2,347.82 393.7,350.46 394.2,352.67 394.69,354.29 395.19,355.15 395.69,355.81 396.19,356.25 396.69,356.46 397.19,356.59 397.69,356.7 398.19,356.78 398.68,356.85 399.18,356.91 399.68,356.97 400.18,357.02 400.68,357.07 401.18,357.12 401.68,357.17 402.17,357.22 402.67,357.27 403.17,357.32 403.67,357.36 404.17,357.41 404.67,357.45 405.17,357.49 405.67,357.53 406.16,357.57 406.66,357.61 407.16,357.65 407.66,357.69 408.16,357.72 408.66,357.76 409.16,357.79 409.65,357.83 410.15,357.86 410.65,357.89 411.15,357.92 411.65,357.95 412.15,357.99 412.65,358.02 413.15,358.04 413.64,358.07 414.14,358.1 414.64,358.13 415.14,358.16 415.64,358.19 416.14,358.21 416.64,358.24 417.13,358.27 417.63,358.29 418.13,358.32 418.63,358.35 419.13,358.37 419.63,358.4 420.13,358.43 420.63,358.45 421.12,358.48 421.62,358.5 422.12,358.53 422.62,358.56 423.12,358.59 423.62,358.61 424.12,358.64 424.61,358.67 425.11,358.7 425.61,358.72 426.11,358.75 426.61,358.78 427.11,358.81 427.61,358.84 428.11,358.88 428.6,358.91 429.1,358.94 429.6,358.97 430.1,359.01 430.6,359.04 431.1,359.07 431.6,359.11 432.09,359.14 432.59,359.17 433.09,359.21 433.59,359.24 434.09,359.27 434.59,359.3 435.09,359.34 435.58,359.37 436.08,359.4 436.58,359.43 437.08,359.47 437.58,359.5 438.08,359.53 438.58,359.56 439.08,359.6 439.57,359.63 440.07,359.66 440.57,359.7 441.07,359.73 441.57,359.76 442.07,359.8 442.57,359.83 443.06,359.87 443.56,359.9 444.06,359.94 444.56,359.97 445.06,360.01 445.56,360.05 446.06,360.08 446.56,360.12 447.05,360.16 447.55,360.2 448.05,360.24 448.55,360.28 449.05,360.32 449.55,360.36 450.05,360.4 450.54,360.45 451.04,360.49 451.54,360.53 452.04,360.58 452.54,360.62 453.04,360.67 453.54,360.71 454.04,360.76 454.53,360.81 455.03,360.85 455.53,360.9 456.03,360.95 456.53,361 457.03,361.05 457.53,361.1 458.02,361.15 458.52,361.21 459.02,361.26 459.52,361.32 460.02,361.37 460.52,361.43 461.02,361.49 461.52,361.55 462.01,361.61 462.51,361.67 463.01,361.73 463.51,361.8 464.01,361.87 464.51,361.93 465.01,362 465.5,362.07 466,362.14 466.5,362.22 467,362.29 467.5,362.37 468,362.45 468.5,362.54 469,362.63 469.49,362.72 469.99,362.81 470.49,362.91 470.99,363.01 471.49,363.11 471.99,363.22 472.49,363.33 472.98,363.45 473.48,363.57 473.98,363.7 474.48,363.86 474.98,364.04 475.48,364.23 475.98,364.43 476.48,364.64 476.97,364.84 477.47,365.03 477.97,365.21 478.47,365.36 478.97,365.49 479.47,365.6 479.97,365.71 480.46,365.81 480.96,365.91 481.46,366 481.96,366.08 482.46,366.17 482.96,366.25 483.46,366.32 483.96,366.39 484.45,366.46 484.95,366.53 485.45,366.59 485.95,366.65 486.45,366.71 486.95,366.76 487.45,366.81 487.94,366.86 488.44,366.91 488.94,366.96 489.44,367 489.94,367.04 490.44,367.09 490.94,367.13 491.44,367.17 491.93,367.2 492.43,367.24 492.93,367.28 493.43,367.32 493.93,367.35 494.43,367.39 494.93,367.42 495.42,367.46 495.92,367.49 496.42,367.53 496.92,367.56 497.42,367.6 497.92,367.64 498.42,367.67 498.92,367.71 499.41,367.75 499.91,367.79 500.41,367.83 500.91,367.88 501.41,367.92 501.91,367.96 502.41,368 502.9,368.04 503.4,368.08 503.9,368.13 504.4,368.17 504.9,368.21 505.4,368.25 505.9,368.3 506.39,368.34 506.89,368.38 507.39,368.42 507.89,368.47 508.39,368.51 508.89,368.55 509.39,368.59 509.89,368.64 510.38,368.68 510.88,368.72 511.38,368.77 511.88,368.81 512.38,368.85 512.88,368.89 513.38,368.94 513.87,368.98 514.37,369.02 514.87,369.07 515.37,369.11 515.87,369.15 516.37,369.19 516.87,369.24 517.37,369.28 517.86,369.32 518.36,369.36 518.86,369.4 519.36,369.45 519.86,369.49 520.36,369.53 520.86,369.57 521.35,369.61 521.85,369.66 522.35,369.7 522.85,369.74 523.35,369.78 523.85,369.82 524.35,369.86 524.85,369.9 525.34,369.95 525.84,369.99 526.34,370.03 526.84,370.07 527.34,370.11 527.84,370.15 528.34,370.19 528.83,370.24 529.33,370.28 529.83,370.32 530.33,370.36 530.83,370.4 531.33,370.44 531.83,370.48 532.33,370.52 532.82,370.57 533.32,370.61 533.82,370.65 534.32,370.69 534.82,370.73 535.32,370.77 535.82,370.81 536.31,370.85 536.81,370.89 537.31,370.93 537.81,370.97 538.31,371.02 538.81,371.06 539.31,371.1 539.81,371.14 540.3,371.18 540.8,371.22 541.3,371.26 541.8,371.3" fill="none" stroke="#2db5aa" stroke-width="1.1" stroke-linejoin="round" stroke-linecap="round" />
<polyline points="392.7,379 393.2,380.87 393.7,382.22 394.2,383.25 394.69,383.93 395.19,384.18 395.69,384.36 396.19,384.46 396.69,384.51 397.19,384.55 397.69,384.59 398.19,384.62 398.68,384.65 399.18,384.68 399.68,384.71 400.18,384.74 400.68,384.77 401.18,384.79 401.68,384.81 402.17,384.83 402.67,384.85 403.17,384.87 403.67,384.89 404.17,384.91 404.67,384.92 405.17,384.94 405.67,384.95 406.16,384.96 406.66,384.98 407.16,384.99 407.66,385 408.16,385.01 408.66,385.02 409.16,385.03 409.65,385.04 410.15,385.05 410.65,385.06 411.15,385.07 411.65,385.08 412.15,385.09 412.65,385.1 413.15,385.11 413.64,385.12 414.14,385.13 414.64,385.14 415.14,385.15 415.64,385.16 416.14,385.17 416.64,385.19 417.13,385.2 417.63,385.22 418.13,385.23 418.63,385.25 419.13,385.27 419.63,385.29 420.13,385.31 420.63,385.33 421.12,385.35 421.62,385.37 422.12,385.39 422.62,385.41 423.12,385.44 423.62,385.46 424.12,385.48 424.61,385.51 425.11,385.53 425.61,385.56 426.11,385.58 426.61,385.61 427.11,385.63 427.61,385.66 428.11,385.69 428.6,385.71 429.1,385.74 429.6,385.77 430.1,385.79 430.6,385.82 431.1,385.85 431.6,385.88 432.09,385.9 432.59,385.93 433.09,385.96 433.59,385.99 434.09,386.02 434.59,386.04 435.09,386.07 435.58,386.1 436.08,386.13 436.58,386.16 437.08,386.19 437.58,386.22 438.08,386.24 438.58,386.27 439.08,386.3 439.57,386.33 440.07,386.36 440.57,386.39 441.07,386.42 441.57,386.45 442.07,386.47 442.57,386.5 443.06,386.53 443.56,386.56 444.06,386.59 444.56,386.61 445.06,386.64 445.56,386.67 446.06,386.69 446.56,386.72 447.05,386.75 447.55,386.77 448.05,386.8 448.55,386.83 449.05,386.85 449.55,386.88 450.05,386.9 450.54,386.93 451.04,386.95 451.54,386.98 452.04,387 452.54,387.02 453.04,387.05 453.54,387.07 454.04,387.09 454.53,387.11 455.03,387.14 455.53,387.16 456.03,387.18 456.53,387.2 457.03,387.22 457.53,387.25 458.02,387.27 458.52,387.29 459.02,387.31 459.52,387.33 460.02,387.35 460.52,387.37 461.02,387.39 461.52,387.42 462.01,387.44 462.51,387.46 463.01,387.48 463.51,387.5 464.01,387.52 464.51,387.54 465.01,387.56 465.5,387.58 466,387.61 466.5,387.63 467,387.65 467.5,387.67 468,387.69 468.5,387.71 469,387.74 469.49,387.76 469.99,387.78 470.49,387.8 470.99,387.83 471.49,387.85 471.99,387.87 472.49,387.9 472.98,387.92 473.48,387.95 473.98,387.97 474.48,388 474.98,388.02 475.48,388.05 475.98,388.07 476.48,388.1 476.97,388.13 477.47,388.15 477.97,388.18 478.47,388.21 478.97,388.24 479.47,388.27 479.97,388.3 480.46,388.33 480.96,388.36 481.46,388.39 481.96,388.42 482.46,388.45 482.96,388.48 483.46,388.52 483.96,388.55 484.45,388.58 484.95,388.62 485.45,388.65 485.95,388.69 486.45,388.72 486.95,388.76 487.45,388.8 487.94,388.83 488.44,388.87 488.94,388.91 489.44,388.95 489.94,388.99 490.44,389.03 490.94,389.08 491.44,389.12 491.93,389.16 492.43,389.21 492.93,389.25 493.43,389.3 493.93,389.35 494.43,389.39 494.93,389.44 495.42,389.49 495.92,389.54 496.42,389.6 496.92,389.65 497.42,389.71 497.92,389.77 498.42,389.83 498.92,389.89 499.41,389.96 499.91,390.03 500.41,390.1 500.91,390.17 501.41,390.24 501.91,390.32 502.41,390.4 502.9,390.48 503.4,390.57 503.9,390.67 504.4,390.77 504.9,390.89 505.4,391 505.9,391.12 506.39,391.24 506.89,391.35 507.39,391.47 507.89,391.58 508.39,391.68 508.89,391.8 509.39,391.91 509.89,392.03 510.38,392.14 510.88,392.25 511.38,392.35 511.88,392.44 512.38,392.52 512.88,392.59 513.38,392.64 513.87,392.68 514.37,392.72 514.87,392.75 515.37,392.79 515.87,392.82 516.37,392.84 516.87,392.87 517.37,392.9 517.86,392.93 518.36,392.96 518.86,392.99 519.36,393.03 519.86,393.06 520.36,393.1 520.86,393.13 521.35,393.17 521.85,393.21 522.35,393.24 522.85,393.28 523.35,393.32 523.85,393.36 524.35,393.39 524.85,393.43 525.34,393.47 525.84,393.51 526.34,393.54 526.84,393.58 527.34,393.62 527.84,393.65 528.34,393.69 528.83,393.72 529.33,393.76 529.83,393.79 530.33,393.82 530.83,393.85 531.33,393.89 531.83,393.92 532.33,393.95 532.82,393.98 533.32,394.01 533.82,394.04 534.32,394.07 534.82,394.1 535.32,394.13 535.82,394.16 536.31,394.19 536.81,394.22 537.31,394.25 537.81,394.28 538.31,394.31 538.81,394.34 539.31,394.37 539.81,394.39 540.3,394.42 540.8,394.45 541.3,394.47 541.8,394.5" fill="none" stroke="#6cc044" stroke-width="1.1" stroke-linejoin="round" stroke-linecap="round" />
<polyline points="392.7,408.7 393.2,409.3 393.7,409.75 394.2,409.97 394.69,410.15 395.19,410.29 395.69,410.38 396.19,410.41 396.69,410.43 397.19,410.45 397.69,410.46 398.19,410.48 398.68,410.5 399.18,410.51 399.68,410.53 400.18,410.54 400.68,410.55 401.18,410.56 401.68,410.57 402.17,410.58 402.67,410.59 403.17,410.6 403.67,410.61 404.17,410.62 404.67,410.63 405.17,410.63 405.67,410.64 406.16,410.65 406.66,410.65 407.16,410.66 407.66,410.66 408.16,410.67 408.66,410.67 409.16,410.68 409.65,410.68 410.15,410.69 410.65,410.69 411.15,410.69 411.65,410.7 412.15,410.7 412.65,410.71 413.15,410.71 413.64,410.72 414.14,410.72 414.64,410.73 415.14,410.73 415.64,410.74 416.14,410.74 416.64,410.75 417.13,410.75 417.63,410.76 418.13,410.77 418.63,410.78 419.13,410.78 419.63,410.79 420.13,410.8 420.63,410.81 421.12,410.82 421.62,410.83 422.12,410.84 422.62,410.85 423.12,410.86 423.62,410.87 424.12,410.88 424.61,410.89 425.11,410.91 425.61,410.92 426.11,410.93 426.61,410.94 427.11,410.95 427.61,410.96 428.11,410.97 428.6,410.98 429.1,410.99 429.6,411.01 430.1,411.02 430.6,411.03 431.1,411.04 431.6,411.05 432.09,411.06 432.59,411.08 433.09,411.09 433.59,411.1 434.09,411.11 434.59,411.12 435.09,411.14 435.58,411.15 436.08,411.16 436.58,411.17 437.08,411.19 437.58,411.2 438.08,411.21 438.58,411.22 439.08,411.23 439.57,411.25 440.07,411.26 440.57,411.27 441.07,411.28 441.57,411.3 442.07,411.31 442.57,411.32 443.06,411.33 443.56,411.35 444.06,411.36 444.56,411.37 445.06,411.38 445.56,411.39 446.06,411.41 446.56,411.42 447.05,411.43 447.55,411.44 448.05,411.45 448.55,411.47 449.05,411.48 449.55,411.49 450.05,411.5 450.54,411.51 451.04,411.52 451.54,411.54 452.04,411.55 452.54,411.56 453.04,411.57 453.54,411.58 454.04,411.59 454.53,411.6 455.03,411.61 455.53,411.63 456.03,411.64 456.53,411.65 457.03,411.66 457.53,411.67 458.02,411.68 458.52,411.69 459.02,411.7 459.52,411.71 460.02,411.72 460.52,411.74 461.02,411.75 461.52,411.76 462.01,411.77 462.51,411.78 463.01,411.79 463.51,411.8 464.01,411.81 464.51,411.82 465.01,411.83 465.5,411.85 466,411.86 466.5,411.87 467,411.88 467.5,411.89 468,411.9 468.5,411.91 469,411.92 469.49,411.94 469.99,411.95 470.49,411.96 470.99,411.97 471.49,411.98 471.99,411.99 472.49,412.01 472.98,412.02 473.48,412.03 473.98,412.04 474.48,412.06 474.98,412.07 475.48,412.08 475.98,412.09 476.48,412.11 476.97,412.12 477.47,412.13 477.97,412.15 478.47,412.16 478.97,412.17 479.47,412.19 479.97,412.2 480.46,412.21 480.96,412.23 481.46,412.24 481.96,412.25 482.46,412.26 482.96,412.28 483.46,412.29 483.96,412.3 484.45,412.31 484.95,412.33 485.45,412.34 485.95,412.35 486.45,412.37 486.95,412.38 487.45,412.39 487.94,412.41 488.44,412.42 488.94,412.44 489.44,412.45 489.94,412.47 490.44,412.48 490.94,412.5 491.44,412.52 491.93,412.54 492.43,412.56 492.93,412.58 493.43,412.6 493.93,412.62 494.43,412.65 494.93,412.67 495.42,412.7 495.92,412.72 496.42,412.76 496.92,412.79 497.42,412.83 497.92,412.88 498.42,412.93 498.92,412.98 499.41,413.03 499.91,413.09 500.41,413.15 500.91,413.22 501.41,413.28 501.91,413.35 502.41,413.42 502.9,413.49 503.4,413.56 503.9,413.65 504.4,413.74 504.9,413.84 505.4,413.94 505.9,414.05 506.39,414.16 506.89,414.27 507.39,414.37 507.89,414.48 508.39,414.58 508.89,414.69 509.39,414.79 509.89,414.9 510.38,415.01 510.88,415.11 511.38,415.2 511.88,415.28 512.38,415.36 512.88,415.43 513.38,415.5 513.87,415.57 514.37,415.63 514.87,415.68 515.37,415.73 515.87,415.77 516.37,415.8 516.87,415.82 517.37,415.84 517.86,415.86 518.36,415.87 518.86,415.89 519.36,415.9 519.86,415.91 520.36,415.93 520.86,415.94 521.35,415.95 521.85,415.96 522.35,415.97 522.85,415.97 523.35,415.98 523.85,415.99 524.35,416 524.85,416.01 525.34,416.01 525.84,416.02 526.34,416.03 526.84,416.04 527.34,416.05 527.84,416.06 528.34,416.06 528.83,416.07 529.33,416.08 529.83,416.1 530.33,416.11 530.83,416.12 531.33,416.13 531.83,416.14 532.33,416.16 532.82,416.17 533.32,416.18 533.82,416.19 534.32,416.21 534.82,416.22 535.32,416.23 535.82,416.24 536.31,416.26 536.81,416.27 537.31,416.28 537.81,416.29 538.31,416.31 538.81,416.32 539.31,416.33 539.81,416.35 540.3,416.36 540.8,416.37 541.3,416.39 541.8,416.4" fill="none" stroke="#f0607c" stroke-width="1.1" stroke-linejoin="round" stroke-linecap="round" />
<line x1="467.3" y1="330" x2="467.3" y2="346.4" stroke="#333" stroke-width="0.6" stroke-dasharray="2 1.6" />
<line x1="473.6" y1="357.3" x2="473.6" y2="371.3" stroke="#333" stroke-width="0.6" stroke-dasharray="2 1.6" />
<line x1="507.8" y1="383.6" x2="507.8" y2="397.3" stroke="#333" stroke-width="0.6" stroke-dasharray="2 1.6" />
<line x1="510.5" y1="405.5" x2="510.5" y2="418.2" stroke="#333" stroke-width="0.6" stroke-dasharray="2 1.6" />
<text x="471.5" y="335.9" font-size="5.6" font-weight="bold" text-anchor="start" fill="#111"  stroke="#111" stroke-width="0.14">10.4&#176;C</text>
<text x="476.4" y="361.2" font-size="5.6" font-weight="bold" text-anchor="start" fill="#111"  stroke="#111" stroke-width="0.14">17.1&#176;C</text>
<text x="510.4" y="389.9" font-size="5.6" font-weight="bold" text-anchor="start" fill="#111"  stroke="#111" stroke-width="0.14">53.6&#176;C</text>
<text x="513" y="411.3" font-size="5.6" font-weight="bold" text-anchor="start" fill="#111"  stroke="#111" stroke-width="0.14">56.7&#176;C</text>
<rect x="392.7" y="314.3" width="149.1" height="111.2" fill="none" stroke="#1a1a1a" stroke-width="1.05"/>
<line x1="392.7" y1="425.5" x2="392.7" y2="427.42" stroke="#1a1a1a" stroke-width="0.9" />
<line x1="411.34" y1="425.5" x2="411.34" y2="427.42" stroke="#1a1a1a" stroke-width="0.9" />
<line x1="429.97" y1="425.5" x2="429.97" y2="427.42" stroke="#1a1a1a" stroke-width="0.9" />
<line x1="448.61" y1="425.5" x2="448.61" y2="427.42" stroke="#1a1a1a" stroke-width="0.9" />
<line x1="467.25" y1="425.5" x2="467.25" y2="427.42" stroke="#1a1a1a" stroke-width="0.9" />
<line x1="485.89" y1="425.5" x2="485.89" y2="427.42" stroke="#1a1a1a" stroke-width="0.9" />
<line x1="504.52" y1="425.5" x2="504.52" y2="427.42" stroke="#1a1a1a" stroke-width="0.9" />
<line x1="523.16" y1="425.5" x2="523.16" y2="427.42" stroke="#1a1a1a" stroke-width="0.9" />
<line x1="541.8" y1="425.5" x2="541.8" y2="427.42" stroke="#1a1a1a" stroke-width="0.9" />
<line x1="402.02" y1="425.5" x2="402.02" y2="426.65" stroke="#1a1a1a" stroke-width="0.8" />
<line x1="420.66" y1="425.5" x2="420.66" y2="426.65" stroke="#1a1a1a" stroke-width="0.8" />
<line x1="439.29" y1="425.5" x2="439.29" y2="426.65" stroke="#1a1a1a" stroke-width="0.8" />
<line x1="457.93" y1="425.5" x2="457.93" y2="426.65" stroke="#1a1a1a" stroke-width="0.8" />
<line x1="476.57" y1="425.5" x2="476.57" y2="426.65" stroke="#1a1a1a" stroke-width="0.8" />
<line x1="495.21" y1="425.5" x2="495.21" y2="426.65" stroke="#1a1a1a" stroke-width="0.8" />
<line x1="513.84" y1="425.5" x2="513.84" y2="426.65" stroke="#1a1a1a" stroke-width="0.8" />
<line x1="532.48" y1="425.5" x2="532.48" y2="426.65" stroke="#1a1a1a" stroke-width="0.8" />
<text x="393.5" y="434.2" font-size="6.5" font-weight="bold" text-anchor="middle" fill="#111"  stroke="#111" stroke-width="0.14">&#8722;70</text>
<text x="412.14" y="434.2" font-size="6.5" font-weight="bold" text-anchor="middle" fill="#111"  stroke="#111" stroke-width="0.14">&#8722;50</text>
<text x="430.77" y="434.2" font-size="6.5" font-weight="bold" text-anchor="middle" fill="#111"  stroke="#111" stroke-width="0.14">&#8722;30</text>
<text x="449.41" y="434.2" font-size="6.5" font-weight="bold" text-anchor="middle" fill="#111"  stroke="#111" stroke-width="0.14">&#8722;10</text>
<text x="468.05" y="434.2" font-size="6.5" font-weight="bold" text-anchor="middle" fill="#111"  stroke="#111" stroke-width="0.14">10</text>
<text x="486.69" y="434.2" font-size="6.5" font-weight="bold" text-anchor="middle" fill="#111"  stroke="#111" stroke-width="0.14">30</text>
<text x="505.32" y="434.2" font-size="6.5" font-weight="bold" text-anchor="middle" fill="#111"  stroke="#111" stroke-width="0.14">50</text>
<text x="523.96" y="434.2" font-size="6.5" font-weight="bold" text-anchor="middle" fill="#111"  stroke="#111" stroke-width="0.14">70</text>
<text x="542.6" y="434.2" font-size="6.5" font-weight="bold" text-anchor="middle" fill="#111"  stroke="#111" stroke-width="0.14">90</text>
<text x="474.2" y="443.3" font-size="7.6" font-weight="bold" text-anchor="middle" fill="#111"  stroke="#111" stroke-width="0.14">Temperature ( &#176;C )</text>
<text transform="translate(384.2 369) rotate(-90)" font-size="7.8" font-weight="bold" text-anchor="middle" fill="#111" stroke="#111" stroke-width="0.14">Heat Flow ( mW/mg )</text>
<line x1="501" y1="319" x2="511.8" y2="319" stroke="#c586d0" stroke-width="1" />
<text x="513.4" y="320.8" font-size="5" font-weight="bold" text-anchor="start" fill="#111"  stroke="#111" stroke-width="0.14">PVA-Bta<tspan font-size="75%" dy="1.3">20%</tspan></text>
<line x1="501" y1="326" x2="511.8" y2="326" stroke="#2db5aa" stroke-width="1" />
<text x="513.4" y="327.8" font-size="5" font-weight="bold" text-anchor="start" fill="#111"  stroke="#111" stroke-width="0.14">PVA-Bta<tspan font-size="75%" dy="1.3">15%</tspan></text>
<line x1="501" y1="332.7" x2="511.8" y2="332.7" stroke="#6cc044" stroke-width="1" />
<text x="513.4" y="334.5" font-size="5" font-weight="bold" text-anchor="start" fill="#111"  stroke="#111" stroke-width="0.14">PVA-Bta<tspan font-size="75%" dy="1.3">10%</tspan></text>
<line x1="501" y1="339.5" x2="511.8" y2="339.5" stroke="#f0607c" stroke-width="1" />
<text x="513.4" y="341.3" font-size="5" font-weight="bold" text-anchor="start" fill="#111"  stroke="#111" stroke-width="0.14">PVA-Bta<tspan font-size="75%" dy="1.3">5%</tspan></text>
</svg></body></html>
